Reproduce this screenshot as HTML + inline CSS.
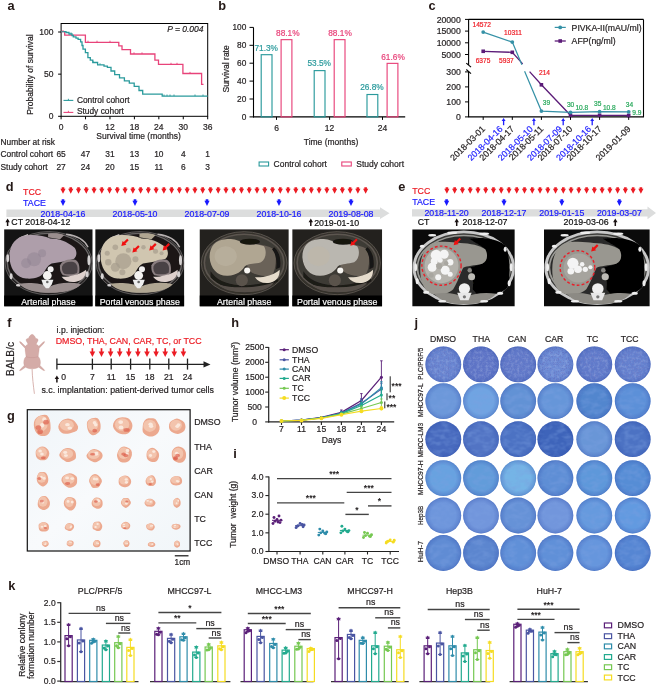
<!DOCTYPE html>
<html><head><meta charset="utf-8"><title>Figure</title>
<style>html,body{margin:0;padding:0;background:#fff;} svg{display:block;} text{font-family:"Liberation Sans", Arial, Helvetica, sans-serif;}</style>
</head><body>
<svg width="657" height="685" viewBox="0 0 657 685">
<defs>
<filter id="soft" x="-5%" y="-5%" width="110%" height="110%"><feGaussianBlur stdDeviation="0.55"/></filter>
<filter id="speck" x="0" y="0" width="1" height="1"><feTurbulence type="fractalNoise" baseFrequency="1.5" numOctaves="1" seed="4"/><feColorMatrix type="matrix" values="0 0 0 0 0.14  0 0 0 0 0.2  0 0 0 0 0.58  8 0 0 0 -4.0"/><feComposite in2="SourceGraphic" operator="in"/></filter>
<filter id="speck3" x="0" y="0" width="1" height="1"><feTurbulence type="fractalNoise" baseFrequency="0.35" numOctaves="2" seed="17"/><feColorMatrix type="matrix" values="0 0 0 0 0.6  0 0 0 0 0.72  0 0 0 0 0.93  3 0 0 0 -1.3"/><feComposite in2="SourceGraphic" operator="in"/></filter>
<filter id="speck2" x="0" y="0" width="1" height="1"><feTurbulence type="fractalNoise" baseFrequency="0.12 0.2" numOctaves="2" seed="9"/><feColorMatrix type="matrix" values="0 0 0 0 0.2  0 0 0 0 0.35  0 0 0 0 0.75  3 0 0 0 -1.2"/><feComposite in2="SourceGraphic" operator="in"/></filter>
<radialGradient id="rim" cx="0.5" cy="0.5" r="0.5"><stop offset="0.7" stop-color="#2a4aa8" stop-opacity="0"/><stop offset="0.93" stop-color="#2a4aa8" stop-opacity="0.22"/><stop offset="1" stop-color="#2a4aa8" stop-opacity="0.4"/></radialGradient>
<filter id="tsoft" x="-20%" y="-20%" width="140%" height="140%"><feGaussianBlur stdDeviation="0.45"/></filter>
</defs>
<text x="7.50" y="9.60" font-size="12.8" font-weight="bold" fill="#231816">a</text>
<rect x="61.10" y="23.50" width="146.60" height="92.80" fill="none" stroke="#000" stroke-width="1"/>
<line x1="58.10" y1="116.30" x2="61.10" y2="116.30" stroke="#000" stroke-width="1"/>
<text x="53.50" y="119.30" font-size="8.5" text-anchor="end" fill="#231f20" stroke="#231f20" stroke-width="0.2">0</text>
<line x1="58.10" y1="74.15" x2="61.10" y2="74.15" stroke="#000" stroke-width="1"/>
<text x="53.50" y="77.15" font-size="8.5" text-anchor="end" fill="#231f20" stroke="#231f20" stroke-width="0.2">50</text>
<line x1="58.10" y1="32.00" x2="61.10" y2="32.00" stroke="#000" stroke-width="1"/>
<text x="53.50" y="35.00" font-size="8.5" text-anchor="end" fill="#231f20" stroke="#231f20" stroke-width="0.2">100</text>
<line x1="61.10" y1="116.30" x2="61.10" y2="119.30" stroke="#000" stroke-width="1"/>
<text x="61.10" y="130.00" font-size="8.5" text-anchor="middle" fill="#231f20" stroke="#231f20" stroke-width="0.2">0</text>
<line x1="85.53" y1="116.30" x2="85.53" y2="119.30" stroke="#000" stroke-width="1"/>
<text x="85.53" y="130.00" font-size="8.5" text-anchor="middle" fill="#231f20" stroke="#231f20" stroke-width="0.2">6</text>
<line x1="109.97" y1="116.30" x2="109.97" y2="119.30" stroke="#000" stroke-width="1"/>
<text x="109.97" y="130.00" font-size="8.5" text-anchor="middle" fill="#231f20" stroke="#231f20" stroke-width="0.2">12</text>
<line x1="134.40" y1="116.30" x2="134.40" y2="119.30" stroke="#000" stroke-width="1"/>
<text x="134.40" y="130.00" font-size="8.5" text-anchor="middle" fill="#231f20" stroke="#231f20" stroke-width="0.2">18</text>
<line x1="158.83" y1="116.30" x2="158.83" y2="119.30" stroke="#000" stroke-width="1"/>
<text x="158.83" y="130.00" font-size="8.5" text-anchor="middle" fill="#231f20" stroke="#231f20" stroke-width="0.2">24</text>
<line x1="183.27" y1="116.30" x2="183.27" y2="119.30" stroke="#000" stroke-width="1"/>
<text x="183.27" y="130.00" font-size="8.5" text-anchor="middle" fill="#231f20" stroke="#231f20" stroke-width="0.2">30</text>
<line x1="207.70" y1="116.30" x2="207.70" y2="119.30" stroke="#000" stroke-width="1"/>
<text x="207.70" y="130.00" font-size="8.5" text-anchor="middle" fill="#231f20" stroke="#231f20" stroke-width="0.2">36</text>
<text x="138.60" y="139.30" font-size="8.5" text-anchor="middle" fill="#231f20" stroke="#231f20" stroke-width="0.2">Survival time (months)</text>
<text x="33.40" y="74.60" font-size="8.5" text-anchor="middle" fill="#231f20" stroke="#231f20" stroke-width="0.2" transform="rotate(-90 33.40 74.60)">Probability of survival</text>
<text x="203.50" y="32.30" font-size="8.5" text-anchor="end" font-style="italic" fill="#231f20" stroke="#231f20" stroke-width="0.2">P = 0.004</text>
<polyline points="61.30,31.60 64.70,31.60 64.70,35.20 85.40,35.20 85.40,42.30 118.80,42.30 118.80,45.90 122.00,45.90 122.00,49.60 130.50,49.60 130.50,54.00 154.90,54.00 154.90,60.10 158.50,60.10 158.50,64.40 182.90,64.40 182.90,73.50 201.60,73.50 201.60,84.40 203.50,84.40" fill="none" stroke="#e8437a" stroke-width="1.3"/>
<polyline points="61.30,31.60 66.00,31.60 66.00,32.50 69.00,32.50 69.00,34.00 72.00,34.00 72.00,35.50 73.30,35.50 73.30,36.90 76.00,36.90 76.00,38.20 78.10,38.20 78.10,39.40 80.60,39.40 80.60,41.80 82.00,41.80 82.00,45.50 83.00,45.50 83.00,49.10 85.40,49.10 85.40,52.70 87.90,52.70 87.90,57.60 90.30,57.60 90.30,60.10 92.80,60.10 92.80,62.50 97.60,62.50 97.60,64.90 104.00,64.90 104.00,66.20 107.40,66.20 107.40,67.40 111.00,67.40 111.00,71.00 114.70,71.00 114.70,74.70 119.50,74.70 119.50,77.80 124.40,77.80 124.40,80.80 129.30,80.80 129.30,83.20 134.20,83.20 134.20,86.40 139.00,86.40 139.00,90.50 142.70,90.50 142.70,94.20 162.20,94.20 162.20,96.10 207.70,96.10" fill="none" stroke="#2a9a9c" stroke-width="1.3"/>
<line x1="88.00" y1="40.70" x2="88.00" y2="42.30" stroke="#e8437a" stroke-width="0.9"/>
<line x1="97.00" y1="40.70" x2="97.00" y2="42.30" stroke="#e8437a" stroke-width="0.9"/>
<line x1="110.00" y1="40.70" x2="110.00" y2="42.30" stroke="#e8437a" stroke-width="0.9"/>
<line x1="134.00" y1="52.40" x2="134.00" y2="54.00" stroke="#e8437a" stroke-width="0.9"/>
<line x1="142.00" y1="52.40" x2="142.00" y2="54.00" stroke="#e8437a" stroke-width="0.9"/>
<line x1="171.00" y1="62.80" x2="171.00" y2="64.40" stroke="#e8437a" stroke-width="0.9"/>
<line x1="177.00" y1="62.80" x2="177.00" y2="64.40" stroke="#e8437a" stroke-width="0.9"/>
<line x1="190.00" y1="71.90" x2="190.00" y2="73.50" stroke="#e8437a" stroke-width="0.9"/>
<line x1="63.00" y1="30.00" x2="63.00" y2="31.60" stroke="#e8437a" stroke-width="0.9"/>
<line x1="93.00" y1="60.90" x2="93.00" y2="62.50" stroke="#2a9a9c" stroke-width="0.9"/>
<line x1="164.00" y1="94.50" x2="164.00" y2="96.10" stroke="#2a9a9c" stroke-width="0.9"/>
<line x1="167.00" y1="94.50" x2="167.00" y2="96.10" stroke="#2a9a9c" stroke-width="0.9"/>
<line x1="170.00" y1="94.50" x2="170.00" y2="96.10" stroke="#2a9a9c" stroke-width="0.9"/>
<line x1="174.00" y1="94.50" x2="174.00" y2="96.10" stroke="#2a9a9c" stroke-width="0.9"/>
<line x1="195.00" y1="94.50" x2="195.00" y2="96.10" stroke="#2a9a9c" stroke-width="0.9"/>
<line x1="203.00" y1="94.50" x2="203.00" y2="96.10" stroke="#2a9a9c" stroke-width="0.9"/>
<line x1="100.00" y1="63.30" x2="100.00" y2="64.90" stroke="#2a9a9c" stroke-width="0.9"/>
<line x1="71.00" y1="32.40" x2="71.00" y2="34.00" stroke="#2a9a9c" stroke-width="0.9"/>
<line x1="63.50" y1="100.40" x2="73.30" y2="100.40" stroke="#2a9a9c" stroke-width="1.1"/>
<line x1="68.40" y1="98.80" x2="68.40" y2="100.40" stroke="#2a9a9c" stroke-width="0.9"/>
<text x="76.90" y="102.90" font-size="8.4" fill="#231f20" stroke="#231f20" stroke-width="0.2">Control cohort</text>
<line x1="63.50" y1="112.40" x2="73.30" y2="112.40" stroke="#e8437a" stroke-width="1.1"/>
<line x1="68.40" y1="110.80" x2="68.40" y2="112.40" stroke="#e8437a" stroke-width="0.9"/>
<text x="76.90" y="114.20" font-size="8.4" fill="#231f20" stroke="#231f20" stroke-width="0.2">Study cohort</text>
<text x="0.50" y="145.20" font-size="8.4" fill="#231f20" stroke="#231f20" stroke-width="0.2">Number at risk</text>
<text x="0.50" y="156.60" font-size="8.4" fill="#231f20" stroke="#231f20" stroke-width="0.2">Control cohort</text>
<text x="0.50" y="169.60" font-size="8.4" fill="#231f20" stroke="#231f20" stroke-width="0.2">Study cohort</text>
<text x="61.10" y="156.60" font-size="8.4" text-anchor="middle" fill="#231f20" stroke="#231f20" stroke-width="0.2">65</text>
<text x="61.10" y="169.60" font-size="8.4" text-anchor="middle" fill="#231f20" stroke="#231f20" stroke-width="0.2">27</text>
<text x="85.53" y="156.60" font-size="8.4" text-anchor="middle" fill="#231f20" stroke="#231f20" stroke-width="0.2">47</text>
<text x="85.53" y="169.60" font-size="8.4" text-anchor="middle" fill="#231f20" stroke="#231f20" stroke-width="0.2">24</text>
<text x="109.97" y="156.60" font-size="8.4" text-anchor="middle" fill="#231f20" stroke="#231f20" stroke-width="0.2">31</text>
<text x="109.97" y="169.60" font-size="8.4" text-anchor="middle" fill="#231f20" stroke="#231f20" stroke-width="0.2">20</text>
<text x="134.40" y="156.60" font-size="8.4" text-anchor="middle" fill="#231f20" stroke="#231f20" stroke-width="0.2">13</text>
<text x="134.40" y="169.60" font-size="8.4" text-anchor="middle" fill="#231f20" stroke="#231f20" stroke-width="0.2">15</text>
<text x="158.83" y="156.60" font-size="8.4" text-anchor="middle" fill="#231f20" stroke="#231f20" stroke-width="0.2">10</text>
<text x="158.83" y="169.60" font-size="8.4" text-anchor="middle" fill="#231f20" stroke="#231f20" stroke-width="0.2">11</text>
<text x="183.27" y="156.60" font-size="8.4" text-anchor="middle" fill="#231f20" stroke="#231f20" stroke-width="0.2">4</text>
<text x="183.27" y="169.60" font-size="8.4" text-anchor="middle" fill="#231f20" stroke="#231f20" stroke-width="0.2">6</text>
<text x="207.70" y="156.60" font-size="8.4" text-anchor="middle" fill="#231f20" stroke="#231f20" stroke-width="0.2">1</text>
<text x="207.70" y="169.60" font-size="8.4" text-anchor="middle" fill="#231f20" stroke="#231f20" stroke-width="0.2">3</text>
<text x="218.20" y="9.60" font-size="12.8" font-weight="bold" fill="#231816">b</text>
<line x1="253.50" y1="27.40" x2="253.50" y2="117.40" stroke="#000" stroke-width="1.1"/>
<line x1="253.00" y1="116.90" x2="405.20" y2="116.90" stroke="#000" stroke-width="1.1"/>
<line x1="249.50" y1="116.90" x2="253.50" y2="116.90" stroke="#000" stroke-width="1"/>
<text x="246.30" y="119.80" font-size="8.3" text-anchor="end" fill="#231f20" stroke="#231f20" stroke-width="0.2">0</text>
<line x1="249.50" y1="99.00" x2="253.50" y2="99.00" stroke="#000" stroke-width="1"/>
<text x="246.30" y="101.90" font-size="8.3" text-anchor="end" fill="#231f20" stroke="#231f20" stroke-width="0.2">20</text>
<line x1="249.50" y1="81.10" x2="253.50" y2="81.10" stroke="#000" stroke-width="1"/>
<text x="246.30" y="84.00" font-size="8.3" text-anchor="end" fill="#231f20" stroke="#231f20" stroke-width="0.2">40</text>
<line x1="249.50" y1="63.20" x2="253.50" y2="63.20" stroke="#000" stroke-width="1"/>
<text x="246.30" y="66.10" font-size="8.3" text-anchor="end" fill="#231f20" stroke="#231f20" stroke-width="0.2">60</text>
<line x1="249.50" y1="45.30" x2="253.50" y2="45.30" stroke="#000" stroke-width="1"/>
<text x="246.30" y="48.20" font-size="8.3" text-anchor="end" fill="#231f20" stroke="#231f20" stroke-width="0.2">80</text>
<line x1="249.50" y1="27.40" x2="253.50" y2="27.40" stroke="#000" stroke-width="1"/>
<text x="246.30" y="30.30" font-size="8.3" text-anchor="end" fill="#231f20" stroke="#231f20" stroke-width="0.2">100</text>
<line x1="276.50" y1="116.90" x2="276.50" y2="119.90" stroke="#000" stroke-width="1"/>
<text x="276.50" y="130.60" font-size="8.5" text-anchor="middle" fill="#231f20" stroke="#231f20" stroke-width="0.2">6</text>
<line x1="329.60" y1="116.90" x2="329.60" y2="119.90" stroke="#000" stroke-width="1"/>
<text x="329.60" y="130.60" font-size="8.5" text-anchor="middle" fill="#231f20" stroke="#231f20" stroke-width="0.2">12</text>
<line x1="382.50" y1="116.90" x2="382.50" y2="119.90" stroke="#000" stroke-width="1"/>
<text x="382.50" y="130.60" font-size="8.5" text-anchor="middle" fill="#231f20" stroke="#231f20" stroke-width="0.2">24</text>
<text x="331.00" y="145.00" font-size="8.5" text-anchor="middle" fill="#231f20" stroke="#231f20" stroke-width="0.2">Time (months)</text>
<text x="228.60" y="68.90" font-size="8.5" text-anchor="middle" fill="#231f20" stroke="#231f20" stroke-width="0.2" transform="rotate(-90 228.60 68.90)">Survival rate</text>
<rect x="261.20" y="54.69" width="10.80" height="62.21" fill="none" stroke="#2a9a9c" stroke-width="1.15"/>
<rect x="281.10" y="39.65" width="10.80" height="77.25" fill="none" stroke="#e8437a" stroke-width="1.15"/>
<rect x="314.20" y="70.62" width="10.80" height="46.28" fill="none" stroke="#2a9a9c" stroke-width="1.15"/>
<rect x="334.20" y="39.65" width="10.80" height="77.25" fill="none" stroke="#e8437a" stroke-width="1.15"/>
<rect x="367.00" y="94.51" width="10.80" height="22.39" fill="none" stroke="#2a9a9c" stroke-width="1.15"/>
<rect x="387.10" y="63.37" width="10.80" height="53.53" fill="none" stroke="#e8437a" stroke-width="1.15"/>
<text x="266.20" y="51.00" font-size="8.3" text-anchor="middle" fill="#2a9a9c" stroke="#2a9a9c" stroke-width="0.2">71.3%</text>
<text x="287.80" y="36.00" font-size="8.3" text-anchor="middle" fill="#e8437a" stroke="#e8437a" stroke-width="0.2">88.1%</text>
<text x="319.20" y="66.30" font-size="8.3" text-anchor="middle" fill="#2a9a9c" stroke="#2a9a9c" stroke-width="0.2">53.5%</text>
<text x="340.00" y="35.80" font-size="8.3" text-anchor="middle" fill="#e8437a" stroke="#e8437a" stroke-width="0.2">88.1%</text>
<text x="371.90" y="89.80" font-size="8.3" text-anchor="middle" fill="#2a9a9c" stroke="#2a9a9c" stroke-width="0.2">26.8%</text>
<text x="393.00" y="60.30" font-size="8.3" text-anchor="middle" fill="#e8437a" stroke="#e8437a" stroke-width="0.2">61.6%</text>
<rect x="259.10" y="162.00" width="9.50" height="4.00" fill="none" stroke="#2a9a9c" stroke-width="1.1"/>
<text x="273.60" y="167.00" font-size="8.5" fill="#231f20" stroke="#231f20" stroke-width="0.2">Control cohort</text>
<rect x="341.80" y="162.00" width="9.50" height="4.00" fill="none" stroke="#e8437a" stroke-width="1.1"/>
<text x="356.30" y="167.00" font-size="8.5" fill="#231f20" stroke="#231f20" stroke-width="0.2">Study cohort</text>
<text x="428.60" y="9.80" font-size="12.8" font-weight="bold" fill="#231816">c</text>
<line x1="468.60" y1="19.40" x2="643.50" y2="19.40" stroke="#000" stroke-width="1.1"/>
<line x1="643.50" y1="19.40" x2="643.50" y2="116.90" stroke="#000" stroke-width="1.1"/>
<line x1="468.10" y1="116.90" x2="644.00" y2="116.90" stroke="#000" stroke-width="1.1"/>
<line x1="468.60" y1="18.90" x2="468.60" y2="65.00" stroke="#000" stroke-width="1.1"/>
<line x1="468.60" y1="71.50" x2="468.60" y2="116.90" stroke="#000" stroke-width="1.1"/>
<line x1="466.30" y1="63.10" x2="471.00" y2="67.20" stroke="#000" stroke-width="1.1"/>
<line x1="466.30" y1="69.50" x2="471.00" y2="73.60" stroke="#000" stroke-width="1.1"/>
<line x1="465.00" y1="19.40" x2="468.60" y2="19.40" stroke="#000" stroke-width="1"/>
<text x="460.80" y="22.50" font-size="8.7" text-anchor="end" fill="#231f20" stroke="#231f20" stroke-width="0.2">20000</text>
<line x1="465.00" y1="31.10" x2="468.60" y2="31.10" stroke="#000" stroke-width="1"/>
<text x="460.80" y="34.20" font-size="8.7" text-anchor="end" fill="#231f20" stroke="#231f20" stroke-width="0.2">15000</text>
<line x1="465.00" y1="42.80" x2="468.60" y2="42.80" stroke="#000" stroke-width="1"/>
<text x="460.80" y="45.90" font-size="8.7" text-anchor="end" fill="#231f20" stroke="#231f20" stroke-width="0.2">10000</text>
<line x1="465.00" y1="54.50" x2="468.60" y2="54.50" stroke="#000" stroke-width="1"/>
<text x="460.80" y="57.60" font-size="8.7" text-anchor="end" fill="#231f20" stroke="#231f20" stroke-width="0.2">5000</text>
<line x1="465.00" y1="71.90" x2="468.60" y2="71.90" stroke="#000" stroke-width="1"/>
<text x="460.80" y="75.00" font-size="8.7" text-anchor="end" fill="#231f20" stroke="#231f20" stroke-width="0.2">300</text>
<line x1="465.00" y1="86.90" x2="468.60" y2="86.90" stroke="#000" stroke-width="1"/>
<text x="460.80" y="90.00" font-size="8.7" text-anchor="end" fill="#231f20" stroke="#231f20" stroke-width="0.2">200</text>
<line x1="465.00" y1="101.90" x2="468.60" y2="101.90" stroke="#000" stroke-width="1"/>
<text x="460.80" y="105.00" font-size="8.7" text-anchor="end" fill="#231f20" stroke="#231f20" stroke-width="0.2">100</text>
<line x1="465.00" y1="116.90" x2="468.60" y2="116.90" stroke="#000" stroke-width="1"/>
<text x="460.80" y="120.00" font-size="8.7" text-anchor="end" fill="#231f20" stroke="#231f20" stroke-width="0.2">0</text>
<line x1="483.20" y1="116.90" x2="483.20" y2="119.90" stroke="#000" stroke-width="1"/>
<line x1="512.30" y1="116.90" x2="512.30" y2="119.90" stroke="#000" stroke-width="1"/>
<line x1="541.40" y1="116.90" x2="541.40" y2="119.90" stroke="#000" stroke-width="1"/>
<line x1="570.50" y1="116.90" x2="570.50" y2="119.90" stroke="#000" stroke-width="1"/>
<line x1="599.60" y1="116.90" x2="599.60" y2="119.90" stroke="#000" stroke-width="1"/>
<line x1="628.70" y1="116.90" x2="628.70" y2="119.90" stroke="#000" stroke-width="1"/>
<polyline points="483.20,51.28 512.30,52.31 522.68,63.90" fill="none" stroke="#5b1b78" stroke-width="1.3"/>
<polyline points="529.58,71.60 541.40,84.80 570.50,115.28 599.60,115.28 628.70,115.42" fill="none" stroke="#5b1b78" stroke-width="1.3"/>
<polyline points="483.20,32.10 512.30,42.07 521.89,64.80" fill="none" stroke="#3591a6" stroke-width="1.2"/>
<polyline points="524.59,71.20 541.40,111.05 570.50,112.40 599.60,111.65 628.70,111.80" fill="none" stroke="#3591a6" stroke-width="1.2"/>
<rect x="481.40" y="49.48" width="3.60" height="3.60" fill="#5b1b78"/>
<rect x="510.50" y="50.51" width="3.60" height="3.60" fill="#5b1b78"/>
<rect x="539.60" y="83.00" width="3.60" height="3.60" fill="#5b1b78"/>
<rect x="568.70" y="113.48" width="3.60" height="3.60" fill="#5b1b78"/>
<rect x="597.80" y="113.48" width="3.60" height="3.60" fill="#5b1b78"/>
<rect x="626.90" y="113.62" width="3.60" height="3.60" fill="#5b1b78"/>
<circle cx="483.20" cy="32.10" r="1.9" fill="#3591a6"/>
<circle cx="512.30" cy="42.07" r="1.9" fill="#3591a6"/>
<circle cx="541.40" cy="111.05" r="1.9" fill="#3591a6"/>
<circle cx="570.50" cy="112.40" r="1.9" fill="#3591a6"/>
<circle cx="599.60" cy="111.65" r="1.9" fill="#3591a6"/>
<circle cx="628.70" cy="111.80" r="1.9" fill="#3591a6"/>
<text x="481.70" y="27.40" font-size="6.6" text-anchor="middle" fill="#ee1c25" stroke="#ee1c25" stroke-width="0.2">14572</text>
<text x="513.00" y="34.70" font-size="6.6" text-anchor="middle" fill="#ee1c25" stroke="#ee1c25" stroke-width="0.2">10311</text>
<text x="483.00" y="62.50" font-size="6.6" text-anchor="middle" fill="#ee1c25" stroke="#ee1c25" stroke-width="0.2">6375</text>
<text x="506.40" y="62.50" font-size="6.6" text-anchor="middle" fill="#ee1c25" stroke="#ee1c25" stroke-width="0.2">5937</text>
<text x="544.50" y="75.40" font-size="6.6" text-anchor="middle" fill="#ee1c25" stroke="#ee1c25" stroke-width="0.2">214</text>
<text x="546.40" y="105.40" font-size="6.6" text-anchor="middle" fill="#27a85a" stroke="#27a85a" stroke-width="0.2">39</text>
<text x="570.60" y="106.90" font-size="6.6" text-anchor="middle" fill="#27a85a" stroke="#27a85a" stroke-width="0.2">30</text>
<text x="581.80" y="110.20" font-size="6.6" text-anchor="middle" fill="#27a85a" stroke="#27a85a" stroke-width="0.2">10.8</text>
<text x="597.70" y="106.00" font-size="6.6" text-anchor="middle" fill="#27a85a" stroke="#27a85a" stroke-width="0.2">35</text>
<text x="609.30" y="110.20" font-size="6.6" text-anchor="middle" fill="#27a85a" stroke="#27a85a" stroke-width="0.2">10.8</text>
<text x="629.50" y="106.70" font-size="6.6" text-anchor="middle" fill="#27a85a" stroke="#27a85a" stroke-width="0.2">34</text>
<text x="636.90" y="115.40" font-size="6.6" text-anchor="middle" fill="#27a85a" stroke="#27a85a" stroke-width="0.2">9.9</text>
<line x1="554.70" y1="27.40" x2="565.80" y2="27.40" stroke="#3591a6" stroke-width="1.2"/>
<circle cx="560.2" cy="27.4" r="1.9" fill="#3591a6"/>
<text x="571.60" y="30.60" font-size="8.7" fill="#231f20" stroke="#231f20" stroke-width="0.2">PIVKA-II(mAU/ml)</text>
<line x1="554.70" y1="41.00" x2="565.80" y2="41.00" stroke="#5b1b78" stroke-width="1.3"/>
<rect x="558.40" y="39.20" width="3.60" height="3.60" fill="#5b1b78"/>
<text x="571.60" y="44.20" font-size="8.7" fill="#231f20" stroke="#231f20" stroke-width="0.2">AFP(ng/ml)</text>
<text x="485.70" y="129.50" font-size="8.8" text-anchor="end" fill="#231f20" stroke="#231f20" stroke-width="0.2" transform="rotate(-45 485.70 129.50)">2018-03-01</text>
<text x="514.80" y="129.50" font-size="8.8" text-anchor="end" fill="#231f20" stroke="#231f20" stroke-width="0.2" transform="rotate(-45 514.80 129.50)">2018-04-17</text>
<text x="543.90" y="129.50" font-size="8.8" text-anchor="end" fill="#231f20" stroke="#231f20" stroke-width="0.2" transform="rotate(-45 543.90 129.50)">2018-05-11</text>
<text x="573.00" y="129.50" font-size="8.8" text-anchor="end" fill="#231f20" stroke="#231f20" stroke-width="0.2" transform="rotate(-45 573.00 129.50)">2018-07-10</text>
<text x="602.10" y="129.50" font-size="8.8" text-anchor="end" fill="#231f20" stroke="#231f20" stroke-width="0.2" transform="rotate(-45 602.10 129.50)">2018-10-17</text>
<text x="631.20" y="129.50" font-size="8.8" text-anchor="end" fill="#231f20" stroke="#231f20" stroke-width="0.2" transform="rotate(-45 631.20 129.50)">2019-01-09</text>
<text x="503.10" y="129.50" font-size="8.8" text-anchor="end" fill="#1f1fff" stroke="#1f1fff" stroke-width="0.2" transform="rotate(-45 503.10 129.50)">2018-04-16</text>
<line x1="503.60" y1="120.08" x2="503.60" y2="125.20" stroke="#1f1fff" stroke-width="1.3"/>
<path d="M501.65,121.12 L503.60,118.00 L505.55,121.12 Z" fill="#1f1fff"/>
<text x="533.40" y="129.50" font-size="8.8" text-anchor="end" fill="#1f1fff" stroke="#1f1fff" stroke-width="0.2" transform="rotate(-45 533.40 129.50)">2018-05-10</text>
<line x1="533.90" y1="120.08" x2="533.90" y2="125.20" stroke="#1f1fff" stroke-width="1.3"/>
<path d="M531.95,121.12 L533.90,118.00 L535.85,121.12 Z" fill="#1f1fff"/>
<text x="562.70" y="129.50" font-size="8.8" text-anchor="end" fill="#1f1fff" stroke="#1f1fff" stroke-width="0.2" transform="rotate(-45 562.70 129.50)">2018-07-09</text>
<line x1="563.20" y1="120.08" x2="563.20" y2="125.20" stroke="#1f1fff" stroke-width="1.3"/>
<path d="M561.25,121.12 L563.20,118.00 L565.15,121.12 Z" fill="#1f1fff"/>
<text x="591.70" y="129.50" font-size="8.8" text-anchor="end" fill="#1f1fff" stroke="#1f1fff" stroke-width="0.2" transform="rotate(-45 591.70 129.50)">2018-10-16</text>
<line x1="592.20" y1="120.08" x2="592.20" y2="125.20" stroke="#1f1fff" stroke-width="1.3"/>
<path d="M590.25,121.12 L592.20,118.00 L594.15,121.12 Z" fill="#1f1fff"/>
<text x="5.80" y="191.00" font-size="12.8" font-weight="bold" fill="#231816">d</text>
<text x="23.10" y="194.90" font-size="8.8" fill="#ec1c24" stroke="#ec1c24" stroke-width="0.2">TCC</text>
<text x="23.10" y="205.60" font-size="8.8" fill="#1a1aff" stroke="#1a1aff" stroke-width="0.2">TACE</text>
<path d="M61.70,187.20 L64.30,187.20 L64.30,188.70 L65.60,188.70 L63.00,193.80 L60.40,188.70 L61.70,188.70 Z" fill="#ec1c24"/>
<path d="M69.46,187.20 L72.06,187.20 L72.06,188.70 L73.36,188.70 L70.76,193.80 L68.16,188.70 L69.46,188.70 Z" fill="#ec1c24"/>
<path d="M77.22,187.20 L79.82,187.20 L79.82,188.70 L81.12,188.70 L78.52,193.80 L75.92,188.70 L77.22,188.70 Z" fill="#ec1c24"/>
<path d="M84.98,187.20 L87.58,187.20 L87.58,188.70 L88.88,188.70 L86.28,193.80 L83.68,188.70 L84.98,188.70 Z" fill="#ec1c24"/>
<path d="M92.74,187.20 L95.34,187.20 L95.34,188.70 L96.64,188.70 L94.04,193.80 L91.44,188.70 L92.74,188.70 Z" fill="#ec1c24"/>
<path d="M100.50,187.20 L103.10,187.20 L103.10,188.70 L104.40,188.70 L101.80,193.80 L99.20,188.70 L100.50,188.70 Z" fill="#ec1c24"/>
<path d="M108.26,187.20 L110.86,187.20 L110.86,188.70 L112.16,188.70 L109.56,193.80 L106.96,188.70 L108.26,188.70 Z" fill="#ec1c24"/>
<path d="M116.02,187.20 L118.62,187.20 L118.62,188.70 L119.92,188.70 L117.32,193.80 L114.72,188.70 L116.02,188.70 Z" fill="#ec1c24"/>
<path d="M123.78,187.20 L126.38,187.20 L126.38,188.70 L127.68,188.70 L125.08,193.80 L122.48,188.70 L123.78,188.70 Z" fill="#ec1c24"/>
<path d="M131.54,187.20 L134.14,187.20 L134.14,188.70 L135.44,188.70 L132.84,193.80 L130.24,188.70 L131.54,188.70 Z" fill="#ec1c24"/>
<path d="M139.30,187.20 L141.90,187.20 L141.90,188.70 L143.20,188.70 L140.60,193.80 L138.00,188.70 L139.30,188.70 Z" fill="#ec1c24"/>
<path d="M147.06,187.20 L149.66,187.20 L149.66,188.70 L150.96,188.70 L148.36,193.80 L145.76,188.70 L147.06,188.70 Z" fill="#ec1c24"/>
<path d="M154.82,187.20 L157.42,187.20 L157.42,188.70 L158.72,188.70 L156.12,193.80 L153.52,188.70 L154.82,188.70 Z" fill="#ec1c24"/>
<path d="M162.58,187.20 L165.18,187.20 L165.18,188.70 L166.48,188.70 L163.88,193.80 L161.28,188.70 L162.58,188.70 Z" fill="#ec1c24"/>
<path d="M170.34,187.20 L172.94,187.20 L172.94,188.70 L174.24,188.70 L171.64,193.80 L169.04,188.70 L170.34,188.70 Z" fill="#ec1c24"/>
<path d="M178.10,187.20 L180.70,187.20 L180.70,188.70 L182.00,188.70 L179.40,193.80 L176.80,188.70 L178.10,188.70 Z" fill="#ec1c24"/>
<path d="M185.86,187.20 L188.46,187.20 L188.46,188.70 L189.76,188.70 L187.16,193.80 L184.56,188.70 L185.86,188.70 Z" fill="#ec1c24"/>
<path d="M193.62,187.20 L196.22,187.20 L196.22,188.70 L197.52,188.70 L194.92,193.80 L192.32,188.70 L193.62,188.70 Z" fill="#ec1c24"/>
<path d="M201.38,187.20 L203.98,187.20 L203.98,188.70 L205.28,188.70 L202.68,193.80 L200.08,188.70 L201.38,188.70 Z" fill="#ec1c24"/>
<path d="M209.14,187.20 L211.74,187.20 L211.74,188.70 L213.04,188.70 L210.44,193.80 L207.84,188.70 L209.14,188.70 Z" fill="#ec1c24"/>
<path d="M216.90,187.20 L219.50,187.20 L219.50,188.70 L220.80,188.70 L218.20,193.80 L215.60,188.70 L216.90,188.70 Z" fill="#ec1c24"/>
<path d="M224.66,187.20 L227.26,187.20 L227.26,188.70 L228.56,188.70 L225.96,193.80 L223.36,188.70 L224.66,188.70 Z" fill="#ec1c24"/>
<path d="M232.42,187.20 L235.02,187.20 L235.02,188.70 L236.32,188.70 L233.72,193.80 L231.12,188.70 L232.42,188.70 Z" fill="#ec1c24"/>
<path d="M240.18,187.20 L242.78,187.20 L242.78,188.70 L244.08,188.70 L241.48,193.80 L238.88,188.70 L240.18,188.70 Z" fill="#ec1c24"/>
<path d="M247.94,187.20 L250.54,187.20 L250.54,188.70 L251.84,188.70 L249.24,193.80 L246.64,188.70 L247.94,188.70 Z" fill="#ec1c24"/>
<path d="M255.70,187.20 L258.30,187.20 L258.30,188.70 L259.60,188.70 L257.00,193.80 L254.40,188.70 L255.70,188.70 Z" fill="#ec1c24"/>
<path d="M263.46,187.20 L266.06,187.20 L266.06,188.70 L267.36,188.70 L264.76,193.80 L262.16,188.70 L263.46,188.70 Z" fill="#ec1c24"/>
<path d="M271.22,187.20 L273.82,187.20 L273.82,188.70 L275.12,188.70 L272.52,193.80 L269.92,188.70 L271.22,188.70 Z" fill="#ec1c24"/>
<path d="M278.98,187.20 L281.58,187.20 L281.58,188.70 L282.88,188.70 L280.28,193.80 L277.68,188.70 L278.98,188.70 Z" fill="#ec1c24"/>
<path d="M286.74,187.20 L289.34,187.20 L289.34,188.70 L290.64,188.70 L288.04,193.80 L285.44,188.70 L286.74,188.70 Z" fill="#ec1c24"/>
<path d="M294.50,187.20 L297.10,187.20 L297.10,188.70 L298.40,188.70 L295.80,193.80 L293.20,188.70 L294.50,188.70 Z" fill="#ec1c24"/>
<path d="M302.26,187.20 L304.86,187.20 L304.86,188.70 L306.16,188.70 L303.56,193.80 L300.96,188.70 L302.26,188.70 Z" fill="#ec1c24"/>
<path d="M310.02,187.20 L312.62,187.20 L312.62,188.70 L313.92,188.70 L311.32,193.80 L308.72,188.70 L310.02,188.70 Z" fill="#ec1c24"/>
<path d="M317.78,187.20 L320.38,187.20 L320.38,188.70 L321.68,188.70 L319.08,193.80 L316.48,188.70 L317.78,188.70 Z" fill="#ec1c24"/>
<path d="M325.54,187.20 L328.14,187.20 L328.14,188.70 L329.44,188.70 L326.84,193.80 L324.24,188.70 L325.54,188.70 Z" fill="#ec1c24"/>
<path d="M333.30,187.20 L335.90,187.20 L335.90,188.70 L337.20,188.70 L334.60,193.80 L332.00,188.70 L333.30,188.70 Z" fill="#ec1c24"/>
<path d="M341.06,187.20 L343.66,187.20 L343.66,188.70 L344.96,188.70 L342.36,193.80 L339.76,188.70 L341.06,188.70 Z" fill="#ec1c24"/>
<path d="M348.82,187.20 L351.42,187.20 L351.42,188.70 L352.72,188.70 L350.12,193.80 L347.52,188.70 L348.82,188.70 Z" fill="#ec1c24"/>
<path d="M356.58,187.20 L359.18,187.20 L359.18,188.70 L360.48,188.70 L357.88,193.80 L355.28,188.70 L356.58,188.70 Z" fill="#ec1c24"/>
<path d="M364.34,187.20 L366.94,187.20 L366.94,188.70 L368.24,188.70 L365.64,193.80 L363.04,188.70 L364.34,188.70 Z" fill="#ec1c24"/>
<path d="M61.70,199.30 L64.30,199.30 L64.30,200.80 L65.60,200.80 L63.00,205.90 L60.40,200.80 L61.70,200.80 Z" fill="#1a1aff"/>
<path d="M133.70,199.30 L136.30,199.30 L136.30,200.80 L137.60,200.80 L135.00,205.90 L132.40,200.80 L133.70,200.80 Z" fill="#1a1aff"/>
<path d="M205.70,199.30 L208.30,199.30 L208.30,200.80 L209.60,200.80 L207.00,205.90 L204.40,200.80 L205.70,200.80 Z" fill="#1a1aff"/>
<path d="M277.70,199.30 L280.30,199.30 L280.30,200.80 L281.60,200.80 L279.00,205.90 L276.40,200.80 L277.70,200.80 Z" fill="#1a1aff"/>
<path d="M349.70,199.30 L352.30,199.30 L352.30,200.80 L353.60,200.80 L351.00,205.90 L348.40,200.80 L349.70,200.80 Z" fill="#1a1aff"/>
<path d="M6.40,209.40 L380.00,209.40 L380.00,207.30 L389.50,213.15 L380.00,219.00 L380.00,216.90 L6.40,216.90 Z" fill="#dcdddd"/>
<text x="63.00" y="216.60" font-size="8.8" text-anchor="middle" fill="#1a1aff" stroke="#1a1aff" stroke-width="0.2">2018-04-16</text>
<text x="135.00" y="216.60" font-size="8.8" text-anchor="middle" fill="#1a1aff" stroke="#1a1aff" stroke-width="0.2">2018-05-10</text>
<text x="207.00" y="216.60" font-size="8.8" text-anchor="middle" fill="#1a1aff" stroke="#1a1aff" stroke-width="0.2">2018-07-09</text>
<text x="279.00" y="216.60" font-size="8.8" text-anchor="middle" fill="#1a1aff" stroke="#1a1aff" stroke-width="0.2">2018-10-16</text>
<text x="351.00" y="216.60" font-size="8.8" text-anchor="middle" fill="#1a1aff" stroke="#1a1aff" stroke-width="0.2">2019-08-08</text>
<line x1="7.60" y1="220.60" x2="7.60" y2="226.00" stroke="#1a1212" stroke-width="1.5"/>
<path d="M5.40,222.20 L7.60,218.60 L9.80,222.20 Z" fill="#1a1212"/>
<text x="11.30" y="225.40" font-size="8.8" fill="#111" stroke="#111" stroke-width="0.2">CT 2018-04-12</text>
<line x1="310.80" y1="220.60" x2="310.80" y2="226.00" stroke="#1a1212" stroke-width="1.5"/>
<path d="M308.60,222.20 L310.80,218.60 L313.00,222.20 Z" fill="#1a1212"/>
<text x="314.20" y="225.60" font-size="8.8" fill="#111" stroke="#111" stroke-width="0.2">2019-01-10</text>
<clipPath id="clip1"><rect x="4.10" y="229.20" width="88.60" height="77.30"/></clipPath>
<g clip-path="url(#clip1)">
<rect x="4.10" y="229.20" width="88.60" height="77.30" fill="#141414"/>
<g transform="translate(4.10,229.20) scale(1.0000,1.0000)" filter="url(#soft)">
<ellipse cx="44.6" cy="34" rx="43.6" ry="31.6" fill="#262424" stroke="#7a7676" stroke-width="0.7"/>
<ellipse cx="44.6" cy="33.6" rx="41.4" ry="29.4" fill="#1a1818" stroke="#6a6666" stroke-width="1.4"/>
<path d="M44,4.5 C50,3.5 56,4 60,6 L56,10 C52,9 47,9 44,8 Z" fill="#9a8e8e"/>
<path d="M7,22 C9,14 15,8 24,5.5" stroke="#c8c2c2" stroke-width="1.6" fill="none"/>
<path d="M62,5 C72,6 80,10 84,18" stroke="#b8b2b2" stroke-width="1.4" fill="none"/>
<ellipse cx="3.6" cy="29" rx="1.4" ry="4" fill="#d6d2d2"/>
<ellipse cx="84.8" cy="31" rx="1.5" ry="5" fill="#d6d2d2"/>
<ellipse cx="83" cy="45" rx="1.6" ry="3" fill="#d6d2d2"/>
<ellipse cx="7" cy="47" rx="1.5" ry="3" fill="#d6d2d2"/>
<ellipse cx="14" cy="56" rx="2" ry="1.2" fill="#d6d2d2"/>
<ellipse cx="70" cy="57" rx="3.5" ry="1.2" fill="#d6d2d2"/>
<path d="M15,54.5 C25,53 38,54 45,57.5 C54,53.5 66,52.5 77,55 C72,61 60,63.5 46,63.5 C32,63.5 21,61 15,54.5 Z" fill="#9a8e8e"/>
<path d="M5.6,26 C5.6,15 12,7.5 22,6.2 C32,5 40,7 46,9.2 C55,9.4 63,12 70.5,18.5 C73,22 73,27 70,29.5 C64,31.5 56,33 47.5,34.2 C43.5,36 41.5,40 40,43 C37,48 30,50 22,49.3 C13,48.3 7,41 5.6,31 Z" fill="#ae9eaa"/>
<circle cx="30" cy="30" r="7" fill="#8f8190" opacity="0.45"/>
<circle cx="22" cy="34" r="5" fill="#8f8190" opacity="0.45"/>
<circle cx="38" cy="24" r="4" fill="#8f8190" opacity="0.45"/>
<path d="M56,36 C58,31 64,29.5 71,30.5 C75,32 76,38 75,44 C72,47 64,47.5 59,46 C56,43.5 55.5,39 56,36 Z" fill="#8a7e80"/>
<path d="M58,37 C60,33 65,32 70,33 C73.5,35 74,39 73,43.5 C70,45.5 64,45.5 60,44.5 C58,42.5 57.5,39.5 58,37 Z" fill="#4a4244"/>
<path d="M57.5,47.5 C64,47.8 75,45.8 82,40.5 C82.3,46.5 79,51 72,52.6 C65.5,53.6 60.5,51.5 57.5,47.5 Z" fill="#ddd0cc"/>
<circle cx="43.2" cy="46.3" r="4.4" fill="#f4f2f0"/>
<path d="M37.3,50.5 L49.3,50.5 L47.5,55.5 L44.6,59 L41.8,59 L39,55.5 Z" fill="#eeeeee"/>
<circle cx="43.2" cy="52.8" r="1.3" fill="#666"/>
<circle cx="46.5" cy="40.1" r="3.0" fill="#f0eeee"/>
</g>
<rect x="4.10" y="295.50" width="88.60" height="11.00" fill="#000"/>
<text x="48.40" y="304.60" font-size="8.8" text-anchor="middle" fill="#fff" stroke="#fff" stroke-width="0.2">Arterial phase</text>
</g>
<clipPath id="clip2"><rect x="95.20" y="229.20" width="89.10" height="77.30"/></clipPath>
<g clip-path="url(#clip2)">
<rect x="95.20" y="229.20" width="89.10" height="77.30" fill="#141414"/>
<g transform="translate(95.20,229.20) scale(1.0056,1.0000)" filter="url(#soft)">
<ellipse cx="44.6" cy="34" rx="43.6" ry="31.6" fill="#262424" stroke="#7a7676" stroke-width="0.7"/>
<ellipse cx="44.6" cy="33.6" rx="41.4" ry="29.4" fill="#1a1818" stroke="#6a6666" stroke-width="1.4"/>
<path d="M44,4.5 C50,3.5 56,4 60,6 L56,10 C52,9 47,9 44,8 Z" fill="#b0a692"/>
<path d="M7,22 C9,14 15,8 24,5.5" stroke="#c8c2c2" stroke-width="1.6" fill="none"/>
<path d="M62,5 C72,6 80,10 84,18" stroke="#b8b2b2" stroke-width="1.4" fill="none"/>
<ellipse cx="3.6" cy="29" rx="1.4" ry="4" fill="#d6d2d2"/>
<ellipse cx="84.8" cy="31" rx="1.5" ry="5" fill="#d6d2d2"/>
<ellipse cx="83" cy="45" rx="1.6" ry="3" fill="#d6d2d2"/>
<ellipse cx="7" cy="47" rx="1.5" ry="3" fill="#d6d2d2"/>
<ellipse cx="14" cy="56" rx="2" ry="1.2" fill="#d6d2d2"/>
<ellipse cx="70" cy="57" rx="3.5" ry="1.2" fill="#d6d2d2"/>
<path d="M15,54.5 C25,53 38,54 45,57.5 C54,53.5 66,52.5 77,55 C72,61 60,63.5 46,63.5 C32,63.5 21,61 15,54.5 Z" fill="#b0a692"/>
<path d="M5.6,26 C5.6,15 12,7.5 22,6.2 C32,5 40,7 46,9.2 C55,9.4 63,12 70.5,18.5 C73,22 73,27 70,29.5 C64,31.5 56,33 47.5,34.2 C43.5,36 41.5,40 40,43 C37,48 30,50 22,49.3 C13,48.3 7,41 5.6,31 Z" fill="#d0c6b0"/>
<circle cx="28" cy="32" r="8" fill="#a39a8a" opacity="0.65"/>
<circle cx="20" cy="38" r="4.5" fill="#a39a8a" opacity="0.65"/>
<circle cx="13" cy="33" r="3.2" fill="#a39a8a" opacity="0.65"/>
<circle cx="20" cy="18" r="2.8" fill="#a39a8a" opacity="0.65"/>
<circle cx="12" cy="24" r="2.5" fill="#a39a8a" opacity="0.65"/>
<circle cx="33" cy="21" r="2.5" fill="#a39a8a" opacity="0.65"/>
<circle cx="40" cy="30" r="3" fill="#a39a8a" opacity="0.65"/>
<circle cx="27" cy="43" r="3" fill="#a39a8a" opacity="0.65"/>
<circle cx="48" cy="18" r="2.2" fill="#a39a8a" opacity="0.65"/>
<circle cx="60" cy="22" r="2.5" fill="#a39a8a" opacity="0.65"/>
<circle cx="66" cy="24" r="2" fill="#a39a8a" opacity="0.65"/>
<path d="M56,36 C58,31 64,29.5 71,30.5 C75,32 76,38 75,44 C72,47 64,47.5 59,46 C56,43.5 55.5,39 56,36 Z" fill="#8a7e80"/>
<path d="M58,37 C60,33 65,32 70,33 C73.5,35 74,39 73,43.5 C70,45.5 64,45.5 60,44.5 C58,42.5 57.5,39.5 58,37 Z" fill="#4a4244"/>
<path d="M57.5,47.5 C64,47.8 75,45.8 82,40.5 C82.3,46.5 79,51 72,52.6 C65.5,53.6 60.5,51.5 57.5,47.5 Z" fill="#ddd0cc"/>
<circle cx="43.2" cy="46.3" r="4.4" fill="#f4f2f0"/>
<path d="M37.3,50.5 L49.3,50.5 L47.5,55.5 L44.6,59 L41.8,59 L39,55.5 Z" fill="#eeeeee"/>
<circle cx="43.2" cy="52.8" r="1.3" fill="#666"/>
<circle cx="46.5" cy="40.1" r="3.0" fill="#f0eeee"/>
</g>
<rect x="95.20" y="295.50" width="89.10" height="11.00" fill="#000"/>
<text x="139.75" y="304.60" font-size="8.8" text-anchor="middle" fill="#fff" stroke="#fff" stroke-width="0.2">Portal venous phase</text>
</g>
<clipPath id="clip3"><rect x="199.50" y="229.20" width="89.30" height="77.30"/></clipPath>
<g clip-path="url(#clip3)">
<rect x="199.50" y="229.20" width="89.30" height="77.30" fill="#23211e"/>
<g transform="translate(199.50,229.20) scale(1.0079,1.0000)" filter="url(#soft)">
<ellipse cx="44.3" cy="34" rx="42.5" ry="31.5" fill="#34302c" stroke="#625c55" stroke-width="0.8"/>
<ellipse cx="44.3" cy="33.6" rx="39.5" ry="28.5" fill="#3e3a35" stroke="#5c5650" stroke-width="1.6"/>
<path d="M44,16 C54,14 66,15 74,20 C77,28 76,40 72,46 C64,48 56,46 50,42 C46,36 44,26 44,16 Z" fill="#6a6259"/>
<path d="M10,28 C10,17 16,10.5 26,10 C34,9.5 38,11 42,13.5 C50,15 59,14.5 64,17 C67,22 66,30 61,33 C55,35 49,34 45,37 C42,42 37,46 28,46.5 C18,47 11,40 10,28 Z" fill="#b0a692"/>
<ellipse cx="26" cy="27" rx="11" ry="10" fill="#c2b8a6" opacity="0.45"/>
<ellipse cx="50" cy="12.5" rx="10" ry="3" fill="#141210"/>
<path d="M74,18 C79,22 81,30 80,38 L76,40 C77,32 76,25 72,20 Z" fill="#161412"/>
<path d="M11,42 C16,50 26,55 40,56 C54,56.5 66,54 77,48 L78,52 C68,58 56,60.5 44,60.5 C30,60.5 18,56 11,48 Z" fill="#1c1a17"/>
<path d="M18,55 C28,58 38,58.5 46,58 C56,58 66,56 74,53 C70,60 58,63 45,63 C32,63 23,60 18,55 Z" fill="#57504a"/>
<ellipse cx="42" cy="51" rx="6" ry="6" fill="#5a534c"/>
<path d="M55,48 C63,48.5 73,46.5 79.5,40.5 C80,47 76.5,52 70,53.5 C63,54.5 58,52.5 55,48 Z" fill="#e6dccc"/>
<circle cx="47.3" cy="41.4" r="3" fill="#f8f6f2"/>
</g>
<rect x="199.50" y="295.50" width="89.30" height="11.00" fill="#000"/>
<text x="244.15" y="304.60" font-size="8.8" text-anchor="middle" fill="#fff" stroke="#fff" stroke-width="0.2">Arterial phase</text>
</g>
<clipPath id="clip4"><rect x="292.20" y="229.20" width="90.00" height="77.30"/></clipPath>
<g clip-path="url(#clip4)">
<rect x="292.20" y="229.20" width="90.00" height="77.30" fill="#23211e"/>
<g transform="translate(292.20,229.20) scale(1.0158,1.0000)" filter="url(#soft)">
<ellipse cx="44.3" cy="34" rx="42.5" ry="31.5" fill="#34302c" stroke="#625c55" stroke-width="0.8"/>
<ellipse cx="44.3" cy="33.6" rx="39.5" ry="28.5" fill="#3e3a35" stroke="#5c5650" stroke-width="1.6"/>
<path d="M44,16 C54,14 66,15 74,20 C77,28 76,40 72,46 C64,48 56,46 50,42 C46,36 44,26 44,16 Z" fill="#6a6259"/>
<path d="M10,28 C10,17 16,10.5 26,10 C34,9.5 38,11 42,13.5 C50,15 59,14.5 64,17 C67,22 66,30 61,33 C55,35 49,34 45,37 C42,42 37,46 28,46.5 C18,47 11,40 10,28 Z" fill="#bab7b0"/>
<ellipse cx="26" cy="27" rx="11" ry="10" fill="#c2b8a6" opacity="0.45"/>
<ellipse cx="50" cy="12.5" rx="10" ry="3" fill="#141210"/>
<path d="M74,18 C79,22 81,30 80,38 L76,40 C77,32 76,25 72,20 Z" fill="#161412"/>
<path d="M11,42 C16,50 26,55 40,56 C54,56.5 66,54 77,48 L78,52 C68,58 56,60.5 44,60.5 C30,60.5 18,56 11,48 Z" fill="#1c1a17"/>
<path d="M18,55 C28,58 38,58.5 46,58 C56,58 66,56 74,53 C70,60 58,63 45,63 C32,63 23,60 18,55 Z" fill="#57504a"/>
<ellipse cx="42" cy="51" rx="6" ry="6" fill="#5a534c"/>
<path d="M55,48 C63,48.5 73,46.5 79.5,40.5 C80,47 76.5,52 70,53.5 C63,54.5 58,52.5 55,48 Z" fill="#e6dccc"/>
<circle cx="47.3" cy="41.4" r="3" fill="#f8f6f2"/>
</g>
<rect x="292.20" y="295.50" width="90.00" height="11.00" fill="#000"/>
<text x="337.20" y="304.60" font-size="8.8" text-anchor="middle" fill="#fff" stroke="#fff" stroke-width="0.2">Portal venous phase</text>
</g>
<g transform="translate(121.70,245.70) rotate(135)"><path d="M0.5,0 L-4,-2.7 L-4,-1.1 L-8.8,-1.1 L-8.8,1.1 L-4,1.1 L-4,2.7 Z" fill="#f01010"/></g>
<g transform="translate(132.70,252.20) rotate(135)"><path d="M0.5,0 L-4,-2.7 L-4,-1.1 L-8.8,-1.1 L-8.8,1.1 L-4,1.1 L-4,2.7 Z" fill="#f01010"/></g>
<g transform="translate(149.60,250.10) rotate(135)"><path d="M0.5,0 L-4,-2.7 L-4,-1.1 L-8.8,-1.1 L-8.8,1.1 L-4,1.1 L-4,2.7 Z" fill="#f01010"/></g>
<g transform="translate(163.00,250.10) rotate(135)"><path d="M0.5,0 L-4,-2.7 L-4,-1.1 L-8.8,-1.1 L-8.8,1.1 L-4,1.1 L-4,2.7 Z" fill="#f01010"/></g>
<g transform="translate(350.70,245.50) rotate(135)"><path d="M0.5,0 L-4,-2.7 L-4,-1.1 L-8.8,-1.1 L-8.8,1.1 L-4,1.1 L-4,2.7 Z" fill="#f01010"/></g>
<text x="398.30" y="190.90" font-size="12.8" font-weight="bold" fill="#231816">e</text>
<text x="412.20" y="194.20" font-size="8.8" fill="#ec1c24" stroke="#ec1c24" stroke-width="0.2">TCC</text>
<text x="412.20" y="204.80" font-size="8.8" fill="#1a1aff" stroke="#1a1aff" stroke-width="0.2">TACE</text>
<path d="M445.60,187.20 L448.20,187.20 L448.20,188.70 L449.50,188.70 L446.90,193.80 L444.30,188.70 L445.60,188.70 Z" fill="#ec1c24"/>
<path d="M453.36,187.20 L455.96,187.20 L455.96,188.70 L457.26,188.70 L454.66,193.80 L452.06,188.70 L453.36,188.70 Z" fill="#ec1c24"/>
<path d="M461.12,187.20 L463.72,187.20 L463.72,188.70 L465.02,188.70 L462.42,193.80 L459.82,188.70 L461.12,188.70 Z" fill="#ec1c24"/>
<path d="M468.88,187.20 L471.48,187.20 L471.48,188.70 L472.78,188.70 L470.18,193.80 L467.58,188.70 L468.88,188.70 Z" fill="#ec1c24"/>
<path d="M476.64,187.20 L479.24,187.20 L479.24,188.70 L480.54,188.70 L477.94,193.80 L475.34,188.70 L476.64,188.70 Z" fill="#ec1c24"/>
<path d="M484.40,187.20 L487.00,187.20 L487.00,188.70 L488.30,188.70 L485.70,193.80 L483.10,188.70 L484.40,188.70 Z" fill="#ec1c24"/>
<path d="M492.16,187.20 L494.76,187.20 L494.76,188.70 L496.06,188.70 L493.46,193.80 L490.86,188.70 L492.16,188.70 Z" fill="#ec1c24"/>
<path d="M499.92,187.20 L502.52,187.20 L502.52,188.70 L503.82,188.70 L501.22,193.80 L498.62,188.70 L499.92,188.70 Z" fill="#ec1c24"/>
<path d="M507.68,187.20 L510.28,187.20 L510.28,188.70 L511.58,188.70 L508.98,193.80 L506.38,188.70 L507.68,188.70 Z" fill="#ec1c24"/>
<path d="M515.44,187.20 L518.04,187.20 L518.04,188.70 L519.34,188.70 L516.74,193.80 L514.14,188.70 L515.44,188.70 Z" fill="#ec1c24"/>
<path d="M523.20,187.20 L525.80,187.20 L525.80,188.70 L527.10,188.70 L524.50,193.80 L521.90,188.70 L523.20,188.70 Z" fill="#ec1c24"/>
<path d="M530.96,187.20 L533.56,187.20 L533.56,188.70 L534.86,188.70 L532.26,193.80 L529.66,188.70 L530.96,188.70 Z" fill="#ec1c24"/>
<path d="M538.72,187.20 L541.32,187.20 L541.32,188.70 L542.62,188.70 L540.02,193.80 L537.42,188.70 L538.72,188.70 Z" fill="#ec1c24"/>
<path d="M546.48,187.20 L549.08,187.20 L549.08,188.70 L550.38,188.70 L547.78,193.80 L545.18,188.70 L546.48,188.70 Z" fill="#ec1c24"/>
<path d="M554.24,187.20 L556.84,187.20 L556.84,188.70 L558.14,188.70 L555.54,193.80 L552.94,188.70 L554.24,188.70 Z" fill="#ec1c24"/>
<path d="M562.00,187.20 L564.60,187.20 L564.60,188.70 L565.90,188.70 L563.30,193.80 L560.70,188.70 L562.00,188.70 Z" fill="#ec1c24"/>
<path d="M569.76,187.20 L572.36,187.20 L572.36,188.70 L573.66,188.70 L571.06,193.80 L568.46,188.70 L569.76,188.70 Z" fill="#ec1c24"/>
<path d="M577.52,187.20 L580.12,187.20 L580.12,188.70 L581.42,188.70 L578.82,193.80 L576.22,188.70 L577.52,188.70 Z" fill="#ec1c24"/>
<path d="M585.28,187.20 L587.88,187.20 L587.88,188.70 L589.18,188.70 L586.58,193.80 L583.98,188.70 L585.28,188.70 Z" fill="#ec1c24"/>
<path d="M593.04,187.20 L595.64,187.20 L595.64,188.70 L596.94,188.70 L594.34,193.80 L591.74,188.70 L593.04,188.70 Z" fill="#ec1c24"/>
<path d="M600.80,187.20 L603.40,187.20 L603.40,188.70 L604.70,188.70 L602.10,193.80 L599.50,188.70 L600.80,188.70 Z" fill="#ec1c24"/>
<path d="M608.56,187.20 L611.16,187.20 L611.16,188.70 L612.46,188.70 L609.86,193.80 L607.26,188.70 L608.56,188.70 Z" fill="#ec1c24"/>
<path d="M616.32,187.20 L618.92,187.20 L618.92,188.70 L620.22,188.70 L617.62,193.80 L615.02,188.70 L616.32,188.70 Z" fill="#ec1c24"/>
<path d="M624.08,187.20 L626.68,187.20 L626.68,188.70 L627.98,188.70 L625.38,193.80 L622.78,188.70 L624.08,188.70 Z" fill="#ec1c24"/>
<path d="M631.84,187.20 L634.44,187.20 L634.44,188.70 L635.74,188.70 L633.14,193.80 L630.54,188.70 L631.84,188.70 Z" fill="#ec1c24"/>
<path d="M639.60,187.20 L642.20,187.20 L642.20,188.70 L643.50,188.70 L640.90,193.80 L638.30,188.70 L639.60,188.70 Z" fill="#ec1c24"/>
<path d="M445.30,199.30 L447.90,199.30 L447.90,200.80 L449.20,200.80 L446.60,205.90 L444.00,200.80 L445.30,200.80 Z" fill="#1a1aff"/>
<path d="M502.70,199.30 L505.30,199.30 L505.30,200.80 L506.60,200.80 L504.00,205.90 L501.40,200.80 L502.70,200.80 Z" fill="#1a1aff"/>
<path d="M560.50,199.30 L563.10,199.30 L563.10,200.80 L564.40,200.80 L561.80,205.90 L559.20,200.80 L560.50,200.80 Z" fill="#1a1aff"/>
<path d="M618.10,199.30 L620.70,199.30 L620.70,200.80 L622.00,200.80 L619.40,205.90 L616.80,200.80 L618.10,200.80 Z" fill="#1a1aff"/>
<path d="M412.00,209.20 L647.50,209.20 L647.50,206.60 L656.00,212.90 L647.50,219.20 L647.50,216.60 L412.00,216.60 Z" fill="#dcdddd"/>
<text x="446.60" y="216.40" font-size="8.8" text-anchor="middle" fill="#1a1aff" stroke="#1a1aff" stroke-width="0.2">2018-11-20</text>
<text x="504.00" y="216.40" font-size="8.8" text-anchor="middle" fill="#1a1aff" stroke="#1a1aff" stroke-width="0.2">2018-12-17</text>
<text x="561.80" y="216.40" font-size="8.8" text-anchor="middle" fill="#1a1aff" stroke="#1a1aff" stroke-width="0.2">2019-01-15</text>
<text x="619.40" y="216.40" font-size="8.8" text-anchor="middle" fill="#1a1aff" stroke="#1a1aff" stroke-width="0.2">2019-03-07</text>
<text x="417.70" y="224.90" font-size="8.8" fill="#111" stroke="#111" stroke-width="0.2">CT</text>
<line x1="456.70" y1="220.60" x2="456.70" y2="226.00" stroke="#1a1212" stroke-width="1.5"/>
<path d="M454.50,222.20 L456.70,218.60 L458.90,222.20 Z" fill="#1a1212"/>
<text x="462.50" y="225.40" font-size="8.8" fill="#111" stroke="#111" stroke-width="0.2">2018-12-07</text>
<text x="608.60" y="225.40" font-size="8.8" text-anchor="end" fill="#111" stroke="#111" stroke-width="0.2">2019-03-06</text>
<line x1="615.30" y1="220.60" x2="615.30" y2="226.00" stroke="#1a1212" stroke-width="1.5"/>
<path d="M613.10,222.20 L615.30,218.60 L617.50,222.20 Z" fill="#1a1212"/>
<clipPath id="clip5"><rect x="412.20" y="229.30" width="102.60" height="77.20"/></clipPath>
<g clip-path="url(#clip5)">
<rect x="412.20" y="229.30" width="102.60" height="77.20" fill="#0b0b0b"/>
<g transform="translate(412.20,229.30) scale(1.0000,1.0000)" filter="url(#soft)">
<ellipse cx="51.6" cy="38.4" rx="49.8" ry="35.8" fill="#3a3a38" stroke="#c8c8c8" stroke-width="2.8"/>
<ellipse cx="51.6" cy="38.4" rx="46.4" ry="32.2" fill="#2c2c2a" stroke="#9a9a96" stroke-width="1.6"/>
<path d="M57,9.5 C70,7.5 85,9.5 93,16 C98,25 98.5,45 95.5,58 C90,64 80,67 66,66.5 L60.5,60 C61.5,52 60.5,44 58.5,38 L70,34.5 C75.5,32 76,25 73,20 C68,15.5 62,13 57,9.5 Z" fill="#050505"/>
<path d="M8,40 C8,25 14,14 26,12.8 C36,11.8 42,13.2 48,13.6 C58,14 68,16 73,20 C76,25 75.5,32 70,34.5 C62,36.5 55,36.5 51,38.5 C48,44 46,52 41,60 C35,66 23,67.5 15.5,62.5 C10.5,57.5 8,50 8,40 Z" fill="#999790"/>
<path d="M22,64.5 C35,62.5 45,64.5 52,68 C60,64.5 72,62.5 84,64.5 C78,72 66,75 52,75 C38,75 28,72 22,64.5 Z" fill="#8c8a84"/>
<circle cx="52.2" cy="59.5" r="5.6" fill="#f0f0f0"/>
<path d="M45,63.5 L59.4,63.5 L56.4,71 L48,71 Z" fill="#e8e8e8"/>
<circle cx="52.2" cy="67.5" r="1.6" fill="#777"/>
<circle cx="59.4" cy="47.5" r="3.5" fill="#bdbbb5"/>
<circle cx="57.5" cy="41" r="2.2" fill="#8a8884"/>
<ellipse cx="10" cy="17" rx="2.5" ry="1.5" fill="#eeeeee"/>
<ellipse cx="93" cy="20" rx="1.5" ry="2.5" fill="#eeeeee"/>
<ellipse cx="99" cy="38" rx="1.4" ry="4" fill="#eeeeee"/>
<ellipse cx="3.5" cy="38" rx="1.4" ry="4" fill="#eeeeee"/>
<ellipse cx="20" cy="6" rx="4" ry="1.3" fill="#eeeeee"/>
<ellipse cx="40" cy="3.5" rx="5" ry="1.2" fill="#eeeeee"/>
<ellipse cx="72" cy="4.5" rx="5" ry="1.2" fill="#eeeeee"/>
<ellipse cx="5" cy="52" rx="1.5" ry="3" fill="#eeeeee"/>
<ellipse cx="97" cy="54" rx="1.5" ry="3" fill="#eeeeee"/>
<ellipse cx="14" cy="63" rx="3" ry="1.5" fill="#eeeeee"/>
<ellipse cx="88" cy="64" rx="3" ry="1.5" fill="#eeeeee"/>
<ellipse cx="30" cy="72" rx="4" ry="1.2" fill="#eeeeee"/>
<ellipse cx="72" cy="72" rx="4" ry="1.2" fill="#eeeeee"/>
<ellipse cx="29.3" cy="36.4" rx="17" ry="17.5" fill="#b4b2ac"/>
<circle cx="24" cy="26" r="5.5" fill="#f4f4f4"/>
<circle cx="32" cy="25" r="4.5" fill="#f4f4f4"/>
<circle cx="20" cy="38" r="4.5" fill="#f4f4f4"/>
<circle cx="33" cy="41" r="4.5" fill="#f4f4f4"/>
<circle cx="38" cy="33" r="3.2" fill="#f4f4f4"/>
<circle cx="26" cy="48" r="3" fill="#f4f4f4"/>
<circle cx="22" cy="32" r="3.5" fill="#f4f4f4"/>
<circle cx="38" cy="45" r="2.5" fill="#f4f4f4"/>
<circle cx="28" cy="31" r="2.5" fill="#f4f4f4"/>
<circle cx="27" cy="37" r="3" fill="#a8a6a0"/>
<circle cx="34" cy="34" r="2.2" fill="#a8a6a0"/>
<circle cx="19" cy="46" r="2.5" fill="#a8a6a0"/>
</g>
<circle cx="441.50" cy="265.70" r="19.6" fill="none" stroke="#e8202a" stroke-width="1.4" stroke-dasharray="2.8,2.2"/>
</g>
<clipPath id="clip6"><rect x="544.00" y="229.30" width="105.80" height="77.20"/></clipPath>
<g clip-path="url(#clip6)">
<rect x="544.00" y="229.30" width="105.80" height="77.20" fill="#0b0b0b"/>
<g transform="translate(544.00,229.30) scale(1.0312,1.0000)" filter="url(#soft)">
<ellipse cx="51.6" cy="38.4" rx="49.8" ry="35.8" fill="#3a3a38" stroke="#c8c8c8" stroke-width="2.8"/>
<ellipse cx="51.6" cy="38.4" rx="46.4" ry="32.2" fill="#2c2c2a" stroke="#9a9a96" stroke-width="1.6"/>
<path d="M57,9.5 C70,7.5 85,9.5 93,16 C98,25 98.5,45 95.5,58 C90,64 80,67 66,66.5 L60.5,60 C61.5,52 60.5,44 58.5,38 L70,34.5 C75.5,32 76,25 73,20 C68,15.5 62,13 57,9.5 Z" fill="#050505"/>
<path d="M8,40 C8,25 14,14 26,12.8 C36,11.8 42,13.2 48,13.6 C58,14 68,16 73,20 C76,25 75.5,32 70,34.5 C62,36.5 55,36.5 51,38.5 C48,44 46,52 41,60 C35,66 23,67.5 15.5,62.5 C10.5,57.5 8,50 8,40 Z" fill="#999790"/>
<path d="M22,64.5 C35,62.5 45,64.5 52,68 C60,64.5 72,62.5 84,64.5 C78,72 66,75 52,75 C38,75 28,72 22,64.5 Z" fill="#8c8a84"/>
<circle cx="52.2" cy="59.5" r="5.6" fill="#f0f0f0"/>
<path d="M45,63.5 L59.4,63.5 L56.4,71 L48,71 Z" fill="#e8e8e8"/>
<circle cx="52.2" cy="67.5" r="1.6" fill="#777"/>
<circle cx="59.4" cy="47.5" r="3.5" fill="#bdbbb5"/>
<circle cx="57.5" cy="41" r="2.2" fill="#8a8884"/>
<ellipse cx="10" cy="17" rx="2.5" ry="1.5" fill="#eeeeee"/>
<ellipse cx="93" cy="20" rx="1.5" ry="2.5" fill="#eeeeee"/>
<ellipse cx="99" cy="38" rx="1.4" ry="4" fill="#eeeeee"/>
<ellipse cx="3.5" cy="38" rx="1.4" ry="4" fill="#eeeeee"/>
<ellipse cx="20" cy="6" rx="4" ry="1.3" fill="#eeeeee"/>
<ellipse cx="40" cy="3.5" rx="5" ry="1.2" fill="#eeeeee"/>
<ellipse cx="72" cy="4.5" rx="5" ry="1.2" fill="#eeeeee"/>
<ellipse cx="5" cy="52" rx="1.5" ry="3" fill="#eeeeee"/>
<ellipse cx="97" cy="54" rx="1.5" ry="3" fill="#eeeeee"/>
<ellipse cx="14" cy="63" rx="3" ry="1.5" fill="#eeeeee"/>
<ellipse cx="88" cy="64" rx="3" ry="1.5" fill="#eeeeee"/>
<ellipse cx="30" cy="72" rx="4" ry="1.2" fill="#eeeeee"/>
<ellipse cx="72" cy="72" rx="4" ry="1.2" fill="#eeeeee"/>
<ellipse cx="33.5" cy="38.6" rx="14.5" ry="14.5" fill="#a6a49e"/>
<circle cx="28" cy="34" r="5.5" fill="#f4f4f4"/>
<circle cx="33" cy="40" r="3.8" fill="#f4f4f4"/>
<circle cx="26" cy="42" r="3.2" fill="#f4f4f4"/>
<circle cx="40" cy="40" r="2.6" fill="#f4f4f4"/>
<circle cx="37" cy="35" r="2.2" fill="#f4f4f4"/>
<circle cx="45" cy="38" r="2" fill="#f4f4f4"/>
</g>
<circle cx="577.50" cy="267.90" r="17.3" fill="none" stroke="#e8202a" stroke-width="1.4" stroke-dasharray="2.8,2.2"/>
</g>
<g transform="translate(454.00,244.80) rotate(135)"><path d="M0.5,0 L-4,-2.7 L-4,-1.1 L-8.8,-1.1 L-8.8,1.1 L-4,1.1 L-4,2.7 Z" fill="#f01010"/></g>
<g transform="translate(591.50,251.20) rotate(135)"><path d="M0.5,0 L-4,-2.7 L-4,-1.1 L-8.8,-1.1 L-8.8,1.1 L-4,1.1 L-4,2.7 Z" fill="#f01010"/></g>
<text x="7.30" y="326.80" font-size="12.8" font-weight="bold" fill="#231816">f</text>
<g fill="#d4aba7" stroke="#c49590" stroke-width="0.3">
<path d="M32.1,334.3 C33.5,334.5 35.2,336.5 35.8,338.6 C37.5,338.2 38.6,339.6 37.9,341.0 C37.4,342.0 36.6,343.0 36.2,344.2 C37.6,345.0 38.4,345.6 38.8,346.3 L43.2,342.0 L44.6,341.4 L44.2,342.9 L39.2,348.2 C39.2,351 38.4,354 38.2,356.5 C40.4,358.5 41.0,362.5 40.0,365.5 L43.8,369.2 L44.8,370.6 L43.4,370.5 L38.6,367.2 C36.8,368.4 34.4,368.8 32.1,368.8 C29.8,368.8 27.4,368.4 25.6,367.2 L20.8,370.5 L19.4,370.6 L20.4,369.2 L24.2,365.5 C23.2,362.5 23.8,358.5 26.0,356.5 C25.8,354 25.0,351 25.0,348.2 L20.0,342.9 L19.6,341.4 L21.0,342.0 L25.4,346.3 C25.8,345.6 26.6,345.0 28.0,344.2 C27.6,343.0 26.8,342.0 26.3,341.0 C25.6,339.6 26.7,338.2 28.4,338.6 C29.0,336.5 30.7,334.5 32.1,334.3 Z"/>
<path d="M26,356.5 C28,358 36,358 38.2,356.5" fill="none" stroke="#c08e8a" stroke-width="0.4"/>
</g>
<path d="M32.1,369 C32.3,377 33.4,386 34.4,393.8" stroke="#d4aba7" stroke-width="0.9" fill="none"/>
<text x="14.20" y="358.90" font-size="10.2" text-anchor="middle" fill="#231f20" stroke="#231f20" stroke-width="0.2" transform="rotate(-90 14.20 358.90)">BALB/c</text>
<text x="56.60" y="333.20" font-size="8.6" fill="#231f20" stroke="#231f20" stroke-width="0.2">i.p. injection:</text>
<text x="55.70" y="344.30" font-size="8.85" fill="#ec1c24" stroke="#ec1c24" stroke-width="0.2">DMSO, THA, CAN, CAR, TC, or TCC</text>
<line x1="56.90" y1="364.40" x2="205.00" y2="364.40" stroke="#222" stroke-width="1.4"/>
<path d="M203.5,361.2 L210.5,364.4 L203.5,367.6 Z" fill="#222"/>
<line x1="56.90" y1="358.60" x2="56.90" y2="369.60" stroke="#222" stroke-width="1.3"/>
<line x1="92.40" y1="358.60" x2="92.40" y2="369.60" stroke="#222" stroke-width="1.3"/>
<text x="92.40" y="379.60" font-size="8.6" text-anchor="middle" fill="#231f20" stroke="#231f20" stroke-width="0.2">7</text>
<line x1="111.20" y1="358.60" x2="111.20" y2="369.60" stroke="#222" stroke-width="1.3"/>
<text x="111.20" y="379.60" font-size="8.6" text-anchor="middle" fill="#231f20" stroke="#231f20" stroke-width="0.2">11</text>
<line x1="130.60" y1="358.60" x2="130.60" y2="369.60" stroke="#222" stroke-width="1.3"/>
<text x="130.60" y="379.60" font-size="8.6" text-anchor="middle" fill="#231f20" stroke="#231f20" stroke-width="0.2">15</text>
<line x1="149.80" y1="358.60" x2="149.80" y2="369.60" stroke="#222" stroke-width="1.3"/>
<text x="149.80" y="379.60" font-size="8.6" text-anchor="middle" fill="#231f20" stroke="#231f20" stroke-width="0.2">18</text>
<line x1="168.80" y1="358.60" x2="168.80" y2="369.60" stroke="#222" stroke-width="1.3"/>
<text x="168.80" y="379.60" font-size="8.6" text-anchor="middle" fill="#231f20" stroke="#231f20" stroke-width="0.2">21</text>
<line x1="187.50" y1="358.60" x2="187.50" y2="369.60" stroke="#222" stroke-width="1.3"/>
<text x="187.50" y="379.60" font-size="8.6" text-anchor="middle" fill="#231f20" stroke="#231f20" stroke-width="0.2">24</text>
<text x="63.60" y="379.60" font-size="8.6" text-anchor="middle" fill="#231f20" stroke="#231f20" stroke-width="0.2">0</text>
<line x1="56.90" y1="377.40" x2="56.90" y2="382.60" stroke="#1a1212" stroke-width="1.5"/>
<path d="M54.70,379.00 L56.90,375.40 L59.10,379.00 Z" fill="#1a1212"/>
<line x1="92.40" y1="348.20" x2="92.40" y2="352.50" stroke="#ec1c24" stroke-width="1.7"/>
<path d="M89.60,351.6 L95.20,351.6 L92.40,356.9 Z" fill="#ec1c24"/>
<line x1="101.50" y1="348.20" x2="101.50" y2="352.50" stroke="#ec1c24" stroke-width="1.7"/>
<path d="M98.70,351.6 L104.30,351.6 L101.50,356.9 Z" fill="#ec1c24"/>
<line x1="110.60" y1="348.20" x2="110.60" y2="352.50" stroke="#ec1c24" stroke-width="1.7"/>
<path d="M107.80,351.6 L113.40,351.6 L110.60,356.9 Z" fill="#ec1c24"/>
<line x1="119.70" y1="348.20" x2="119.70" y2="352.50" stroke="#ec1c24" stroke-width="1.7"/>
<path d="M116.90,351.6 L122.50,351.6 L119.70,356.9 Z" fill="#ec1c24"/>
<line x1="128.80" y1="348.20" x2="128.80" y2="352.50" stroke="#ec1c24" stroke-width="1.7"/>
<path d="M126.00,351.6 L131.60,351.6 L128.80,356.9 Z" fill="#ec1c24"/>
<line x1="137.90" y1="348.20" x2="137.90" y2="352.50" stroke="#ec1c24" stroke-width="1.7"/>
<path d="M135.10,351.6 L140.70,351.6 L137.90,356.9 Z" fill="#ec1c24"/>
<line x1="147.00" y1="348.20" x2="147.00" y2="352.50" stroke="#ec1c24" stroke-width="1.7"/>
<path d="M144.20,351.6 L149.80,351.6 L147.00,356.9 Z" fill="#ec1c24"/>
<line x1="156.10" y1="348.20" x2="156.10" y2="352.50" stroke="#ec1c24" stroke-width="1.7"/>
<path d="M153.30,351.6 L158.90,351.6 L156.10,356.9 Z" fill="#ec1c24"/>
<line x1="165.20" y1="348.20" x2="165.20" y2="352.50" stroke="#ec1c24" stroke-width="1.7"/>
<path d="M162.40,351.6 L168.00,351.6 L165.20,356.9 Z" fill="#ec1c24"/>
<line x1="174.30" y1="348.20" x2="174.30" y2="352.50" stroke="#ec1c24" stroke-width="1.7"/>
<path d="M171.50,351.6 L177.10,351.6 L174.30,356.9 Z" fill="#ec1c24"/>
<line x1="183.40" y1="348.20" x2="183.40" y2="352.50" stroke="#ec1c24" stroke-width="1.7"/>
<path d="M180.60,351.6 L186.20,351.6 L183.40,356.9 Z" fill="#ec1c24"/>
<text x="41.40" y="393.20" font-size="8.85" fill="#231f20" stroke="#231f20" stroke-width="0.2">s.c. implantation: patient-derived tumor cells</text>
<text x="7.00" y="419.50" font-size="12.8" font-weight="bold" fill="#231816">g</text>
<defs><linearGradient id="gbg" x1="0" y1="0" x2="1" y2="1"><stop offset="0" stop-color="#f0f5f9"/><stop offset="0.5" stop-color="#f8fafc"/><stop offset="1" stop-color="#f1f6f9"/></linearGradient></defs>
<rect x="27.30" y="409.70" width="162.80" height="141.30" fill="url(#gbg)" stroke="#111" stroke-width="1.2"/>
<g filter="url(#tsoft)">
<path d="M50.29,422.46 Q50.61,425.30 50.61,428.37 Q50.60,431.45 48.86,433.62 Q47.11,435.78 44.80,436.01 Q42.50,436.24 40.31,435.74 Q38.13,435.25 36.56,433.12 Q35.00,430.99 34.24,428.15 Q33.48,425.30 33.98,422.26 Q34.48,419.22 36.48,417.68 Q38.48,416.15 40.49,415.52 Q42.50,414.88 44.83,414.78 Q47.17,414.67 48.57,417.15 Q49.98,419.63 50.29,422.46Z" fill="#eca98f"/>
<ellipse cx="41.45" cy="423.46" rx="6.30" ry="7.82" fill="#f3c4ad"/>
<ellipse cx="44.34" cy="419.57" rx="2.10" ry="2.30" fill="#fbe8dc"/>
<ellipse cx="42.12" cy="425.36" rx="2.10" ry="2.30" fill="#fbe8dc"/>
<ellipse cx="40.13" cy="431.63" rx="2.80" ry="2.30" fill="#dc5a48" opacity="0.65"/>
<ellipse cx="46.01" cy="422.17" rx="2.80" ry="2.30" fill="#dc5a48" opacity="0.65"/>
<ellipse cx="38.35" cy="427.45" rx="2.80" ry="2.30" fill="#dc5a48" opacity="0.65"/>
</g>
<g filter="url(#tsoft)">
<path d="M77.25,424.64 Q78.64,426.50 77.92,428.68 Q77.20,430.86 74.82,431.84 Q72.44,432.81 70.22,433.32 Q68.00,433.84 65.40,433.86 Q62.80,433.89 60.98,432.29 Q59.16,430.69 58.54,428.59 Q57.92,426.50 58.90,424.58 Q59.88,422.65 61.45,421.04 Q63.02,419.42 65.51,418.88 Q68.00,418.33 70.48,418.89 Q72.95,419.46 74.41,421.12 Q75.87,422.77 77.25,424.64Z" fill="#eca98f"/>
<ellipse cx="66.83" cy="425.22" rx="7.02" ry="5.44" fill="#f3c4ad"/>
<ellipse cx="67.46" cy="424.70" rx="2.34" ry="1.60" fill="#fbe8dc"/>
<ellipse cx="69.74" cy="428.07" rx="2.34" ry="1.60" fill="#fbe8dc"/>
</g>
<g filter="url(#tsoft)">
<path d="M100.48,424.06 Q100.81,426.30 100.53,428.57 Q100.25,430.84 98.80,432.37 Q97.35,433.89 95.53,434.69 Q93.70,435.49 91.78,434.89 Q89.86,434.29 88.81,432.35 Q87.77,430.41 87.35,428.35 Q86.93,426.30 86.85,423.90 Q86.77,421.50 88.45,420.19 Q90.13,418.88 91.92,418.33 Q93.70,417.78 95.76,417.76 Q97.82,417.73 98.99,419.78 Q100.16,421.83 100.48,424.06Z" fill="#eca98f"/>
<ellipse cx="92.80" cy="424.86" rx="5.40" ry="6.12" fill="#f3c4ad"/>
<ellipse cx="95.72" cy="424.80" rx="1.80" ry="1.80" fill="#fbe8dc"/>
<ellipse cx="94.53" cy="422.75" rx="1.80" ry="1.80" fill="#fbe8dc"/>
<ellipse cx="94.71" cy="430.63" rx="2.40" ry="1.80" fill="#dc5a48" opacity="0.65"/>
</g>
<g filter="url(#tsoft)">
<path d="M132.17,423.79 Q132.77,426.00 132.02,428.13 Q131.27,430.26 129.73,432.05 Q128.20,433.84 125.75,434.23 Q123.30,434.61 121.02,433.96 Q118.73,433.32 116.77,431.93 Q114.81,430.53 113.64,428.27 Q112.46,426.00 113.29,423.55 Q114.12,421.10 116.08,419.33 Q118.03,417.56 120.67,417.41 Q123.30,417.26 125.82,417.60 Q128.34,417.93 129.96,419.76 Q131.57,421.58 132.17,423.79Z" fill="#eca98f"/>
<ellipse cx="122.10" cy="424.52" rx="7.20" ry="6.29" fill="#f3c4ad"/>
<ellipse cx="120.68" cy="422.06" rx="2.40" ry="1.85" fill="#fbe8dc"/>
<ellipse cx="121.02" cy="427.38" rx="2.40" ry="1.85" fill="#fbe8dc"/>
<ellipse cx="126.59" cy="429.94" rx="3.20" ry="1.85" fill="#dc5a48" opacity="0.65"/>
</g>
<g filter="url(#tsoft)">
<path d="M159.01,425.12 Q160.02,427.20 159.50,429.56 Q158.97,431.92 157.27,433.69 Q155.57,435.45 153.18,436.23 Q150.80,437.00 148.44,436.18 Q146.08,435.37 144.22,433.72 Q142.35,432.08 142.50,429.64 Q142.65,427.20 142.85,424.97 Q143.06,422.73 144.48,420.72 Q145.90,418.71 148.35,418.32 Q150.80,417.93 153.23,418.36 Q155.66,418.78 156.83,420.91 Q157.99,423.05 159.01,425.12Z" fill="#eca98f"/>
<ellipse cx="149.72" cy="425.76" rx="6.48" ry="6.12" fill="#f3c4ad"/>
<ellipse cx="150.58" cy="424.25" rx="2.16" ry="1.80" fill="#fbe8dc"/>
<ellipse cx="151.12" cy="426.32" rx="2.16" ry="1.80" fill="#fbe8dc"/>
</g>
<g filter="url(#tsoft)">
<path d="M185.16,424.38 Q185.73,426.50 185.17,428.63 Q184.60,430.76 182.86,432.08 Q181.11,433.41 179.06,433.76 Q177.00,434.12 175.14,433.43 Q173.29,432.74 171.45,431.68 Q169.62,430.63 169.21,428.57 Q168.80,426.50 169.14,424.40 Q169.48,422.29 171.23,421.02 Q172.98,419.75 174.99,418.91 Q177.00,418.07 178.97,418.98 Q180.94,419.89 182.76,421.07 Q184.58,422.26 185.16,424.38Z" fill="#eca98f"/>
<ellipse cx="176.01" cy="425.22" rx="5.94" ry="5.44" fill="#f3c4ad"/>
<ellipse cx="178.52" cy="424.82" rx="1.98" ry="1.60" fill="#fbe8dc"/>
<ellipse cx="177.25" cy="426.32" rx="1.98" ry="1.60" fill="#fbe8dc"/>
</g>
<g filter="url(#tsoft)">
<path d="M49.00,451.78 Q49.64,453.50 49.04,455.24 Q48.44,456.99 47.35,458.59 Q46.26,460.19 44.33,460.27 Q42.40,460.36 40.51,460.20 Q38.62,460.04 37.35,458.60 Q36.08,457.15 35.82,455.32 Q35.56,453.50 35.73,451.62 Q35.90,449.74 37.45,448.68 Q39.00,447.61 40.70,446.85 Q42.40,446.10 44.11,446.83 Q45.83,447.56 47.10,448.81 Q48.36,450.06 49.00,451.78Z" fill="#eca98f"/>
<ellipse cx="41.50" cy="452.30" rx="5.40" ry="5.10" fill="#f3c4ad"/>
<ellipse cx="41.95" cy="454.09" rx="1.80" ry="1.50" fill="#fbe8dc"/>
<ellipse cx="40.14" cy="450.92" rx="1.80" ry="1.50" fill="#fbe8dc"/>
<ellipse cx="43.36" cy="457.65" rx="2.40" ry="1.50" fill="#dc5a48" opacity="0.65"/>
</g>
<g filter="url(#tsoft)">
<path d="M75.69,453.19 Q76.04,455.00 76.04,456.98 Q76.04,458.96 73.99,459.88 Q71.93,460.81 69.97,461.68 Q68.00,462.55 66.05,461.65 Q64.10,460.76 62.56,459.60 Q61.01,458.44 59.83,456.72 Q58.65,455.00 59.86,453.29 Q61.07,451.59 62.35,450.06 Q63.63,448.54 65.81,448.18 Q68.00,447.81 70.11,448.29 Q72.21,448.78 73.78,450.08 Q75.35,451.38 75.69,453.19Z" fill="#eca98f"/>
<ellipse cx="66.98" cy="453.84" rx="6.12" ry="4.93" fill="#f3c4ad"/>
<ellipse cx="65.91" cy="455.59" rx="2.04" ry="1.45" fill="#fbe8dc"/>
<ellipse cx="65.21" cy="452.56" rx="2.04" ry="1.45" fill="#fbe8dc"/>
</g>
<g filter="url(#tsoft)">
<path d="M102.33,453.97 Q102.94,455.60 102.33,457.23 Q101.72,458.87 100.16,459.92 Q98.60,460.98 96.70,461.89 Q94.80,462.79 92.95,461.81 Q91.10,460.83 89.40,459.89 Q87.69,458.95 86.82,457.28 Q85.95,455.60 87.12,454.07 Q88.29,452.53 89.47,451.13 Q90.66,449.73 92.73,449.24 Q94.80,448.74 96.66,449.54 Q98.52,450.33 100.13,451.33 Q101.73,452.33 102.33,453.97Z" fill="#eca98f"/>
<ellipse cx="93.82" cy="454.53" rx="5.90" ry="4.56" fill="#f3c4ad"/>
<ellipse cx="96.13" cy="454.37" rx="1.97" ry="1.34" fill="#fbe8dc"/>
<ellipse cx="96.28" cy="452.99" rx="1.97" ry="1.34" fill="#fbe8dc"/>
<ellipse cx="92.65" cy="454.26" rx="2.62" ry="1.34" fill="#dc5a48" opacity="0.65"/>
</g>
<g filter="url(#tsoft)">
<path d="M131.85,452.18 Q132.11,454.50 131.50,456.59 Q130.90,458.69 129.61,460.33 Q128.31,461.98 126.40,462.24 Q124.50,462.50 122.51,462.41 Q120.52,462.32 119.05,460.67 Q117.58,459.03 117.18,456.76 Q116.77,454.50 117.61,452.52 Q118.45,450.54 119.59,448.82 Q120.73,447.11 122.62,446.70 Q124.50,446.29 126.28,446.90 Q128.06,447.51 129.82,448.69 Q131.58,449.87 131.85,452.18Z" fill="#eca98f"/>
<ellipse cx="123.60" cy="453.14" rx="5.40" ry="5.78" fill="#f3c4ad"/>
<ellipse cx="127.48" cy="450.52" rx="1.80" ry="1.70" fill="#fbe8dc"/>
<ellipse cx="126.66" cy="453.84" rx="1.80" ry="1.70" fill="#fbe8dc"/>
<ellipse cx="123.61" cy="454.12" rx="2.40" ry="1.70" fill="#dc5a48" opacity="0.65"/>
<ellipse cx="125.81" cy="455.44" rx="2.40" ry="1.70" fill="#dc5a48" opacity="0.65"/>
</g>
<g filter="url(#tsoft)">
<path d="M158.81,453.27 Q159.34,455.00 158.95,456.82 Q158.57,458.64 157.45,460.20 Q156.33,461.76 154.52,461.96 Q152.70,462.15 151.02,461.70 Q149.34,461.25 148.07,459.95 Q146.80,458.66 146.61,456.83 Q146.42,455.00 146.65,453.20 Q146.88,451.39 148.07,450.00 Q149.26,448.60 150.98,447.99 Q152.70,447.38 154.24,448.32 Q155.78,449.27 157.03,450.41 Q158.27,451.54 158.81,453.27Z" fill="#eca98f"/>
<ellipse cx="151.90" cy="453.85" rx="4.82" ry="4.90" fill="#f3c4ad"/>
<ellipse cx="150.51" cy="455.48" rx="1.61" ry="1.44" fill="#fbe8dc"/>
<ellipse cx="153.74" cy="451.61" rx="1.61" ry="1.44" fill="#fbe8dc"/>
</g>
<g filter="url(#tsoft)">
<path d="M185.88,452.81 Q186.26,455.00 185.88,457.19 Q185.50,459.38 184.09,461.00 Q182.67,462.61 180.74,462.75 Q178.80,462.89 177.11,462.27 Q175.42,461.64 173.94,460.39 Q172.47,459.14 172.05,457.07 Q171.64,455.00 171.77,452.74 Q171.90,450.49 173.40,448.92 Q174.91,447.36 176.85,446.84 Q178.80,446.33 180.70,446.94 Q182.59,447.55 184.05,449.08 Q185.50,450.61 185.88,452.81Z" fill="#eca98f"/>
<ellipse cx="177.90" cy="453.64" rx="5.40" ry="5.78" fill="#f3c4ad"/>
<ellipse cx="176.67" cy="453.37" rx="1.80" ry="1.70" fill="#fbe8dc"/>
<ellipse cx="176.77" cy="456.14" rx="1.80" ry="1.70" fill="#fbe8dc"/>
<ellipse cx="175.49" cy="458.71" rx="2.40" ry="1.70" fill="#dc5a48" opacity="0.65"/>
<ellipse cx="175.61" cy="457.71" rx="2.40" ry="1.70" fill="#dc5a48" opacity="0.65"/>
<ellipse cx="177.58" cy="455.55" rx="2.40" ry="1.70" fill="#dc5a48" opacity="0.65"/>
</g>
<g filter="url(#tsoft)">
<path d="M47.97,477.03 Q48.40,478.80 48.23,480.74 Q48.06,482.69 46.86,484.11 Q45.67,485.53 44.03,486.18 Q42.40,486.82 40.92,485.86 Q39.45,484.89 38.34,483.62 Q37.24,482.35 36.89,480.57 Q36.54,478.80 36.89,477.03 Q37.24,475.26 38.17,473.63 Q39.10,472.00 40.75,471.93 Q42.40,471.85 43.98,472.06 Q45.57,472.26 46.56,473.76 Q47.54,475.26 47.97,477.03Z" fill="#eca98f"/>
<ellipse cx="41.64" cy="477.60" rx="4.54" ry="5.10" fill="#f3c4ad"/>
<ellipse cx="41.37" cy="477.32" rx="1.51" ry="1.50" fill="#fbe8dc"/>
<ellipse cx="44.10" cy="478.24" rx="1.51" ry="1.50" fill="#fbe8dc"/>
<ellipse cx="39.34" cy="478.41" rx="2.02" ry="1.50" fill="#dc5a48" opacity="0.65"/>
</g>
<g filter="url(#tsoft)">
<path d="M77.13,478.50 Q77.16,480.40 77.07,482.27 Q76.99,484.15 75.41,485.49 Q73.82,486.82 71.71,487.53 Q69.60,488.23 67.64,487.29 Q65.69,486.35 64.27,485.09 Q62.85,483.82 61.93,482.11 Q61.02,480.40 61.64,478.54 Q62.27,476.69 63.97,475.55 Q65.66,474.41 67.63,473.67 Q69.60,472.93 71.61,473.61 Q73.62,474.29 75.36,475.45 Q77.10,476.60 77.13,478.50Z" fill="#eca98f"/>
<ellipse cx="68.62" cy="479.25" rx="5.90" ry="4.90" fill="#f3c4ad"/>
<ellipse cx="67.10" cy="477.93" rx="1.97" ry="1.44" fill="#fbe8dc"/>
<ellipse cx="72.23" cy="478.60" rx="1.97" ry="1.44" fill="#fbe8dc"/>
<ellipse cx="67.64" cy="483.45" rx="2.62" ry="1.44" fill="#dc5a48" opacity="0.65"/>
</g>
<g filter="url(#tsoft)">
<path d="M101.58,479.61 Q102.39,481.30 101.40,482.88 Q100.42,484.46 99.61,486.05 Q98.80,487.65 97.15,487.73 Q95.50,487.82 93.77,487.89 Q92.04,487.95 91.31,486.21 Q90.57,484.46 89.65,482.88 Q88.72,481.30 89.28,479.49 Q89.85,477.67 90.99,476.24 Q92.12,474.80 93.81,474.20 Q95.50,473.60 96.99,474.58 Q98.49,475.55 99.63,476.73 Q100.78,477.91 101.58,479.61Z" fill="#eca98f"/>
<ellipse cx="94.74" cy="480.18" rx="4.54" ry="4.76" fill="#f3c4ad"/>
<ellipse cx="96.55" cy="479.17" rx="1.51" ry="1.40" fill="#fbe8dc"/>
<ellipse cx="94.31" cy="478.92" rx="1.51" ry="1.40" fill="#fbe8dc"/>
<ellipse cx="97.75" cy="484.71" rx="2.02" ry="1.40" fill="#dc5a48" opacity="0.65"/>
</g>
<g filter="url(#tsoft)">
<path d="M130.85,479.84 Q131.41,481.30 131.05,482.87 Q130.68,484.44 129.44,485.55 Q128.19,486.67 126.55,487.10 Q124.90,487.53 123.26,487.10 Q121.61,486.66 120.26,485.60 Q118.91,484.55 118.72,482.92 Q118.52,481.30 118.73,479.68 Q118.94,478.06 120.41,477.22 Q121.88,476.38 123.39,475.81 Q124.90,475.25 126.52,475.64 Q128.14,476.02 129.21,477.20 Q130.29,478.38 130.85,479.84Z" fill="#eca98f"/>
<ellipse cx="124.10" cy="480.29" rx="4.82" ry="4.28" fill="#f3c4ad"/>
<ellipse cx="126.20" cy="479.52" rx="1.61" ry="1.26" fill="#fbe8dc"/>
<ellipse cx="126.45" cy="482.37" rx="1.61" ry="1.26" fill="#fbe8dc"/>
</g>
<g filter="url(#tsoft)">
<path d="M155.64,479.36 Q156.12,480.70 155.90,482.20 Q155.67,483.70 154.68,484.87 Q153.69,486.04 152.25,486.08 Q150.80,486.11 149.40,485.98 Q148.01,485.85 147.02,484.75 Q146.02,483.64 145.68,482.17 Q145.33,480.70 145.95,479.40 Q146.57,478.10 147.48,477.18 Q148.40,476.27 149.60,475.73 Q150.80,475.18 152.19,475.37 Q153.58,475.57 154.37,476.79 Q155.16,478.01 155.64,479.36Z" fill="#eca98f"/>
<ellipse cx="150.16" cy="479.80" rx="3.82" ry="3.84" fill="#f3c4ad"/>
<ellipse cx="150.81" cy="479.13" rx="1.27" ry="1.13" fill="#fbe8dc"/>
<ellipse cx="152.27" cy="481.61" rx="1.27" ry="1.13" fill="#fbe8dc"/>
<ellipse cx="150.28" cy="484.08" rx="1.70" ry="1.13" fill="#dc5a48" opacity="0.65"/>
</g>
<g filter="url(#tsoft)">
<path d="M181.88,479.59 Q182.20,480.80 182.07,482.09 Q181.93,483.38 180.64,484.18 Q179.35,484.99 177.82,485.24 Q176.30,485.50 174.73,485.31 Q173.16,485.12 172.00,484.21 Q170.85,483.30 170.44,482.05 Q170.03,480.80 170.46,479.56 Q170.89,478.32 172.09,477.50 Q173.30,476.67 174.80,476.36 Q176.30,476.05 177.94,476.17 Q179.57,476.30 180.57,477.35 Q181.56,478.39 181.88,479.59Z" fill="#eca98f"/>
<ellipse cx="175.54" cy="480.00" rx="4.54" ry="3.40" fill="#f3c4ad"/>
<ellipse cx="177.18" cy="481.06" rx="1.51" ry="1.00" fill="#fbe8dc"/>
<ellipse cx="178.14" cy="481.60" rx="1.51" ry="1.00" fill="#fbe8dc"/>
</g>
<g filter="url(#tsoft)">
<path d="M49.56,501.01 Q50.22,502.80 49.85,504.78 Q49.47,506.76 48.16,508.04 Q46.86,509.32 45.28,509.82 Q43.70,510.32 42.16,509.74 Q40.62,509.16 39.16,508.04 Q37.70,506.92 37.68,504.86 Q37.67,502.80 38.15,501.06 Q38.63,499.31 39.66,497.96 Q40.70,496.62 42.20,496.14 Q43.70,495.66 45.22,496.09 Q46.74,496.53 47.82,497.88 Q48.90,499.22 49.56,501.01Z" fill="#eca98f"/>
<ellipse cx="42.94" cy="501.60" rx="4.54" ry="5.10" fill="#f3c4ad"/>
<ellipse cx="41.72" cy="500.76" rx="1.51" ry="1.50" fill="#fbe8dc"/>
<ellipse cx="42.75" cy="502.04" rx="1.51" ry="1.50" fill="#fbe8dc"/>
<ellipse cx="41.82" cy="501.03" rx="2.02" ry="1.50" fill="#dc5a48" opacity="0.65"/>
</g>
<g filter="url(#tsoft)">
<path d="M76.10,501.48 Q76.49,503.40 75.94,505.22 Q75.39,507.03 74.27,508.41 Q73.16,509.79 71.58,510.38 Q70.00,510.97 68.57,510.07 Q67.14,509.17 65.90,508.08 Q64.66,507.00 64.09,505.20 Q63.51,503.40 63.97,501.52 Q64.42,499.64 65.69,498.44 Q66.96,497.25 68.48,497.06 Q70.00,496.86 71.47,497.15 Q72.95,497.45 74.33,498.50 Q75.71,499.55 76.10,501.48Z" fill="#eca98f"/>
<ellipse cx="69.28" cy="502.28" rx="4.32" ry="4.76" fill="#f3c4ad"/>
<ellipse cx="68.10" cy="501.46" rx="1.44" ry="1.40" fill="#fbe8dc"/>
<ellipse cx="72.16" cy="502.10" rx="1.44" ry="1.40" fill="#fbe8dc"/>
</g>
<g filter="url(#tsoft)">
<path d="M102.46,501.54 Q102.72,503.00 102.62,504.56 Q102.52,506.11 101.43,507.23 Q100.33,508.34 98.86,508.66 Q97.40,508.97 96.06,508.44 Q94.71,507.90 93.44,507.04 Q92.17,506.18 91.76,504.59 Q91.35,503.00 91.90,501.50 Q92.45,499.99 93.50,498.90 Q94.55,497.80 95.97,497.56 Q97.40,497.32 98.68,497.82 Q99.97,498.32 101.09,499.20 Q102.21,500.08 102.46,501.54Z" fill="#eca98f"/>
<ellipse cx="96.72" cy="502.04" rx="4.10" ry="4.08" fill="#f3c4ad"/>
<ellipse cx="97.79" cy="500.29" rx="1.37" ry="1.20" fill="#fbe8dc"/>
<ellipse cx="98.74" cy="500.98" rx="1.37" ry="1.20" fill="#fbe8dc"/>
<ellipse cx="95.88" cy="501.43" rx="1.82" ry="1.20" fill="#dc5a48" opacity="0.65"/>
</g>
<g filter="url(#tsoft)">
<path d="M130.62,501.60 Q131.26,502.80 130.54,503.96 Q129.82,505.12 128.94,505.92 Q128.06,506.72 126.93,507.51 Q125.80,508.30 124.63,507.58 Q123.46,506.86 122.63,505.98 Q121.80,505.11 121.22,503.96 Q120.65,502.80 121.13,501.59 Q121.60,500.38 122.35,499.25 Q123.11,498.13 124.45,498.10 Q125.80,498.07 127.16,498.07 Q128.53,498.07 129.25,499.23 Q129.97,500.39 130.62,501.60Z" fill="#eca98f"/>
<ellipse cx="125.20" cy="502.00" rx="3.60" ry="3.40" fill="#f3c4ad"/>
<ellipse cx="126.20" cy="503.56" rx="1.20" ry="1.00" fill="#fbe8dc"/>
<ellipse cx="126.54" cy="503.53" rx="1.20" ry="1.00" fill="#fbe8dc"/>
<ellipse cx="126.84" cy="501.52" rx="1.60" ry="1.00" fill="#dc5a48" opacity="0.65"/>
</g>
<g filter="url(#tsoft)">
<path d="M155.14,501.63 Q155.77,502.70 155.38,503.87 Q154.99,505.04 153.88,505.88 Q152.77,506.72 151.28,506.68 Q149.80,506.64 148.40,506.57 Q147.00,506.49 146.05,505.65 Q145.11,504.82 144.69,503.76 Q144.27,502.70 144.83,501.70 Q145.39,500.71 146.30,499.96 Q147.22,499.21 148.51,498.83 Q149.80,498.45 151.10,498.82 Q152.40,499.18 153.46,499.88 Q154.52,500.57 155.14,501.63Z" fill="#eca98f"/>
<ellipse cx="149.14" cy="502.01" rx="3.96" ry="2.92" fill="#f3c4ad"/>
<ellipse cx="147.71" cy="500.81" rx="1.32" ry="0.86" fill="#fbe8dc"/>
<ellipse cx="150.72" cy="501.82" rx="1.32" ry="0.86" fill="#fbe8dc"/>
</g>
<g filter="url(#tsoft)">
<path d="M180.51,501.48 Q180.76,502.80 180.54,504.13 Q180.31,505.47 179.45,506.16 Q178.58,506.86 177.69,507.58 Q176.80,508.30 175.91,507.58 Q175.02,506.87 174.21,506.13 Q173.40,505.39 173.35,504.09 Q173.31,502.80 173.32,501.49 Q173.34,500.17 174.19,499.47 Q175.03,498.77 175.92,498.18 Q176.80,497.59 177.79,497.93 Q178.79,498.28 179.53,499.22 Q180.27,500.17 180.51,501.48Z" fill="#eca98f"/>
<ellipse cx="176.34" cy="502.00" rx="2.74" ry="3.40" fill="#f3c4ad"/>
<ellipse cx="176.62" cy="503.33" rx="0.91" ry="1.00" fill="#fbe8dc"/>
<ellipse cx="178.28" cy="500.70" rx="0.91" ry="1.00" fill="#fbe8dc"/>
</g>
<g filter="url(#tsoft)">
<path d="M48.81,525.53 Q49.06,526.80 48.97,528.16 Q48.87,529.51 47.75,530.47 Q46.64,531.43 45.17,531.47 Q43.70,531.51 42.22,531.48 Q40.75,531.45 39.78,530.41 Q38.81,529.37 38.76,528.08 Q38.70,526.80 38.60,525.44 Q38.51,524.07 39.79,523.38 Q41.08,522.68 42.39,522.34 Q43.70,521.99 45.05,522.26 Q46.41,522.54 47.48,523.40 Q48.55,524.26 48.81,525.53Z" fill="#eca98f"/>
<ellipse cx="43.04" cy="526.00" rx="3.96" ry="3.40" fill="#f3c4ad"/>
<ellipse cx="42.05" cy="526.70" rx="1.32" ry="1.00" fill="#fbe8dc"/>
<ellipse cx="45.16" cy="526.09" rx="1.32" ry="1.00" fill="#fbe8dc"/>
<ellipse cx="45.32" cy="528.11" rx="1.76" ry="1.00" fill="#dc5a48" opacity="0.65"/>
</g>
<g filter="url(#tsoft)">
<path d="M74.04,525.97 Q74.28,527.10 73.73,528.08 Q73.19,529.05 72.39,529.77 Q71.59,530.48 70.49,530.91 Q69.40,531.33 68.34,530.85 Q67.28,530.38 66.22,529.83 Q65.15,529.29 64.83,528.19 Q64.50,527.10 65.12,526.16 Q65.74,525.22 66.37,524.29 Q66.99,523.37 68.19,523.16 Q69.40,522.95 70.59,523.18 Q71.79,523.41 72.79,524.12 Q73.79,524.84 74.04,525.97Z" fill="#eca98f"/>
<ellipse cx="68.84" cy="526.44" rx="3.35" ry="2.82" fill="#f3c4ad"/>
<ellipse cx="71.21" cy="526.21" rx="1.12" ry="0.83" fill="#fbe8dc"/>
<ellipse cx="70.68" cy="527.31" rx="1.12" ry="0.83" fill="#fbe8dc"/>
</g>
<g filter="url(#tsoft)">
<path d="M102.04,525.05 Q102.45,526.30 102.13,527.60 Q101.80,528.90 100.92,529.96 Q100.03,531.03 98.66,531.01 Q97.30,531.00 96.16,530.63 Q95.02,530.25 93.85,529.61 Q92.69,528.96 92.58,527.63 Q92.47,526.30 92.77,525.08 Q93.08,523.86 93.86,522.78 Q94.64,521.70 95.97,521.66 Q97.30,521.62 98.65,521.62 Q100.00,521.62 100.81,522.71 Q101.62,523.80 102.04,525.05Z" fill="#eca98f"/>
<ellipse cx="96.70" cy="525.50" rx="3.60" ry="3.40" fill="#f3c4ad"/>
<ellipse cx="95.59" cy="527.01" rx="1.20" ry="1.00" fill="#fbe8dc"/>
<ellipse cx="97.59" cy="524.08" rx="1.20" ry="1.00" fill="#fbe8dc"/>
</g>
<g filter="url(#tsoft)">
<path d="M130.14,524.86 Q130.41,525.80 130.11,526.73 Q129.81,527.65 129.08,528.49 Q128.35,529.33 127.07,529.44 Q125.80,529.54 124.64,529.28 Q123.48,529.01 122.49,528.40 Q121.50,527.79 121.19,526.79 Q120.88,525.80 121.30,524.86 Q121.72,523.91 122.54,523.16 Q123.35,522.41 124.58,521.97 Q125.80,521.53 126.96,522.06 Q128.12,522.59 128.99,523.26 Q129.86,523.92 130.14,524.86Z" fill="#eca98f"/>
<ellipse cx="125.20" cy="525.16" rx="3.60" ry="2.72" fill="#f3c4ad"/>
<ellipse cx="123.91" cy="524.47" rx="1.20" ry="0.80" fill="#fbe8dc"/>
<ellipse cx="124.18" cy="526.56" rx="1.20" ry="0.80" fill="#fbe8dc"/>
<ellipse cx="124.87" cy="528.16" rx="1.60" ry="0.80" fill="#dc5a48" opacity="0.65"/>
</g>
<g filter="url(#tsoft)">
<path d="M154.62,525.88 Q154.99,526.80 154.61,527.72 Q154.23,528.64 153.56,529.48 Q152.88,530.32 151.69,530.38 Q150.50,530.44 149.39,530.27 Q148.27,530.10 147.52,529.37 Q146.77,528.64 146.45,527.72 Q146.13,526.80 146.20,525.76 Q146.28,524.72 147.37,524.24 Q148.45,523.77 149.48,523.41 Q150.50,523.04 151.55,523.37 Q152.60,523.69 153.42,524.32 Q154.24,524.96 154.62,525.88Z" fill="#eca98f"/>
<ellipse cx="149.97" cy="526.19" rx="3.20" ry="2.58" fill="#f3c4ad"/>
<ellipse cx="152.28" cy="525.78" rx="1.07" ry="0.76" fill="#fbe8dc"/>
<ellipse cx="150.88" cy="526.02" rx="1.07" ry="0.76" fill="#fbe8dc"/>
</g>
<g filter="url(#tsoft)">
<path d="M180.56,525.98 Q180.69,526.80 180.27,527.52 Q179.86,528.24 178.98,528.70 Q178.11,529.15 177.05,529.52 Q176.00,529.89 174.90,529.57 Q173.81,529.25 172.99,528.74 Q172.17,528.23 171.81,527.51 Q171.45,526.80 171.65,526.03 Q171.86,525.26 172.65,524.60 Q173.45,523.95 174.72,523.89 Q176.00,523.82 177.28,523.88 Q178.55,523.95 179.49,524.55 Q180.42,525.15 180.56,525.98Z" fill="#eca98f"/>
<ellipse cx="175.44" cy="526.32" rx="3.35" ry="2.04" fill="#f3c4ad"/>
<ellipse cx="175.04" cy="525.45" rx="1.12" ry="0.60" fill="#fbe8dc"/>
<ellipse cx="174.73" cy="527.07" rx="1.12" ry="0.60" fill="#fbe8dc"/>
</g>
<g filter="url(#tsoft)">
<path d="M48.64,543.07 Q48.83,543.80 48.63,544.53 Q48.44,545.25 47.85,545.86 Q47.26,546.47 46.33,546.77 Q45.40,547.07 44.52,546.70 Q43.64,546.33 43.00,545.79 Q42.36,545.25 42.08,544.53 Q41.80,543.80 41.87,542.97 Q41.94,542.14 42.79,541.70 Q43.63,541.26 44.52,540.88 Q45.40,540.50 46.38,540.74 Q47.36,540.98 47.91,541.66 Q48.45,542.34 48.64,543.07Z" fill="#eca98f"/>
<ellipse cx="44.94" cy="543.30" rx="2.74" ry="2.14" fill="#f3c4ad"/>
<ellipse cx="45.51" cy="543.21" rx="0.91" ry="0.63" fill="#fbe8dc"/>
<ellipse cx="45.13" cy="544.42" rx="0.91" ry="0.63" fill="#fbe8dc"/>
</g>
<g filter="url(#tsoft)">
<path d="M73.71,542.69 Q73.68,543.50 73.49,544.21 Q73.30,544.91 72.66,545.45 Q72.03,546.00 71.11,546.37 Q70.20,546.74 69.25,546.42 Q68.30,546.10 67.53,545.58 Q66.76,545.07 66.73,544.28 Q66.70,543.50 66.80,542.75 Q66.90,542.00 67.54,541.36 Q68.17,540.72 69.18,540.60 Q70.20,540.49 71.23,540.58 Q72.27,540.67 73.01,541.28 Q73.74,541.89 73.71,542.69Z" fill="#eca98f"/>
<ellipse cx="69.74" cy="543.02" rx="2.74" ry="2.04" fill="#f3c4ad"/>
<ellipse cx="69.81" cy="542.00" rx="0.91" ry="0.60" fill="#fbe8dc"/>
<ellipse cx="70.98" cy="542.27" rx="0.91" ry="0.60" fill="#fbe8dc"/>
</g>
<g filter="url(#tsoft)">
<path d="M100.48,542.66 Q100.60,543.70 100.37,544.68 Q100.13,545.65 99.46,546.42 Q98.79,547.20 97.80,547.27 Q96.80,547.33 95.83,547.21 Q94.87,547.09 94.08,546.42 Q93.30,545.75 93.02,544.72 Q92.74,543.70 93.25,542.81 Q93.76,541.92 94.31,541.11 Q94.87,540.31 95.83,540.06 Q96.80,539.81 97.74,540.11 Q98.68,540.41 99.51,541.01 Q100.35,541.62 100.48,542.66Z" fill="#eca98f"/>
<ellipse cx="96.35" cy="543.09" rx="2.70" ry="2.58" fill="#f3c4ad"/>
<ellipse cx="96.88" cy="542.98" rx="0.90" ry="0.76" fill="#fbe8dc"/>
<ellipse cx="98.13" cy="543.49" rx="0.90" ry="0.76" fill="#fbe8dc"/>
</g>
<g filter="url(#tsoft)">
<path d="M129.35,542.59 Q129.67,543.40 129.47,544.29 Q129.27,545.18 128.73,545.91 Q128.18,546.64 127.34,546.91 Q126.50,547.18 125.65,546.92 Q124.80,546.66 124.33,545.88 Q123.85,545.10 123.46,544.25 Q123.07,543.40 123.44,542.54 Q123.81,541.68 124.40,541.08 Q124.99,540.49 125.74,540.34 Q126.50,540.18 127.29,540.27 Q128.08,540.36 128.56,541.07 Q129.04,541.77 129.35,542.59Z" fill="#eca98f"/>
<ellipse cx="126.12" cy="542.84" rx="2.27" ry="2.38" fill="#f3c4ad"/>
<ellipse cx="125.93" cy="543.15" rx="0.76" ry="0.70" fill="#fbe8dc"/>
<ellipse cx="127.20" cy="543.49" rx="0.76" ry="0.70" fill="#fbe8dc"/>
</g>
<g filter="url(#tsoft)">
<path d="M155.12,543.89 Q155.44,544.50 155.25,545.16 Q155.06,545.81 154.32,546.29 Q153.59,546.77 152.60,546.98 Q151.60,547.18 150.69,546.88 Q149.78,546.57 148.89,546.22 Q148.00,545.87 147.88,545.18 Q147.75,544.50 147.95,543.84 Q148.15,543.19 148.87,542.71 Q149.60,542.22 150.60,542.00 Q151.60,541.79 152.51,542.11 Q153.41,542.43 154.11,542.86 Q154.80,543.28 155.12,543.89Z" fill="#eca98f"/>
<ellipse cx="151.14" cy="544.10" rx="2.74" ry="1.70" fill="#f3c4ad"/>
<ellipse cx="152.26" cy="544.27" rx="0.91" ry="0.50" fill="#fbe8dc"/>
<ellipse cx="152.36" cy="543.89" rx="0.91" ry="0.50" fill="#fbe8dc"/>
</g>
<g filter="url(#tsoft)">
<path d="M179.90,543.11 Q180.04,544.00 180.02,544.96 Q179.99,545.92 179.36,546.61 Q178.72,547.31 177.86,547.55 Q177.00,547.79 176.17,547.50 Q175.33,547.21 174.70,546.54 Q174.07,545.88 174.12,544.94 Q174.16,544.00 174.18,543.10 Q174.20,542.21 174.85,541.66 Q175.50,541.12 176.25,540.73 Q177.00,540.34 177.78,540.67 Q178.55,541.01 179.16,541.62 Q179.76,542.23 179.90,543.11Z" fill="#eca98f"/>
<ellipse cx="176.62" cy="543.44" rx="2.27" ry="2.38" fill="#f3c4ad"/>
<ellipse cx="177.11" cy="543.66" rx="0.76" ry="0.70" fill="#fbe8dc"/>
<ellipse cx="177.82" cy="544.65" rx="0.76" ry="0.70" fill="#fbe8dc"/>
</g>
<text x="194.20" y="425.40" font-size="8.8" fill="#231f20" stroke="#231f20" stroke-width="0.2">DMSO</text>
<text x="194.20" y="449.90" font-size="8.8" fill="#231f20" stroke="#231f20" stroke-width="0.2">THA</text>
<text x="194.20" y="474.00" font-size="8.8" fill="#231f20" stroke="#231f20" stroke-width="0.2">CAR</text>
<text x="194.20" y="497.80" font-size="8.8" fill="#231f20" stroke="#231f20" stroke-width="0.2">CAN</text>
<text x="194.20" y="521.90" font-size="8.8" fill="#231f20" stroke="#231f20" stroke-width="0.2">TC</text>
<text x="194.20" y="546.30" font-size="8.8" fill="#231f20" stroke="#231f20" stroke-width="0.2">TCC</text>
<line x1="174.80" y1="555.80" x2="188.50" y2="555.80" stroke="#111" stroke-width="1.2"/>
<text x="174.60" y="565.20" font-size="8.3" fill="#231f20" stroke="#231f20" stroke-width="0.2">1cm</text>
<text x="231.30" y="327.00" font-size="12.8" font-weight="bold" fill="#231816">h</text>
<line x1="268.70" y1="346.90" x2="268.70" y2="422.50" stroke="#222" stroke-width="1.2"/>
<line x1="268.10" y1="421.90" x2="394.20" y2="421.90" stroke="#222" stroke-width="1.2"/>
<line x1="265.20" y1="421.90" x2="268.70" y2="421.90" stroke="#222" stroke-width="1.1"/>
<text x="254.70" y="424.80" font-size="8.6" text-anchor="middle" fill="#231f20" stroke="#231f20" stroke-width="0.2">0</text>
<line x1="265.20" y1="407.00" x2="268.70" y2="407.00" stroke="#222" stroke-width="1.1"/>
<text x="254.70" y="409.90" font-size="8.6" text-anchor="middle" fill="#231f20" stroke="#231f20" stroke-width="0.2">500</text>
<line x1="265.20" y1="392.10" x2="268.70" y2="392.10" stroke="#222" stroke-width="1.1"/>
<text x="254.70" y="395.00" font-size="8.6" text-anchor="middle" fill="#231f20" stroke="#231f20" stroke-width="0.2">1000</text>
<line x1="265.20" y1="377.20" x2="268.70" y2="377.20" stroke="#222" stroke-width="1.1"/>
<text x="254.70" y="380.10" font-size="8.6" text-anchor="middle" fill="#231f20" stroke="#231f20" stroke-width="0.2">1500</text>
<line x1="265.20" y1="362.30" x2="268.70" y2="362.30" stroke="#222" stroke-width="1.1"/>
<text x="254.70" y="365.20" font-size="8.6" text-anchor="middle" fill="#231f20" stroke="#231f20" stroke-width="0.2">2000</text>
<line x1="265.20" y1="347.40" x2="268.70" y2="347.40" stroke="#222" stroke-width="1.1"/>
<text x="254.70" y="350.30" font-size="8.6" text-anchor="middle" fill="#231f20" stroke="#231f20" stroke-width="0.2">2500</text>
<line x1="281.50" y1="421.90" x2="281.50" y2="424.90" stroke="#222" stroke-width="1.1"/>
<text x="281.50" y="432.30" font-size="8.6" text-anchor="middle" fill="#231f20" stroke="#231f20" stroke-width="0.2">7</text>
<line x1="301.50" y1="421.90" x2="301.50" y2="424.90" stroke="#222" stroke-width="1.1"/>
<text x="301.50" y="432.30" font-size="8.6" text-anchor="middle" fill="#231f20" stroke="#231f20" stroke-width="0.2">11</text>
<line x1="321.40" y1="421.90" x2="321.40" y2="424.90" stroke="#222" stroke-width="1.1"/>
<text x="321.40" y="432.30" font-size="8.6" text-anchor="middle" fill="#231f20" stroke="#231f20" stroke-width="0.2">15</text>
<line x1="341.40" y1="421.90" x2="341.40" y2="424.90" stroke="#222" stroke-width="1.1"/>
<text x="341.40" y="432.30" font-size="8.6" text-anchor="middle" fill="#231f20" stroke="#231f20" stroke-width="0.2">18</text>
<line x1="361.40" y1="421.90" x2="361.40" y2="424.90" stroke="#222" stroke-width="1.1"/>
<text x="361.40" y="432.30" font-size="8.6" text-anchor="middle" fill="#231f20" stroke="#231f20" stroke-width="0.2">21</text>
<line x1="381.40" y1="421.90" x2="381.40" y2="424.90" stroke="#222" stroke-width="1.1"/>
<text x="381.40" y="432.30" font-size="8.6" text-anchor="middle" fill="#231f20" stroke="#231f20" stroke-width="0.2">24</text>
<text x="331.60" y="443.00" font-size="8.6" text-anchor="middle" fill="#231f20" stroke="#231f20" stroke-width="0.2">Days</text>
<text x="238.20" y="382.00" font-size="8.6" text-anchor="middle" fill="#231f20" stroke="#231f20" stroke-width="0.2" transform="rotate(-90 238.20 382.00)">Tumor volume (mm<tspan font-size="5.5" dy="-3">3</tspan><tspan dy="3">)</tspan></text>
<polyline points="281.50,421.01 301.50,420.11 321.40,417.43 341.40,412.36 361.40,400.44 381.40,377.20" fill="none" stroke="#5a1f78" stroke-width="1.2"/>
<line x1="281.50" y1="420.71" x2="281.50" y2="421.30" stroke="#5a1f78" stroke-width="0.9"/>
<line x1="280.30" y1="420.71" x2="282.70" y2="420.71" stroke="#5a1f78" stroke-width="0.9"/>
<circle cx="281.50" cy="421.01" r="1.5" fill="#5a1f78"/>
<line x1="301.50" y1="419.81" x2="301.50" y2="420.41" stroke="#5a1f78" stroke-width="0.9"/>
<line x1="300.30" y1="419.81" x2="302.70" y2="419.81" stroke="#5a1f78" stroke-width="0.9"/>
<circle cx="301.50" cy="420.11" r="1.5" fill="#5a1f78"/>
<line x1="321.40" y1="416.83" x2="321.40" y2="418.03" stroke="#5a1f78" stroke-width="0.9"/>
<line x1="320.20" y1="416.83" x2="322.60" y2="416.83" stroke="#5a1f78" stroke-width="0.9"/>
<circle cx="321.40" cy="417.43" r="1.5" fill="#5a1f78"/>
<line x1="341.40" y1="409.98" x2="341.40" y2="414.75" stroke="#5a1f78" stroke-width="0.9"/>
<line x1="340.20" y1="409.98" x2="342.60" y2="409.98" stroke="#5a1f78" stroke-width="0.9"/>
<circle cx="341.40" cy="412.36" r="1.5" fill="#5a1f78"/>
<line x1="361.40" y1="393.59" x2="361.40" y2="407.30" stroke="#5a1f78" stroke-width="0.9"/>
<line x1="360.20" y1="393.59" x2="362.60" y2="393.59" stroke="#5a1f78" stroke-width="0.9"/>
<circle cx="361.40" cy="400.44" r="1.5" fill="#5a1f78"/>
<line x1="381.40" y1="360.81" x2="381.40" y2="393.59" stroke="#5a1f78" stroke-width="0.9"/>
<line x1="380.20" y1="360.81" x2="382.60" y2="360.81" stroke="#5a1f78" stroke-width="0.9"/>
<circle cx="381.40" cy="377.20" r="1.5" fill="#5a1f78"/>
<polyline points="281.50,421.01 301.50,420.11 321.40,417.73 341.40,412.96 361.40,403.13 381.40,389.12" fill="none" stroke="#4a55a2" stroke-width="1.2"/>
<line x1="281.50" y1="420.71" x2="281.50" y2="421.30" stroke="#4a55a2" stroke-width="0.9"/>
<line x1="280.30" y1="420.71" x2="282.70" y2="420.71" stroke="#4a55a2" stroke-width="0.9"/>
<circle cx="281.50" cy="421.01" r="1.5" fill="#4a55a2"/>
<line x1="301.50" y1="419.81" x2="301.50" y2="420.41" stroke="#4a55a2" stroke-width="0.9"/>
<line x1="300.30" y1="419.81" x2="302.70" y2="419.81" stroke="#4a55a2" stroke-width="0.9"/>
<circle cx="301.50" cy="420.11" r="1.5" fill="#4a55a2"/>
<line x1="321.40" y1="417.13" x2="321.40" y2="418.32" stroke="#4a55a2" stroke-width="0.9"/>
<line x1="320.20" y1="417.13" x2="322.60" y2="417.13" stroke="#4a55a2" stroke-width="0.9"/>
<circle cx="321.40" cy="417.73" r="1.5" fill="#4a55a2"/>
<line x1="341.40" y1="411.17" x2="341.40" y2="414.75" stroke="#4a55a2" stroke-width="0.9"/>
<line x1="340.20" y1="411.17" x2="342.60" y2="411.17" stroke="#4a55a2" stroke-width="0.9"/>
<circle cx="341.40" cy="412.96" r="1.5" fill="#4a55a2"/>
<line x1="361.40" y1="398.66" x2="361.40" y2="407.60" stroke="#4a55a2" stroke-width="0.9"/>
<line x1="360.20" y1="398.66" x2="362.60" y2="398.66" stroke="#4a55a2" stroke-width="0.9"/>
<circle cx="361.40" cy="403.13" r="1.5" fill="#4a55a2"/>
<line x1="381.40" y1="383.16" x2="381.40" y2="395.08" stroke="#4a55a2" stroke-width="0.9"/>
<line x1="380.20" y1="383.16" x2="382.60" y2="383.16" stroke="#4a55a2" stroke-width="0.9"/>
<circle cx="381.40" cy="389.12" r="1.5" fill="#4a55a2"/>
<polyline points="281.50,421.01 301.50,420.11 321.40,417.73 341.40,413.26 361.40,404.02 381.40,387.63" fill="none" stroke="#2e8caa" stroke-width="1.2"/>
<line x1="281.50" y1="420.71" x2="281.50" y2="421.30" stroke="#2e8caa" stroke-width="0.9"/>
<line x1="280.30" y1="420.71" x2="282.70" y2="420.71" stroke="#2e8caa" stroke-width="0.9"/>
<circle cx="281.50" cy="421.01" r="1.5" fill="#2e8caa"/>
<line x1="301.50" y1="419.81" x2="301.50" y2="420.41" stroke="#2e8caa" stroke-width="0.9"/>
<line x1="300.30" y1="419.81" x2="302.70" y2="419.81" stroke="#2e8caa" stroke-width="0.9"/>
<circle cx="301.50" cy="420.11" r="1.5" fill="#2e8caa"/>
<line x1="321.40" y1="417.13" x2="321.40" y2="418.32" stroke="#2e8caa" stroke-width="0.9"/>
<line x1="320.20" y1="417.13" x2="322.60" y2="417.13" stroke="#2e8caa" stroke-width="0.9"/>
<circle cx="321.40" cy="417.73" r="1.5" fill="#2e8caa"/>
<line x1="341.40" y1="411.77" x2="341.40" y2="414.75" stroke="#2e8caa" stroke-width="0.9"/>
<line x1="340.20" y1="411.77" x2="342.60" y2="411.77" stroke="#2e8caa" stroke-width="0.9"/>
<circle cx="341.40" cy="413.26" r="1.5" fill="#2e8caa"/>
<line x1="361.40" y1="400.44" x2="361.40" y2="407.60" stroke="#2e8caa" stroke-width="0.9"/>
<line x1="360.20" y1="400.44" x2="362.60" y2="400.44" stroke="#2e8caa" stroke-width="0.9"/>
<circle cx="361.40" cy="404.02" r="1.5" fill="#2e8caa"/>
<line x1="381.40" y1="381.67" x2="381.40" y2="393.59" stroke="#2e8caa" stroke-width="0.9"/>
<line x1="380.20" y1="381.67" x2="382.60" y2="381.67" stroke="#2e8caa" stroke-width="0.9"/>
<circle cx="381.40" cy="387.63" r="1.5" fill="#2e8caa"/>
<polyline points="281.50,421.01 301.50,420.26 321.40,418.03 341.40,413.56 361.40,405.51 381.40,395.08" fill="none" stroke="#22aa8e" stroke-width="1.2"/>
<line x1="281.50" y1="420.71" x2="281.50" y2="421.30" stroke="#22aa8e" stroke-width="0.9"/>
<line x1="280.30" y1="420.71" x2="282.70" y2="420.71" stroke="#22aa8e" stroke-width="0.9"/>
<circle cx="281.50" cy="421.01" r="1.5" fill="#22aa8e"/>
<line x1="301.50" y1="419.96" x2="301.50" y2="420.56" stroke="#22aa8e" stroke-width="0.9"/>
<line x1="300.30" y1="419.96" x2="302.70" y2="419.96" stroke="#22aa8e" stroke-width="0.9"/>
<circle cx="301.50" cy="420.26" r="1.5" fill="#22aa8e"/>
<line x1="321.40" y1="417.43" x2="321.40" y2="418.62" stroke="#22aa8e" stroke-width="0.9"/>
<line x1="320.20" y1="417.43" x2="322.60" y2="417.43" stroke="#22aa8e" stroke-width="0.9"/>
<circle cx="321.40" cy="418.03" r="1.5" fill="#22aa8e"/>
<line x1="341.40" y1="412.07" x2="341.40" y2="415.05" stroke="#22aa8e" stroke-width="0.9"/>
<line x1="340.20" y1="412.07" x2="342.60" y2="412.07" stroke="#22aa8e" stroke-width="0.9"/>
<circle cx="341.40" cy="413.56" r="1.5" fill="#22aa8e"/>
<line x1="361.40" y1="402.53" x2="361.40" y2="408.49" stroke="#22aa8e" stroke-width="0.9"/>
<line x1="360.20" y1="402.53" x2="362.60" y2="402.53" stroke="#22aa8e" stroke-width="0.9"/>
<circle cx="361.40" cy="405.51" r="1.5" fill="#22aa8e"/>
<line x1="381.40" y1="389.72" x2="381.40" y2="400.44" stroke="#22aa8e" stroke-width="0.9"/>
<line x1="380.20" y1="389.72" x2="382.60" y2="389.72" stroke="#22aa8e" stroke-width="0.9"/>
<circle cx="381.40" cy="395.08" r="1.5" fill="#22aa8e"/>
<polyline points="281.50,421.01 301.50,420.26 321.40,418.03 341.40,414.15 361.40,408.49 381.40,402.53" fill="none" stroke="#76c852" stroke-width="1.2"/>
<line x1="281.50" y1="420.71" x2="281.50" y2="421.30" stroke="#76c852" stroke-width="0.9"/>
<line x1="280.30" y1="420.71" x2="282.70" y2="420.71" stroke="#76c852" stroke-width="0.9"/>
<circle cx="281.50" cy="421.01" r="1.5" fill="#76c852"/>
<line x1="301.50" y1="419.96" x2="301.50" y2="420.56" stroke="#76c852" stroke-width="0.9"/>
<line x1="300.30" y1="419.96" x2="302.70" y2="419.96" stroke="#76c852" stroke-width="0.9"/>
<circle cx="301.50" cy="420.26" r="1.5" fill="#76c852"/>
<line x1="321.40" y1="417.43" x2="321.40" y2="418.62" stroke="#76c852" stroke-width="0.9"/>
<line x1="320.20" y1="417.43" x2="322.60" y2="417.43" stroke="#76c852" stroke-width="0.9"/>
<circle cx="321.40" cy="418.03" r="1.5" fill="#76c852"/>
<line x1="341.40" y1="412.96" x2="341.40" y2="415.34" stroke="#76c852" stroke-width="0.9"/>
<line x1="340.20" y1="412.96" x2="342.60" y2="412.96" stroke="#76c852" stroke-width="0.9"/>
<circle cx="341.40" cy="414.15" r="1.5" fill="#76c852"/>
<line x1="361.40" y1="406.11" x2="361.40" y2="410.87" stroke="#76c852" stroke-width="0.9"/>
<line x1="360.20" y1="406.11" x2="362.60" y2="406.11" stroke="#76c852" stroke-width="0.9"/>
<circle cx="361.40" cy="408.49" r="1.5" fill="#76c852"/>
<line x1="381.40" y1="398.95" x2="381.40" y2="406.11" stroke="#76c852" stroke-width="0.9"/>
<line x1="380.20" y1="398.95" x2="382.60" y2="398.95" stroke="#76c852" stroke-width="0.9"/>
<circle cx="381.40" cy="402.53" r="1.5" fill="#76c852"/>
<polyline points="281.50,421.01 301.50,420.41 321.40,418.32 341.40,414.75 361.40,411.17 381.40,408.49" fill="none" stroke="#f5dc22" stroke-width="1.2"/>
<line x1="281.50" y1="420.71" x2="281.50" y2="421.30" stroke="#f5dc22" stroke-width="0.9"/>
<line x1="280.30" y1="420.71" x2="282.70" y2="420.71" stroke="#f5dc22" stroke-width="0.9"/>
<circle cx="281.50" cy="421.01" r="2.0" fill="#f5dc22"/>
<line x1="301.50" y1="420.11" x2="301.50" y2="420.71" stroke="#f5dc22" stroke-width="0.9"/>
<line x1="300.30" y1="420.11" x2="302.70" y2="420.11" stroke="#f5dc22" stroke-width="0.9"/>
<circle cx="301.50" cy="420.41" r="2.0" fill="#f5dc22"/>
<line x1="321.40" y1="417.73" x2="321.40" y2="418.92" stroke="#f5dc22" stroke-width="0.9"/>
<line x1="320.20" y1="417.73" x2="322.60" y2="417.73" stroke="#f5dc22" stroke-width="0.9"/>
<circle cx="321.40" cy="418.32" r="2.0" fill="#f5dc22"/>
<line x1="341.40" y1="413.85" x2="341.40" y2="415.64" stroke="#f5dc22" stroke-width="0.9"/>
<line x1="340.20" y1="413.85" x2="342.60" y2="413.85" stroke="#f5dc22" stroke-width="0.9"/>
<circle cx="341.40" cy="414.75" r="2.0" fill="#f5dc22"/>
<line x1="361.40" y1="409.68" x2="361.40" y2="412.66" stroke="#f5dc22" stroke-width="0.9"/>
<line x1="360.20" y1="409.68" x2="362.60" y2="409.68" stroke="#f5dc22" stroke-width="0.9"/>
<circle cx="361.40" cy="411.17" r="2.0" fill="#f5dc22"/>
<line x1="381.40" y1="406.70" x2="381.40" y2="410.28" stroke="#f5dc22" stroke-width="0.9"/>
<line x1="380.20" y1="406.70" x2="382.60" y2="406.70" stroke="#f5dc22" stroke-width="0.9"/>
<circle cx="381.40" cy="408.49" r="2.0" fill="#f5dc22"/>
<line x1="279.60" y1="349.70" x2="288.90" y2="349.70" stroke="#5a1f78" stroke-width="1.2"/>
<circle cx="284.2" cy="349.7" r="1.5" fill="#5a1f78"/>
<text x="292.10" y="352.70" font-size="8.7" fill="#231f20" stroke="#231f20" stroke-width="0.2">DMSO</text>
<line x1="279.60" y1="359.80" x2="288.90" y2="359.80" stroke="#4a55a2" stroke-width="1.2"/>
<circle cx="284.2" cy="359.8" r="1.5" fill="#4a55a2"/>
<text x="292.10" y="362.80" font-size="8.7" fill="#231f20" stroke="#231f20" stroke-width="0.2">THA</text>
<line x1="279.60" y1="369.10" x2="288.90" y2="369.10" stroke="#2e8caa" stroke-width="1.2"/>
<circle cx="284.2" cy="369.1" r="1.5" fill="#2e8caa"/>
<text x="292.10" y="372.10" font-size="8.7" fill="#231f20" stroke="#231f20" stroke-width="0.2">CAN</text>
<line x1="279.60" y1="378.40" x2="288.90" y2="378.40" stroke="#22aa8e" stroke-width="1.2"/>
<circle cx="284.2" cy="378.4" r="1.5" fill="#22aa8e"/>
<text x="292.10" y="381.40" font-size="8.7" fill="#231f20" stroke="#231f20" stroke-width="0.2">CAR</text>
<line x1="279.60" y1="388.30" x2="288.90" y2="388.30" stroke="#76c852" stroke-width="1.2"/>
<circle cx="284.2" cy="388.3" r="1.5" fill="#76c852"/>
<text x="292.10" y="391.30" font-size="8.7" fill="#231f20" stroke="#231f20" stroke-width="0.2">TC</text>
<line x1="279.60" y1="398.10" x2="288.90" y2="398.10" stroke="#f5dc22" stroke-width="1.2"/>
<circle cx="284.2" cy="398.1" r="2.0" fill="#f5dc22"/>
<text x="292.10" y="401.10" font-size="8.7" fill="#231f20" stroke="#231f20" stroke-width="0.2">TCC</text>
<line x1="390.20" y1="376.30" x2="390.20" y2="392.30" stroke="#222" stroke-width="1"/>
<line x1="387.00" y1="393.30" x2="387.00" y2="400.30" stroke="#222" stroke-width="1"/>
<line x1="384.80" y1="401.50" x2="384.80" y2="408.30" stroke="#222" stroke-width="1"/>
<text x="391.60" y="388.60" font-size="8.5" font-weight="bold" fill="#231f20">***</text>
<text x="388.60" y="400.60" font-size="8.5" font-weight="bold" fill="#231f20">**</text>
<text x="386.40" y="409.60" font-size="8.5" font-weight="bold" fill="#231f20">***</text>
<text x="233.30" y="457.50" font-size="12.8" font-weight="bold" fill="#231816">i</text>
<line x1="268.90" y1="476.40" x2="268.90" y2="552.10" stroke="#222" stroke-width="1.2"/>
<line x1="268.30" y1="551.50" x2="399.00" y2="551.50" stroke="#222" stroke-width="1.2"/>
<line x1="265.40" y1="551.50" x2="268.90" y2="551.50" stroke="#222" stroke-width="1.1"/>
<text x="263.50" y="554.40" font-size="8.6" text-anchor="end" fill="#231f20" stroke="#231f20" stroke-width="0.2">0.0</text>
<line x1="265.40" y1="532.85" x2="268.90" y2="532.85" stroke="#222" stroke-width="1.1"/>
<text x="263.50" y="535.75" font-size="8.6" text-anchor="end" fill="#231f20" stroke="#231f20" stroke-width="0.2">1.0</text>
<line x1="265.40" y1="514.20" x2="268.90" y2="514.20" stroke="#222" stroke-width="1.1"/>
<text x="263.50" y="517.10" font-size="8.6" text-anchor="end" fill="#231f20" stroke="#231f20" stroke-width="0.2">2.0</text>
<line x1="265.40" y1="495.55" x2="268.90" y2="495.55" stroke="#222" stroke-width="1.1"/>
<text x="263.50" y="498.45" font-size="8.6" text-anchor="end" fill="#231f20" stroke="#231f20" stroke-width="0.2">3.0</text>
<line x1="265.40" y1="476.90" x2="268.90" y2="476.90" stroke="#222" stroke-width="1.1"/>
<text x="263.50" y="479.80" font-size="8.6" text-anchor="end" fill="#231f20" stroke="#231f20" stroke-width="0.2">4.0</text>
<line x1="277.00" y1="551.50" x2="277.00" y2="554.50" stroke="#222" stroke-width="1.1"/>
<line x1="300.10" y1="551.50" x2="300.10" y2="554.50" stroke="#222" stroke-width="1.1"/>
<line x1="322.80" y1="551.50" x2="322.80" y2="554.50" stroke="#222" stroke-width="1.1"/>
<line x1="344.90" y1="551.50" x2="344.90" y2="554.50" stroke="#222" stroke-width="1.1"/>
<line x1="367.50" y1="551.50" x2="367.50" y2="554.50" stroke="#222" stroke-width="1.1"/>
<line x1="390.20" y1="551.50" x2="390.20" y2="554.50" stroke="#222" stroke-width="1.1"/>
<text x="276.20" y="564.20" font-size="8.6" text-anchor="middle" fill="#231f20" stroke="#231f20" stroke-width="0.2">DMSO</text>
<text x="299.80" y="564.20" font-size="8.6" text-anchor="middle" fill="#231f20" stroke="#231f20" stroke-width="0.2">THA</text>
<text x="322.50" y="564.20" font-size="8.6" text-anchor="middle" fill="#231f20" stroke="#231f20" stroke-width="0.2">CAN</text>
<text x="344.60" y="564.20" font-size="8.6" text-anchor="middle" fill="#231f20" stroke="#231f20" stroke-width="0.2">CAR</text>
<text x="367.60" y="564.20" font-size="8.6" text-anchor="middle" fill="#231f20" stroke="#231f20" stroke-width="0.2">TC</text>
<text x="390.20" y="564.20" font-size="8.6" text-anchor="middle" fill="#231f20" stroke="#231f20" stroke-width="0.2">TCC</text>
<text x="236.40" y="514.30" font-size="8.6" text-anchor="middle" fill="#231f20" stroke="#231f20" stroke-width="0.2" transform="rotate(-90 236.40 514.30)">Tumor&#160; weight (g)</text>
<line x1="272.00" y1="520.33" x2="282.00" y2="520.33" stroke="#5a1f78" stroke-width="1"/>
<circle cx="273.00" cy="523.52" r="1.45" fill="#5a1f78"/>
<circle cx="280.00" cy="522.59" r="1.45" fill="#5a1f78"/>
<circle cx="275.00" cy="521.29" r="1.45" fill="#5a1f78"/>
<circle cx="281.00" cy="520.17" r="1.45" fill="#5a1f78"/>
<circle cx="277.00" cy="519.42" r="1.45" fill="#5a1f78"/>
<circle cx="274.00" cy="517.56" r="1.45" fill="#5a1f78"/>
<circle cx="279.00" cy="516.07" r="1.45" fill="#5a1f78"/>
<circle cx="278.00" cy="522.03" r="1.45" fill="#5a1f78"/>
<line x1="295.10" y1="525.63" x2="305.10" y2="525.63" stroke="#4a55a2" stroke-width="1"/>
<circle cx="296.10" cy="527.63" r="1.45" fill="#4a55a2"/>
<circle cx="303.10" cy="526.70" r="1.45" fill="#4a55a2"/>
<circle cx="298.10" cy="525.76" r="1.45" fill="#4a55a2"/>
<circle cx="304.10" cy="525.02" r="1.45" fill="#4a55a2"/>
<circle cx="300.10" cy="523.52" r="1.45" fill="#4a55a2"/>
<circle cx="297.10" cy="526.32" r="1.45" fill="#4a55a2"/>
<circle cx="302.10" cy="524.46" r="1.45" fill="#4a55a2"/>
<line x1="317.80" y1="532.42" x2="327.80" y2="532.42" stroke="#2e8caa" stroke-width="1"/>
<circle cx="318.80" cy="535.09" r="1.45" fill="#2e8caa"/>
<circle cx="325.80" cy="533.78" r="1.45" fill="#2e8caa"/>
<circle cx="320.80" cy="532.85" r="1.45" fill="#2e8caa"/>
<circle cx="326.80" cy="531.92" r="1.45" fill="#2e8caa"/>
<circle cx="322.80" cy="530.99" r="1.45" fill="#2e8caa"/>
<circle cx="319.80" cy="529.12" r="1.45" fill="#2e8caa"/>
<circle cx="324.80" cy="533.22" r="1.45" fill="#2e8caa"/>
<line x1="339.90" y1="530.45" x2="349.90" y2="530.45" stroke="#22aa8e" stroke-width="1"/>
<circle cx="340.90" cy="532.85" r="1.45" fill="#22aa8e"/>
<circle cx="347.90" cy="531.92" r="1.45" fill="#22aa8e"/>
<circle cx="342.90" cy="530.99" r="1.45" fill="#22aa8e"/>
<circle cx="348.90" cy="530.61" r="1.45" fill="#22aa8e"/>
<circle cx="344.90" cy="529.12" r="1.45" fill="#22aa8e"/>
<circle cx="341.90" cy="526.32" r="1.45" fill="#22aa8e"/>
<circle cx="346.90" cy="531.36" r="1.45" fill="#22aa8e"/>
<line x1="362.50" y1="535.19" x2="372.50" y2="535.19" stroke="#76c852" stroke-width="1"/>
<circle cx="363.50" cy="537.51" r="1.45" fill="#76c852"/>
<circle cx="370.50" cy="536.58" r="1.45" fill="#76c852"/>
<circle cx="365.50" cy="535.65" r="1.45" fill="#76c852"/>
<circle cx="371.50" cy="534.72" r="1.45" fill="#76c852"/>
<circle cx="367.50" cy="533.22" r="1.45" fill="#76c852"/>
<circle cx="364.50" cy="532.48" r="1.45" fill="#76c852"/>
<circle cx="369.50" cy="536.21" r="1.45" fill="#76c852"/>
<line x1="385.20" y1="541.43" x2="395.20" y2="541.43" stroke="#f5dc22" stroke-width="1"/>
<circle cx="386.20" cy="543.11" r="1.45" fill="#f5dc22"/>
<circle cx="393.20" cy="542.17" r="1.45" fill="#f5dc22"/>
<circle cx="388.20" cy="541.24" r="1.45" fill="#f5dc22"/>
<circle cx="394.20" cy="540.31" r="1.45" fill="#f5dc22"/>
<circle cx="390.20" cy="539.94" r="1.45" fill="#f5dc22"/>
<circle cx="387.20" cy="541.80" r="1.45" fill="#f5dc22"/>
<line x1="277.00" y1="478.60" x2="391.50" y2="478.60" stroke="#444" stroke-width="1.4"/>
<text x="334.20" y="477.00" font-size="8.5" text-anchor="middle" font-weight="bold" fill="#231f20">***</text>
<line x1="346.70" y1="492.40" x2="391.50" y2="492.40" stroke="#444" stroke-width="1.4"/>
<text x="368.80" y="490.80" font-size="8.5" text-anchor="middle" font-weight="bold" fill="#231f20">***</text>
<line x1="277.00" y1="502.90" x2="344.30" y2="502.90" stroke="#444" stroke-width="1.4"/>
<text x="310.80" y="501.20" font-size="8.5" text-anchor="middle" font-weight="bold" fill="#231f20">***</text>
<line x1="368.00" y1="505.90" x2="391.50" y2="505.90" stroke="#444" stroke-width="1.4"/>
<text x="379.50" y="504.20" font-size="8.5" text-anchor="middle" font-weight="bold" fill="#231f20">*</text>
<line x1="345.40" y1="514.40" x2="368.80" y2="514.40" stroke="#444" stroke-width="1.4"/>
<text x="356.90" y="512.80" font-size="8.5" text-anchor="middle" font-weight="bold" fill="#231f20">*</text>
<text x="414.50" y="327.00" font-size="12.8" font-weight="bold" fill="#231816">j</text>
<text x="443.10" y="341.80" font-size="8.7" text-anchor="middle" fill="#231f20" stroke="#231f20" stroke-width="0.2">DMSO</text>
<text x="481.30" y="341.80" font-size="8.7" text-anchor="middle" fill="#231f20" stroke="#231f20" stroke-width="0.2">THA</text>
<text x="517.00" y="341.80" font-size="8.7" text-anchor="middle" fill="#231f20" stroke="#231f20" stroke-width="0.2">CAN</text>
<text x="554.20" y="341.80" font-size="8.7" text-anchor="middle" fill="#231f20" stroke="#231f20" stroke-width="0.2">CAR</text>
<text x="592.60" y="341.80" font-size="8.7" text-anchor="middle" fill="#231f20" stroke="#231f20" stroke-width="0.2">TC</text>
<text x="629.70" y="341.80" font-size="8.7" text-anchor="middle" fill="#231f20" stroke="#231f20" stroke-width="0.2">TCC</text>
<text x="422.60" y="363.70" font-size="7.5" text-anchor="middle" fill="#231f20" stroke="#231f20" stroke-width="0.2" transform="rotate(-90 422.60 363.70)" textLength="32.2" lengthAdjust="spacingAndGlyphs">PLC/PRF/5</text>
<text x="422.60" y="400.10" font-size="7.5" text-anchor="middle" fill="#231f20" stroke="#231f20" stroke-width="0.2" transform="rotate(-90 422.60 400.10)" textLength="33.6" lengthAdjust="spacingAndGlyphs">MHCC97-L</text>
<text x="422.60" y="440.20" font-size="7.5" text-anchor="middle" fill="#231f20" stroke="#231f20" stroke-width="0.2" transform="rotate(-90 422.60 440.20)" textLength="34.6" lengthAdjust="spacingAndGlyphs">MHCC-LM3</text>
<text x="422.60" y="477.80" font-size="7.5" text-anchor="middle" fill="#231f20" stroke="#231f20" stroke-width="0.2" transform="rotate(-90 422.60 477.80)" textLength="34.6" lengthAdjust="spacingAndGlyphs">MHCC97-H</text>
<text x="422.60" y="515.50" font-size="7.5" text-anchor="middle" fill="#231f20" stroke="#231f20" stroke-width="0.2" transform="rotate(-90 422.60 515.50)" textLength="19.1" lengthAdjust="spacingAndGlyphs">Hep3B</text>
<text x="422.60" y="551.60" font-size="7.5" text-anchor="middle" fill="#231f20" stroke="#231f20" stroke-width="0.2" transform="rotate(-90 422.60 551.60)" textLength="21.3" lengthAdjust="spacingAndGlyphs">HuH-7</text>
<circle cx="443.30" cy="364.40" r="17.9" fill="rgb(104,132,208)"/>
<circle cx="443.30" cy="364.40" r="17.6" fill="#2a44a8" filter="url(#speck)" opacity="0.9"/>
<circle cx="443.30" cy="364.40" r="17.6" fill="#a8c0ec" filter="url(#speck3)" opacity="0.2"/>
<circle cx="443.30" cy="364.40" r="17.9" fill="url(#rim)"/>
<circle cx="481.00" cy="364.40" r="17.9" fill="rgb(94,116,198)"/>
<circle cx="481.00" cy="364.40" r="17.6" fill="#2a44a8" filter="url(#speck)" opacity="0.9"/>
<circle cx="481.00" cy="364.40" r="17.6" fill="#a8c0ec" filter="url(#speck3)" opacity="0.2"/>
<circle cx="481.00" cy="364.40" r="17.9" fill="url(#rim)"/>
<circle cx="518.20" cy="364.40" r="17.9" fill="rgb(96,120,200)"/>
<circle cx="518.20" cy="364.40" r="17.6" fill="#2a44a8" filter="url(#speck)" opacity="0.9"/>
<circle cx="518.20" cy="364.40" r="17.6" fill="#a8c0ec" filter="url(#speck3)" opacity="0.2"/>
<circle cx="518.20" cy="364.40" r="17.9" fill="url(#rim)"/>
<circle cx="555.40" cy="364.40" r="17.9" fill="rgb(108,138,212)"/>
<circle cx="555.40" cy="364.40" r="17.6" fill="#2a44a8" filter="url(#speck)" opacity="0.9"/>
<circle cx="555.40" cy="364.40" r="17.6" fill="#a8c0ec" filter="url(#speck3)" opacity="0.2"/>
<circle cx="555.40" cy="364.40" r="17.9" fill="url(#rim)"/>
<circle cx="594.30" cy="364.40" r="17.9" fill="rgb(96,122,202)"/>
<circle cx="594.30" cy="364.40" r="17.6" fill="#2a44a8" filter="url(#speck)" opacity="0.9"/>
<circle cx="594.30" cy="364.40" r="17.6" fill="#a8c0ec" filter="url(#speck3)" opacity="0.2"/>
<circle cx="594.30" cy="364.40" r="17.9" fill="url(#rim)"/>
<circle cx="632.70" cy="364.40" r="17.9" fill="rgb(100,128,206)"/>
<circle cx="632.70" cy="364.40" r="17.6" fill="#2a44a8" filter="url(#speck)" opacity="0.9"/>
<circle cx="632.70" cy="364.40" r="17.6" fill="#a8c0ec" filter="url(#speck3)" opacity="0.2"/>
<circle cx="632.70" cy="364.40" r="17.9" fill="url(#rim)"/>
<circle cx="443.30" cy="401.10" r="17.9" fill="rgb(108,152,218)"/>
<circle cx="443.30" cy="401.10" r="17.6" fill="rgb(73,112,193)" filter="url(#speck2)" opacity="0.35"/>
<circle cx="443.30" cy="401.10" r="17.9" fill="url(#rim)"/>
<circle cx="481.00" cy="401.10" r="17.9" fill="rgb(112,164,226)"/>
<circle cx="481.00" cy="401.10" r="17.6" fill="rgb(77,124,201)" filter="url(#speck2)" opacity="0.35"/>
<circle cx="481.00" cy="401.10" r="17.9" fill="url(#rim)"/>
<circle cx="518.20" cy="401.10" r="17.9" fill="rgb(98,146,213)"/>
<circle cx="518.20" cy="401.10" r="17.6" fill="rgb(63,106,188)" filter="url(#speck2)" opacity="0.35"/>
<circle cx="518.20" cy="401.10" r="17.9" fill="url(#rim)"/>
<circle cx="555.40" cy="401.10" r="17.9" fill="rgb(102,150,217)"/>
<circle cx="555.40" cy="401.10" r="17.6" fill="rgb(67,110,192)" filter="url(#speck2)" opacity="0.35"/>
<circle cx="555.40" cy="401.10" r="17.9" fill="url(#rim)"/>
<circle cx="594.30" cy="401.10" r="17.9" fill="rgb(82,134,206)"/>
<circle cx="594.30" cy="401.10" r="17.6" fill="rgb(47,94,181)" filter="url(#speck2)" opacity="0.35"/>
<circle cx="594.30" cy="401.10" r="17.9" fill="url(#rim)"/>
<circle cx="632.70" cy="401.10" r="17.9" fill="rgb(92,144,216)"/>
<circle cx="632.70" cy="401.10" r="17.6" fill="rgb(57,104,191)" filter="url(#speck2)" opacity="0.35"/>
<circle cx="632.70" cy="401.10" r="17.9" fill="url(#rim)"/>
<circle cx="443.30" cy="439.20" r="17.9" fill="rgb(72,106,190)"/>
<circle cx="443.30" cy="439.20" r="17.6" fill="rgb(37,66,165)" filter="url(#speck2)" opacity="0.35"/>
<circle cx="443.30" cy="439.20" r="17.9" fill="url(#rim)"/>
<circle cx="481.00" cy="439.20" r="17.9" fill="rgb(82,116,196)"/>
<circle cx="481.00" cy="439.20" r="17.6" fill="rgb(47,76,171)" filter="url(#speck2)" opacity="0.35"/>
<circle cx="481.00" cy="439.20" r="17.9" fill="url(#rim)"/>
<circle cx="518.20" cy="439.20" r="17.9" fill="rgb(76,114,195)"/>
<circle cx="518.20" cy="439.20" r="17.6" fill="rgb(41,74,170)" filter="url(#speck2)" opacity="0.35"/>
<circle cx="518.20" cy="439.20" r="17.9" fill="url(#rim)"/>
<circle cx="555.40" cy="439.20" r="17.9" fill="rgb(62,100,186)"/>
<circle cx="555.40" cy="439.20" r="17.6" fill="rgb(27,60,161)" filter="url(#speck2)" opacity="0.35"/>
<circle cx="555.40" cy="439.20" r="17.9" fill="url(#rim)"/>
<circle cx="594.30" cy="439.20" r="17.9" fill="rgb(105,150,215)"/>
<circle cx="594.30" cy="439.20" r="17.6" fill="rgb(70,110,190)" filter="url(#speck2)" opacity="0.35"/>
<circle cx="594.30" cy="439.20" r="17.9" fill="url(#rim)"/>
<circle cx="632.70" cy="439.20" r="17.9" fill="rgb(76,114,195)"/>
<circle cx="632.70" cy="439.20" r="17.6" fill="rgb(41,74,170)" filter="url(#speck2)" opacity="0.35"/>
<circle cx="632.70" cy="439.20" r="17.9" fill="url(#rim)"/>
<circle cx="443.30" cy="478.10" r="17.9" fill="rgb(104,162,224)"/>
<circle cx="443.30" cy="478.10" r="17.6" fill="rgb(69,122,199)" filter="url(#speck2)" opacity="0.35"/>
<circle cx="443.30" cy="478.10" r="17.9" fill="url(#rim)"/>
<circle cx="481.00" cy="478.10" r="17.9" fill="rgb(98,156,218)"/>
<circle cx="481.00" cy="478.10" r="17.6" fill="rgb(63,116,193)" filter="url(#speck2)" opacity="0.35"/>
<circle cx="481.00" cy="478.10" r="17.9" fill="url(#rim)"/>
<circle cx="518.20" cy="478.10" r="17.9" fill="rgb(117,180,230)"/>
<circle cx="518.20" cy="478.10" r="17.6" fill="rgb(82,140,205)" filter="url(#speck2)" opacity="0.35"/>
<circle cx="518.20" cy="478.10" r="17.9" fill="url(#rim)"/>
<circle cx="555.40" cy="478.10" r="17.9" fill="rgb(94,142,213)"/>
<circle cx="555.40" cy="478.10" r="17.6" fill="rgb(59,102,188)" filter="url(#speck2)" opacity="0.35"/>
<circle cx="555.40" cy="478.10" r="17.9" fill="url(#rim)"/>
<circle cx="594.30" cy="478.10" r="17.9" fill="rgb(94,152,218)"/>
<circle cx="594.30" cy="478.10" r="17.6" fill="rgb(59,112,193)" filter="url(#speck2)" opacity="0.35"/>
<circle cx="594.30" cy="478.10" r="17.9" fill="url(#rim)"/>
<circle cx="632.70" cy="478.10" r="17.9" fill="rgb(86,141,213)"/>
<circle cx="632.70" cy="478.10" r="17.6" fill="rgb(51,101,188)" filter="url(#speck2)" opacity="0.35"/>
<circle cx="632.70" cy="478.10" r="17.9" fill="url(#rim)"/>
<circle cx="443.30" cy="515.50" r="17.9" fill="rgb(110,150,220)"/>
<circle cx="443.30" cy="515.50" r="17.6" fill="rgb(75,110,195)" filter="url(#speck2)" opacity="0.35"/>
<circle cx="443.30" cy="515.50" r="17.9" fill="url(#rim)"/>
<circle cx="481.00" cy="515.50" r="17.9" fill="rgb(114,150,220)"/>
<circle cx="481.00" cy="515.50" r="17.6" fill="rgb(79,110,195)" filter="url(#speck2)" opacity="0.35"/>
<circle cx="481.00" cy="515.50" r="17.9" fill="url(#rim)"/>
<circle cx="518.20" cy="515.50" r="17.9" fill="rgb(102,146,215)"/>
<circle cx="518.20" cy="515.50" r="17.6" fill="rgb(67,106,190)" filter="url(#speck2)" opacity="0.35"/>
<circle cx="518.20" cy="515.50" r="17.9" fill="url(#rim)"/>
<circle cx="555.40" cy="515.50" r="17.9" fill="rgb(114,150,220)"/>
<circle cx="555.40" cy="515.50" r="17.6" fill="rgb(79,110,195)" filter="url(#speck2)" opacity="0.35"/>
<circle cx="555.40" cy="515.50" r="17.9" fill="url(#rim)"/>
<circle cx="594.30" cy="515.50" r="17.9" fill="rgb(102,154,222)"/>
<circle cx="594.30" cy="515.50" r="17.6" fill="rgb(67,114,197)" filter="url(#speck2)" opacity="0.35"/>
<circle cx="594.30" cy="515.50" r="17.9" fill="url(#rim)"/>
<circle cx="632.70" cy="515.50" r="17.9" fill="rgb(98,154,224)"/>
<circle cx="632.70" cy="515.50" r="17.6" fill="rgb(63,114,199)" filter="url(#speck2)" opacity="0.35"/>
<circle cx="632.70" cy="515.50" r="17.9" fill="url(#rim)"/>
<circle cx="443.30" cy="553.00" r="17.9" fill="rgb(96,140,212)"/>
<circle cx="443.30" cy="553.00" r="17.6" fill="rgb(61,100,187)" filter="url(#speck2)" opacity="0.35"/>
<circle cx="443.30" cy="553.00" r="17.9" fill="url(#rim)"/>
<circle cx="481.00" cy="553.00" r="17.9" fill="rgb(92,134,207)"/>
<circle cx="481.00" cy="553.00" r="17.6" fill="rgb(57,94,182)" filter="url(#speck2)" opacity="0.35"/>
<circle cx="481.00" cy="553.00" r="17.9" fill="url(#rim)"/>
<circle cx="518.20" cy="553.00" r="17.9" fill="rgb(96,144,216)"/>
<circle cx="518.20" cy="553.00" r="17.6" fill="rgb(61,104,191)" filter="url(#speck2)" opacity="0.35"/>
<circle cx="518.20" cy="553.00" r="17.9" fill="url(#rim)"/>
<circle cx="555.40" cy="553.00" r="17.9" fill="rgb(96,144,216)"/>
<circle cx="555.40" cy="553.00" r="17.6" fill="rgb(61,104,191)" filter="url(#speck2)" opacity="0.35"/>
<circle cx="555.40" cy="553.00" r="17.9" fill="url(#rim)"/>
<circle cx="594.30" cy="553.00" r="17.9" fill="rgb(102,150,221)"/>
<circle cx="594.30" cy="553.00" r="17.6" fill="rgb(67,110,196)" filter="url(#speck2)" opacity="0.35"/>
<circle cx="594.30" cy="553.00" r="17.9" fill="url(#rim)"/>
<circle cx="632.70" cy="553.00" r="17.9" fill="rgb(86,134,211)"/>
<circle cx="632.70" cy="553.00" r="17.6" fill="rgb(51,94,186)" filter="url(#speck2)" opacity="0.35"/>
<circle cx="632.70" cy="553.00" r="17.9" fill="url(#rim)"/>
<text x="8.30" y="590.40" font-size="12.8" font-weight="bold" fill="#231816">k</text>
<line x1="60.70" y1="602.20" x2="60.70" y2="681.70" stroke="#333" stroke-width="1.3"/>
<line x1="57.20" y1="681.10" x2="60.70" y2="681.10" stroke="#333" stroke-width="1.2"/>
<text x="55.70" y="684.00" font-size="8.5" text-anchor="end" fill="#231f20" stroke="#231f20" stroke-width="0.2">0.0</text>
<line x1="57.20" y1="661.50" x2="60.70" y2="661.50" stroke="#333" stroke-width="1.2"/>
<text x="55.70" y="664.40" font-size="8.5" text-anchor="end" fill="#231f20" stroke="#231f20" stroke-width="0.2">0.5</text>
<line x1="57.20" y1="641.90" x2="60.70" y2="641.90" stroke="#333" stroke-width="1.2"/>
<text x="55.70" y="644.80" font-size="8.5" text-anchor="end" fill="#231f20" stroke="#231f20" stroke-width="0.2">1.0</text>
<line x1="57.20" y1="622.30" x2="60.70" y2="622.30" stroke="#333" stroke-width="1.2"/>
<text x="55.70" y="625.20" font-size="8.5" text-anchor="end" fill="#231f20" stroke="#231f20" stroke-width="0.2">1.5</text>
<line x1="57.20" y1="602.70" x2="60.70" y2="602.70" stroke="#333" stroke-width="1.2"/>
<text x="55.70" y="605.60" font-size="8.5" text-anchor="end" fill="#231f20" stroke="#231f20" stroke-width="0.2">2.0</text>
<text x="24.90" y="645.20" font-size="8.6" text-anchor="middle" fill="#231f20" stroke="#231f20" stroke-width="0.2" transform="rotate(-90 24.90 645.20)">Relative conlony</text>
<text x="34.10" y="645.20" font-size="8.6" text-anchor="middle" fill="#231f20" stroke="#231f20" stroke-width="0.2" transform="rotate(-90 34.10 645.20)">formation number</text>
<text x="100.10" y="593.80" font-size="8.8" text-anchor="middle" fill="#231f20" stroke="#231f20" stroke-width="0.2">PLC/PRF/5</text>
<line x1="60.10" y1="681.60" x2="138.50" y2="681.60" stroke="#333" stroke-width="1.4"/>
<rect x="65.00" y="635.63" width="7.20" height="45.87" fill="#fff" stroke="#5a1f78" stroke-width="1.2"/>
<line x1="68.60" y1="624.26" x2="68.60" y2="645.82" stroke="#5a1f78" stroke-width="1.0"/>
<line x1="66.60" y1="624.26" x2="70.60" y2="624.26" stroke="#5a1f78" stroke-width="1.0"/>
<line x1="66.60" y1="645.82" x2="70.60" y2="645.82" stroke="#5a1f78" stroke-width="1.0"/>
<path d="M66.50,626.06 L70.70,626.06 L68.60,622.66 Z" fill="#5a1f78"/>
<circle cx="66.80" cy="638.63" r="1.5" fill="#5a1f78"/>
<circle cx="70.40" cy="636.63" r="1.5" fill="#5a1f78"/>
<circle cx="68.60" cy="645.82" r="1.5" fill="#5a1f78"/>
<rect x="77.40" y="639.94" width="7.20" height="41.56" fill="#fff" stroke="#4a55a2" stroke-width="1.2"/>
<line x1="81.00" y1="628.18" x2="81.00" y2="651.70" stroke="#4a55a2" stroke-width="1.0"/>
<line x1="79.00" y1="628.18" x2="83.00" y2="628.18" stroke="#4a55a2" stroke-width="1.0"/>
<line x1="79.00" y1="651.70" x2="83.00" y2="651.70" stroke="#4a55a2" stroke-width="1.0"/>
<path d="M78.90,629.98 L83.10,629.98 L81.00,626.58 Z" fill="#4a55a2"/>
<circle cx="79.20" cy="642.94" r="1.5" fill="#4a55a2"/>
<circle cx="82.80" cy="640.94" r="1.5" fill="#4a55a2"/>
<circle cx="81.00" cy="651.70" r="1.5" fill="#4a55a2"/>
<rect x="89.70" y="640.33" width="7.20" height="41.17" fill="#fff" stroke="#2e8caa" stroke-width="1.2"/>
<line x1="93.30" y1="638.76" x2="93.30" y2="641.90" stroke="#2e8caa" stroke-width="1.0"/>
<line x1="91.30" y1="638.76" x2="95.30" y2="638.76" stroke="#2e8caa" stroke-width="1.0"/>
<line x1="91.30" y1="641.90" x2="95.30" y2="641.90" stroke="#2e8caa" stroke-width="1.0"/>
<path d="M91.20,640.56 L95.40,640.56 L93.30,637.16 Z" fill="#2e8caa"/>
<circle cx="91.50" cy="643.33" r="1.5" fill="#2e8caa"/>
<circle cx="95.10" cy="641.33" r="1.5" fill="#2e8caa"/>
<circle cx="93.30" cy="641.90" r="1.5" fill="#2e8caa"/>
<rect x="102.30" y="645.04" width="7.20" height="36.46" fill="#fff" stroke="#22aa8e" stroke-width="1.2"/>
<line x1="105.90" y1="640.72" x2="105.90" y2="649.74" stroke="#22aa8e" stroke-width="1.0"/>
<line x1="103.90" y1="640.72" x2="107.90" y2="640.72" stroke="#22aa8e" stroke-width="1.0"/>
<line x1="103.90" y1="649.74" x2="107.90" y2="649.74" stroke="#22aa8e" stroke-width="1.0"/>
<path d="M103.80,642.52 L108.00,642.52 L105.90,639.12 Z" fill="#22aa8e"/>
<circle cx="104.10" cy="648.04" r="1.5" fill="#22aa8e"/>
<circle cx="107.70" cy="646.04" r="1.5" fill="#22aa8e"/>
<circle cx="105.90" cy="649.74" r="1.5" fill="#22aa8e"/>
<rect x="114.70" y="642.68" width="7.20" height="38.82" fill="#fff" stroke="#76c852" stroke-width="1.2"/>
<line x1="118.30" y1="636.02" x2="118.30" y2="647.78" stroke="#76c852" stroke-width="1.0"/>
<line x1="116.30" y1="636.02" x2="120.30" y2="636.02" stroke="#76c852" stroke-width="1.0"/>
<line x1="116.30" y1="647.78" x2="120.30" y2="647.78" stroke="#76c852" stroke-width="1.0"/>
<path d="M116.20,637.82 L120.40,637.82 L118.30,634.42 Z" fill="#76c852"/>
<circle cx="116.50" cy="645.68" r="1.5" fill="#76c852"/>
<circle cx="120.10" cy="643.68" r="1.5" fill="#76c852"/>
<circle cx="118.30" cy="647.78" r="1.5" fill="#76c852"/>
<rect x="126.80" y="647.39" width="7.20" height="34.11" fill="#fff" stroke="#f5dc22" stroke-width="1.2"/>
<line x1="130.40" y1="639.16" x2="130.40" y2="655.62" stroke="#f5dc22" stroke-width="1.0"/>
<line x1="128.40" y1="639.16" x2="132.40" y2="639.16" stroke="#f5dc22" stroke-width="1.0"/>
<line x1="128.40" y1="655.62" x2="132.40" y2="655.62" stroke="#f5dc22" stroke-width="1.0"/>
<path d="M128.30,640.96 L132.50,640.96 L130.40,637.56 Z" fill="#f5dc22"/>
<circle cx="128.60" cy="650.39" r="1.5" fill="#f5dc22"/>
<circle cx="132.20" cy="648.39" r="1.5" fill="#f5dc22"/>
<circle cx="130.40" cy="655.62" r="1.5" fill="#f5dc22"/>
<line x1="68.60" y1="613.40" x2="130.40" y2="613.40" stroke="#444" stroke-width="1.4"/>
<text x="100.70" y="610.90" font-size="8.8" text-anchor="middle" fill="#231f20" stroke="#231f20" stroke-width="0.2">ns</text>
<line x1="105.90" y1="623.40" x2="130.40" y2="623.40" stroke="#444" stroke-width="1.4"/>
<text x="119.35" y="620.90" font-size="8.8" text-anchor="middle" fill="#231f20" stroke="#231f20" stroke-width="0.2">ns</text>
<line x1="118.30" y1="633.00" x2="130.40" y2="633.00" stroke="#444" stroke-width="1.4"/>
<text x="125.55" y="630.50" font-size="8.8" text-anchor="middle" fill="#231f20" stroke="#231f20" stroke-width="0.2">ns</text>
<text x="189.50" y="593.80" font-size="8.8" text-anchor="middle" fill="#231f20" stroke="#231f20" stroke-width="0.2">MHCC97-L</text>
<line x1="150.00" y1="681.60" x2="230.40" y2="681.60" stroke="#333" stroke-width="1.4"/>
<rect x="154.80" y="631.32" width="7.20" height="50.18" fill="#fff" stroke="#5a1f78" stroke-width="1.2"/>
<line x1="158.40" y1="627.79" x2="158.40" y2="634.84" stroke="#5a1f78" stroke-width="1.0"/>
<line x1="156.40" y1="627.79" x2="160.40" y2="627.79" stroke="#5a1f78" stroke-width="1.0"/>
<line x1="156.40" y1="634.84" x2="160.40" y2="634.84" stroke="#5a1f78" stroke-width="1.0"/>
<path d="M156.30,629.59 L160.50,629.59 L158.40,626.19 Z" fill="#5a1f78"/>
<circle cx="156.60" cy="634.32" r="1.5" fill="#5a1f78"/>
<circle cx="160.20" cy="632.32" r="1.5" fill="#5a1f78"/>
<circle cx="158.40" cy="634.84" r="1.5" fill="#5a1f78"/>
<rect x="167.50" y="638.37" width="7.20" height="43.13" fill="#fff" stroke="#4a55a2" stroke-width="1.2"/>
<line x1="171.10" y1="634.06" x2="171.10" y2="642.68" stroke="#4a55a2" stroke-width="1.0"/>
<line x1="169.10" y1="634.06" x2="173.10" y2="634.06" stroke="#4a55a2" stroke-width="1.0"/>
<line x1="169.10" y1="642.68" x2="173.10" y2="642.68" stroke="#4a55a2" stroke-width="1.0"/>
<path d="M169.00,635.86 L173.20,635.86 L171.10,632.46 Z" fill="#4a55a2"/>
<circle cx="169.30" cy="641.37" r="1.5" fill="#4a55a2"/>
<circle cx="172.90" cy="639.37" r="1.5" fill="#4a55a2"/>
<circle cx="171.10" cy="642.68" r="1.5" fill="#4a55a2"/>
<rect x="179.90" y="636.80" width="7.20" height="44.70" fill="#fff" stroke="#2e8caa" stroke-width="1.2"/>
<line x1="183.50" y1="633.28" x2="183.50" y2="640.33" stroke="#2e8caa" stroke-width="1.0"/>
<line x1="181.50" y1="633.28" x2="185.50" y2="633.28" stroke="#2e8caa" stroke-width="1.0"/>
<line x1="181.50" y1="640.33" x2="185.50" y2="640.33" stroke="#2e8caa" stroke-width="1.0"/>
<path d="M181.40,635.08 L185.60,635.08 L183.50,631.68 Z" fill="#2e8caa"/>
<circle cx="181.70" cy="639.80" r="1.5" fill="#2e8caa"/>
<circle cx="185.30" cy="637.80" r="1.5" fill="#2e8caa"/>
<circle cx="183.50" cy="640.33" r="1.5" fill="#2e8caa"/>
<rect x="192.70" y="652.09" width="7.20" height="29.41" fill="#fff" stroke="#22aa8e" stroke-width="1.2"/>
<line x1="196.30" y1="646.60" x2="196.30" y2="657.58" stroke="#22aa8e" stroke-width="1.0"/>
<line x1="194.30" y1="646.60" x2="198.30" y2="646.60" stroke="#22aa8e" stroke-width="1.0"/>
<line x1="194.30" y1="657.58" x2="198.30" y2="657.58" stroke="#22aa8e" stroke-width="1.0"/>
<path d="M194.20,648.40 L198.40,648.40 L196.30,645.00 Z" fill="#22aa8e"/>
<circle cx="194.50" cy="655.09" r="1.5" fill="#22aa8e"/>
<circle cx="198.10" cy="653.09" r="1.5" fill="#22aa8e"/>
<circle cx="196.30" cy="657.58" r="1.5" fill="#22aa8e"/>
<rect x="205.10" y="647.00" width="7.20" height="34.50" fill="#fff" stroke="#76c852" stroke-width="1.2"/>
<line x1="208.70" y1="643.86" x2="208.70" y2="649.74" stroke="#76c852" stroke-width="1.0"/>
<line x1="206.70" y1="643.86" x2="210.70" y2="643.86" stroke="#76c852" stroke-width="1.0"/>
<line x1="206.70" y1="649.74" x2="210.70" y2="649.74" stroke="#76c852" stroke-width="1.0"/>
<path d="M206.60,645.66 L210.80,645.66 L208.70,642.26 Z" fill="#76c852"/>
<circle cx="206.90" cy="650.00" r="1.5" fill="#76c852"/>
<circle cx="210.50" cy="648.00" r="1.5" fill="#76c852"/>
<circle cx="208.70" cy="649.74" r="1.5" fill="#76c852"/>
<rect x="217.80" y="645.82" width="7.20" height="35.68" fill="#fff" stroke="#f5dc22" stroke-width="1.2"/>
<line x1="221.40" y1="641.90" x2="221.40" y2="649.74" stroke="#f5dc22" stroke-width="1.0"/>
<line x1="219.40" y1="641.90" x2="223.40" y2="641.90" stroke="#f5dc22" stroke-width="1.0"/>
<line x1="219.40" y1="649.74" x2="223.40" y2="649.74" stroke="#f5dc22" stroke-width="1.0"/>
<path d="M219.30,643.70 L223.50,643.70 L221.40,640.30 Z" fill="#f5dc22"/>
<circle cx="219.60" cy="648.82" r="1.5" fill="#f5dc22"/>
<circle cx="223.20" cy="646.82" r="1.5" fill="#f5dc22"/>
<circle cx="221.40" cy="649.74" r="1.5" fill="#f5dc22"/>
<line x1="158.40" y1="612.50" x2="221.40" y2="612.50" stroke="#444" stroke-width="1.4"/>
<text x="189.90" y="610.90" font-size="8.5" text-anchor="middle" font-weight="bold" fill="#231f20">*</text>
<line x1="158.40" y1="622.90" x2="196.30" y2="622.90" stroke="#444" stroke-width="1.4"/>
<text x="177.35" y="621.30" font-size="8.5" text-anchor="middle" font-weight="bold" fill="#231f20">**</text>
<line x1="196.30" y1="628.60" x2="221.40" y2="628.60" stroke="#444" stroke-width="1.4"/>
<text x="210.05" y="626.10" font-size="8.8" text-anchor="middle" fill="#231f20" stroke="#231f20" stroke-width="0.2">ns</text>
<line x1="208.70" y1="638.00" x2="221.40" y2="638.00" stroke="#444" stroke-width="1.4"/>
<text x="216.25" y="635.50" font-size="8.8" text-anchor="middle" fill="#231f20" stroke="#231f20" stroke-width="0.2">ns</text>
<text x="279.00" y="593.80" font-size="8.8" text-anchor="middle" fill="#231f20" stroke="#231f20" stroke-width="0.2">MHCC-LM3</text>
<line x1="240.50" y1="681.60" x2="313.50" y2="681.60" stroke="#333" stroke-width="1.4"/>
<rect x="244.20" y="629.75" width="7.20" height="51.75" fill="#fff" stroke="#5a1f78" stroke-width="1.2"/>
<line x1="247.80" y1="627.79" x2="247.80" y2="631.32" stroke="#5a1f78" stroke-width="1.0"/>
<line x1="245.80" y1="627.79" x2="249.80" y2="627.79" stroke="#5a1f78" stroke-width="1.0"/>
<line x1="245.80" y1="631.32" x2="249.80" y2="631.32" stroke="#5a1f78" stroke-width="1.0"/>
<path d="M245.70,629.59 L249.90,629.59 L247.80,626.19 Z" fill="#5a1f78"/>
<circle cx="246.00" cy="632.75" r="1.5" fill="#5a1f78"/>
<circle cx="249.60" cy="630.75" r="1.5" fill="#5a1f78"/>
<circle cx="247.80" cy="631.32" r="1.5" fill="#5a1f78"/>
<rect x="257.00" y="636.41" width="7.20" height="45.09" fill="#fff" stroke="#4a55a2" stroke-width="1.2"/>
<line x1="260.60" y1="630.14" x2="260.60" y2="642.68" stroke="#4a55a2" stroke-width="1.0"/>
<line x1="258.60" y1="630.14" x2="262.60" y2="630.14" stroke="#4a55a2" stroke-width="1.0"/>
<line x1="258.60" y1="642.68" x2="262.60" y2="642.68" stroke="#4a55a2" stroke-width="1.0"/>
<path d="M258.50,631.94 L262.70,631.94 L260.60,628.54 Z" fill="#4a55a2"/>
<circle cx="258.80" cy="639.41" r="1.5" fill="#4a55a2"/>
<circle cx="262.40" cy="637.41" r="1.5" fill="#4a55a2"/>
<circle cx="260.60" cy="642.68" r="1.5" fill="#4a55a2"/>
<rect x="269.70" y="643.47" width="7.20" height="38.03" fill="#fff" stroke="#2e8caa" stroke-width="1.2"/>
<line x1="273.30" y1="638.76" x2="273.30" y2="647.78" stroke="#2e8caa" stroke-width="1.0"/>
<line x1="271.30" y1="638.76" x2="275.30" y2="638.76" stroke="#2e8caa" stroke-width="1.0"/>
<line x1="271.30" y1="647.78" x2="275.30" y2="647.78" stroke="#2e8caa" stroke-width="1.0"/>
<path d="M271.20,640.56 L275.40,640.56 L273.30,637.16 Z" fill="#2e8caa"/>
<circle cx="271.50" cy="646.47" r="1.5" fill="#2e8caa"/>
<circle cx="275.10" cy="644.47" r="1.5" fill="#2e8caa"/>
<circle cx="273.30" cy="647.78" r="1.5" fill="#2e8caa"/>
<rect x="282.10" y="650.13" width="7.20" height="31.37" fill="#fff" stroke="#22aa8e" stroke-width="1.2"/>
<line x1="285.70" y1="647.39" x2="285.70" y2="652.88" stroke="#22aa8e" stroke-width="1.0"/>
<line x1="283.70" y1="647.39" x2="287.70" y2="647.39" stroke="#22aa8e" stroke-width="1.0"/>
<line x1="283.70" y1="652.88" x2="287.70" y2="652.88" stroke="#22aa8e" stroke-width="1.0"/>
<path d="M283.60,649.19 L287.80,649.19 L285.70,645.79 Z" fill="#22aa8e"/>
<circle cx="283.90" cy="653.13" r="1.5" fill="#22aa8e"/>
<circle cx="287.50" cy="651.13" r="1.5" fill="#22aa8e"/>
<circle cx="285.70" cy="652.88" r="1.5" fill="#22aa8e"/>
<rect x="294.80" y="646.21" width="7.20" height="35.29" fill="#fff" stroke="#76c852" stroke-width="1.2"/>
<line x1="298.40" y1="642.68" x2="298.40" y2="648.96" stroke="#76c852" stroke-width="1.0"/>
<line x1="296.40" y1="642.68" x2="300.40" y2="642.68" stroke="#76c852" stroke-width="1.0"/>
<line x1="296.40" y1="648.96" x2="300.40" y2="648.96" stroke="#76c852" stroke-width="1.0"/>
<path d="M296.30,644.48 L300.50,644.48 L298.40,641.08 Z" fill="#76c852"/>
<circle cx="296.60" cy="649.21" r="1.5" fill="#76c852"/>
<circle cx="300.20" cy="647.21" r="1.5" fill="#76c852"/>
<circle cx="298.40" cy="648.96" r="1.5" fill="#76c852"/>
<rect x="307.20" y="648.56" width="7.20" height="32.94" fill="#fff" stroke="#f5dc22" stroke-width="1.2"/>
<line x1="310.80" y1="647.78" x2="310.80" y2="649.74" stroke="#f5dc22" stroke-width="1.0"/>
<line x1="308.80" y1="647.78" x2="312.80" y2="647.78" stroke="#f5dc22" stroke-width="1.0"/>
<line x1="308.80" y1="649.74" x2="312.80" y2="649.74" stroke="#f5dc22" stroke-width="1.0"/>
<path d="M308.70,649.58 L312.90,649.58 L310.80,646.18 Z" fill="#f5dc22"/>
<circle cx="309.00" cy="651.56" r="1.5" fill="#f5dc22"/>
<circle cx="312.60" cy="649.56" r="1.5" fill="#f5dc22"/>
<circle cx="310.80" cy="649.74" r="1.5" fill="#f5dc22"/>
<line x1="247.80" y1="613.50" x2="310.80" y2="613.50" stroke="#444" stroke-width="1.4"/>
<text x="279.30" y="611.90" font-size="8.5" text-anchor="middle" font-weight="bold" fill="#231f20">***</text>
<line x1="247.80" y1="623.50" x2="285.70" y2="623.50" stroke="#444" stroke-width="1.4"/>
<text x="266.75" y="621.90" font-size="8.5" text-anchor="middle" font-weight="bold" fill="#231f20">***</text>
<line x1="285.70" y1="629.60" x2="310.80" y2="629.60" stroke="#444" stroke-width="1.4"/>
<text x="299.45" y="627.10" font-size="8.8" text-anchor="middle" fill="#231f20" stroke="#231f20" stroke-width="0.2">ns</text>
<line x1="298.40" y1="639.60" x2="310.80" y2="639.60" stroke="#444" stroke-width="1.4"/>
<text x="305.80" y="637.10" font-size="8.8" text-anchor="middle" fill="#231f20" stroke="#231f20" stroke-width="0.2">ns</text>
<text x="370.10" y="593.80" font-size="8.8" text-anchor="middle" fill="#231f20" stroke="#231f20" stroke-width="0.2">MHCC97-H</text>
<line x1="331.00" y1="681.60" x2="408.70" y2="681.60" stroke="#333" stroke-width="1.4"/>
<rect x="335.00" y="637.59" width="7.20" height="43.91" fill="#fff" stroke="#5a1f78" stroke-width="1.2"/>
<line x1="338.60" y1="618.38" x2="338.60" y2="658.76" stroke="#5a1f78" stroke-width="1.0"/>
<line x1="336.60" y1="618.38" x2="340.60" y2="618.38" stroke="#5a1f78" stroke-width="1.0"/>
<line x1="336.60" y1="658.76" x2="340.60" y2="658.76" stroke="#5a1f78" stroke-width="1.0"/>
<path d="M336.50,620.18 L340.70,620.18 L338.60,616.78 Z" fill="#5a1f78"/>
<circle cx="336.80" cy="640.59" r="1.5" fill="#5a1f78"/>
<circle cx="340.40" cy="638.59" r="1.5" fill="#5a1f78"/>
<circle cx="338.60" cy="658.76" r="1.5" fill="#5a1f78"/>
<rect x="347.40" y="634.45" width="7.20" height="47.05" fill="#fff" stroke="#4a55a2" stroke-width="1.2"/>
<line x1="351.00" y1="630.14" x2="351.00" y2="638.76" stroke="#4a55a2" stroke-width="1.0"/>
<line x1="349.00" y1="630.14" x2="353.00" y2="630.14" stroke="#4a55a2" stroke-width="1.0"/>
<line x1="349.00" y1="638.76" x2="353.00" y2="638.76" stroke="#4a55a2" stroke-width="1.0"/>
<path d="M348.90,631.94 L353.10,631.94 L351.00,628.54 Z" fill="#4a55a2"/>
<circle cx="349.20" cy="637.45" r="1.5" fill="#4a55a2"/>
<circle cx="352.80" cy="635.45" r="1.5" fill="#4a55a2"/>
<circle cx="351.00" cy="638.76" r="1.5" fill="#4a55a2"/>
<rect x="359.20" y="640.33" width="7.20" height="41.17" fill="#fff" stroke="#2e8caa" stroke-width="1.2"/>
<line x1="362.80" y1="637.20" x2="362.80" y2="643.47" stroke="#2e8caa" stroke-width="1.0"/>
<line x1="360.80" y1="637.20" x2="364.80" y2="637.20" stroke="#2e8caa" stroke-width="1.0"/>
<line x1="360.80" y1="643.47" x2="364.80" y2="643.47" stroke="#2e8caa" stroke-width="1.0"/>
<path d="M360.70,639.00 L364.90,639.00 L362.80,635.60 Z" fill="#2e8caa"/>
<circle cx="361.00" cy="643.33" r="1.5" fill="#2e8caa"/>
<circle cx="364.60" cy="641.33" r="1.5" fill="#2e8caa"/>
<circle cx="362.80" cy="643.47" r="1.5" fill="#2e8caa"/>
<rect x="371.60" y="645.82" width="7.20" height="35.68" fill="#fff" stroke="#22aa8e" stroke-width="1.2"/>
<line x1="375.20" y1="632.10" x2="375.20" y2="653.66" stroke="#22aa8e" stroke-width="1.0"/>
<line x1="373.20" y1="632.10" x2="377.20" y2="632.10" stroke="#22aa8e" stroke-width="1.0"/>
<line x1="373.20" y1="653.66" x2="377.20" y2="653.66" stroke="#22aa8e" stroke-width="1.0"/>
<path d="M373.10,633.90 L377.30,633.90 L375.20,630.50 Z" fill="#22aa8e"/>
<circle cx="373.40" cy="648.82" r="1.5" fill="#22aa8e"/>
<circle cx="377.00" cy="646.82" r="1.5" fill="#22aa8e"/>
<circle cx="375.20" cy="653.66" r="1.5" fill="#22aa8e"/>
<rect x="384.30" y="646.21" width="7.20" height="35.29" fill="#fff" stroke="#76c852" stroke-width="1.2"/>
<line x1="387.90" y1="641.90" x2="387.90" y2="650.52" stroke="#76c852" stroke-width="1.0"/>
<line x1="385.90" y1="641.90" x2="389.90" y2="641.90" stroke="#76c852" stroke-width="1.0"/>
<line x1="385.90" y1="650.52" x2="389.90" y2="650.52" stroke="#76c852" stroke-width="1.0"/>
<path d="M385.80,643.70 L390.00,643.70 L387.90,640.30 Z" fill="#76c852"/>
<circle cx="386.10" cy="649.21" r="1.5" fill="#76c852"/>
<circle cx="389.70" cy="647.21" r="1.5" fill="#76c852"/>
<circle cx="387.90" cy="650.52" r="1.5" fill="#76c852"/>
<rect x="396.70" y="649.74" width="7.20" height="31.76" fill="#fff" stroke="#f5dc22" stroke-width="1.2"/>
<line x1="400.30" y1="636.02" x2="400.30" y2="657.58" stroke="#f5dc22" stroke-width="1.0"/>
<line x1="398.30" y1="636.02" x2="402.30" y2="636.02" stroke="#f5dc22" stroke-width="1.0"/>
<line x1="398.30" y1="657.58" x2="402.30" y2="657.58" stroke="#f5dc22" stroke-width="1.0"/>
<path d="M398.20,637.82 L402.40,637.82 L400.30,634.42 Z" fill="#f5dc22"/>
<circle cx="398.50" cy="652.74" r="1.5" fill="#f5dc22"/>
<circle cx="402.10" cy="650.74" r="1.5" fill="#f5dc22"/>
<circle cx="400.30" cy="657.58" r="1.5" fill="#f5dc22"/>
<line x1="338.60" y1="607.80" x2="400.30" y2="607.80" stroke="#444" stroke-width="1.4"/>
<text x="370.65" y="605.30" font-size="8.8" text-anchor="middle" fill="#231f20" stroke="#231f20" stroke-width="0.2">ns</text>
<line x1="375.20" y1="617.80" x2="400.30" y2="617.80" stroke="#444" stroke-width="1.4"/>
<text x="388.95" y="615.30" font-size="8.8" text-anchor="middle" fill="#231f20" stroke="#231f20" stroke-width="0.2">ns</text>
<line x1="387.90" y1="627.90" x2="400.30" y2="627.90" stroke="#444" stroke-width="1.4"/>
<text x="395.30" y="625.40" font-size="8.8" text-anchor="middle" fill="#231f20" stroke="#231f20" stroke-width="0.2">ns</text>
<text x="459.40" y="593.80" font-size="8.8" text-anchor="middle" fill="#231f20" stroke="#231f20" stroke-width="0.2">Hep3B</text>
<line x1="419.40" y1="681.60" x2="490.20" y2="681.60" stroke="#333" stroke-width="1.4"/>
<rect x="424.10" y="645.82" width="7.20" height="35.68" fill="#fff" stroke="#5a1f78" stroke-width="1.2"/>
<line x1="427.70" y1="637.20" x2="427.70" y2="653.66" stroke="#5a1f78" stroke-width="1.0"/>
<line x1="425.70" y1="637.20" x2="429.70" y2="637.20" stroke="#5a1f78" stroke-width="1.0"/>
<line x1="425.70" y1="653.66" x2="429.70" y2="653.66" stroke="#5a1f78" stroke-width="1.0"/>
<path d="M425.60,639.00 L429.80,639.00 L427.70,635.60 Z" fill="#5a1f78"/>
<circle cx="425.90" cy="648.82" r="1.5" fill="#5a1f78"/>
<circle cx="429.50" cy="646.82" r="1.5" fill="#5a1f78"/>
<circle cx="427.70" cy="653.66" r="1.5" fill="#5a1f78"/>
<rect x="436.50" y="643.08" width="7.20" height="38.42" fill="#fff" stroke="#4a55a2" stroke-width="1.2"/>
<line x1="440.10" y1="632.10" x2="440.10" y2="654.44" stroke="#4a55a2" stroke-width="1.0"/>
<line x1="438.10" y1="632.10" x2="442.10" y2="632.10" stroke="#4a55a2" stroke-width="1.0"/>
<line x1="438.10" y1="654.44" x2="442.10" y2="654.44" stroke="#4a55a2" stroke-width="1.0"/>
<path d="M438.00,633.90 L442.20,633.90 L440.10,630.50 Z" fill="#4a55a2"/>
<circle cx="438.30" cy="646.08" r="1.5" fill="#4a55a2"/>
<circle cx="441.90" cy="644.08" r="1.5" fill="#4a55a2"/>
<circle cx="440.10" cy="654.44" r="1.5" fill="#4a55a2"/>
<rect x="448.90" y="645.82" width="7.20" height="35.68" fill="#fff" stroke="#2e8caa" stroke-width="1.2"/>
<line x1="452.50" y1="636.02" x2="452.50" y2="655.62" stroke="#2e8caa" stroke-width="1.0"/>
<line x1="450.50" y1="636.02" x2="454.50" y2="636.02" stroke="#2e8caa" stroke-width="1.0"/>
<line x1="450.50" y1="655.62" x2="454.50" y2="655.62" stroke="#2e8caa" stroke-width="1.0"/>
<path d="M450.40,637.82 L454.60,637.82 L452.50,634.42 Z" fill="#2e8caa"/>
<circle cx="450.70" cy="648.82" r="1.5" fill="#2e8caa"/>
<circle cx="454.30" cy="646.82" r="1.5" fill="#2e8caa"/>
<circle cx="452.50" cy="655.62" r="1.5" fill="#2e8caa"/>
<rect x="461.30" y="652.88" width="7.20" height="28.62" fill="#fff" stroke="#22aa8e" stroke-width="1.2"/>
<line x1="464.90" y1="645.04" x2="464.90" y2="661.50" stroke="#22aa8e" stroke-width="1.0"/>
<line x1="462.90" y1="645.04" x2="466.90" y2="645.04" stroke="#22aa8e" stroke-width="1.0"/>
<line x1="462.90" y1="661.50" x2="466.90" y2="661.50" stroke="#22aa8e" stroke-width="1.0"/>
<path d="M462.80,646.84 L467.00,646.84 L464.90,643.44 Z" fill="#22aa8e"/>
<circle cx="463.10" cy="655.88" r="1.5" fill="#22aa8e"/>
<circle cx="466.70" cy="653.88" r="1.5" fill="#22aa8e"/>
<circle cx="464.90" cy="661.50" r="1.5" fill="#22aa8e"/>
<rect x="473.70" y="649.74" width="7.20" height="31.76" fill="#fff" stroke="#76c852" stroke-width="1.2"/>
<line x1="477.30" y1="637.20" x2="477.30" y2="659.54" stroke="#76c852" stroke-width="1.0"/>
<line x1="475.30" y1="637.20" x2="479.30" y2="637.20" stroke="#76c852" stroke-width="1.0"/>
<line x1="475.30" y1="659.54" x2="479.30" y2="659.54" stroke="#76c852" stroke-width="1.0"/>
<path d="M475.20,639.00 L479.40,639.00 L477.30,635.60 Z" fill="#76c852"/>
<circle cx="475.50" cy="652.74" r="1.5" fill="#76c852"/>
<circle cx="479.10" cy="650.74" r="1.5" fill="#76c852"/>
<circle cx="477.30" cy="659.54" r="1.5" fill="#76c852"/>
<rect x="486.10" y="650.52" width="7.20" height="30.98" fill="#fff" stroke="#f5dc22" stroke-width="1.2"/>
<line x1="489.70" y1="641.90" x2="489.70" y2="658.36" stroke="#f5dc22" stroke-width="1.0"/>
<line x1="487.70" y1="641.90" x2="491.70" y2="641.90" stroke="#f5dc22" stroke-width="1.0"/>
<line x1="487.70" y1="658.36" x2="491.70" y2="658.36" stroke="#f5dc22" stroke-width="1.0"/>
<path d="M487.60,643.70 L491.80,643.70 L489.70,640.30 Z" fill="#f5dc22"/>
<circle cx="487.90" cy="653.52" r="1.5" fill="#f5dc22"/>
<circle cx="491.50" cy="651.52" r="1.5" fill="#f5dc22"/>
<circle cx="489.70" cy="658.36" r="1.5" fill="#f5dc22"/>
<line x1="427.70" y1="609.50" x2="489.70" y2="609.50" stroke="#444" stroke-width="1.4"/>
<text x="459.90" y="607.00" font-size="8.8" text-anchor="middle" fill="#231f20" stroke="#231f20" stroke-width="0.2">ns</text>
<line x1="464.90" y1="619.50" x2="489.70" y2="619.50" stroke="#444" stroke-width="1.4"/>
<text x="478.50" y="617.00" font-size="8.8" text-anchor="middle" fill="#231f20" stroke="#231f20" stroke-width="0.2">ns</text>
<line x1="477.30" y1="630.20" x2="489.70" y2="630.20" stroke="#444" stroke-width="1.4"/>
<text x="484.70" y="627.70" font-size="8.8" text-anchor="middle" fill="#231f20" stroke="#231f20" stroke-width="0.2">ns</text>
<text x="549.30" y="593.80" font-size="8.8" text-anchor="middle" fill="#231f20" stroke="#231f20" stroke-width="0.2">HuH-7</text>
<line x1="509.60" y1="681.60" x2="587.90" y2="681.60" stroke="#333" stroke-width="1.4"/>
<rect x="513.80" y="624.26" width="7.20" height="57.24" fill="#fff" stroke="#5a1f78" stroke-width="1.2"/>
<line x1="517.40" y1="623.08" x2="517.40" y2="626.22" stroke="#5a1f78" stroke-width="1.0"/>
<line x1="515.40" y1="623.08" x2="519.40" y2="623.08" stroke="#5a1f78" stroke-width="1.0"/>
<line x1="515.40" y1="626.22" x2="519.40" y2="626.22" stroke="#5a1f78" stroke-width="1.0"/>
<path d="M515.30,624.88 L519.50,624.88 L517.40,621.48 Z" fill="#5a1f78"/>
<circle cx="515.60" cy="627.26" r="1.5" fill="#5a1f78"/>
<circle cx="519.20" cy="625.26" r="1.5" fill="#5a1f78"/>
<circle cx="517.40" cy="626.22" r="1.5" fill="#5a1f78"/>
<rect x="526.30" y="630.14" width="7.20" height="51.36" fill="#fff" stroke="#4a55a2" stroke-width="1.2"/>
<line x1="529.90" y1="628.96" x2="529.90" y2="631.32" stroke="#4a55a2" stroke-width="1.0"/>
<line x1="527.90" y1="628.96" x2="531.90" y2="628.96" stroke="#4a55a2" stroke-width="1.0"/>
<line x1="527.90" y1="631.32" x2="531.90" y2="631.32" stroke="#4a55a2" stroke-width="1.0"/>
<path d="M527.80,630.76 L532.00,630.76 L529.90,627.36 Z" fill="#4a55a2"/>
<circle cx="528.10" cy="633.14" r="1.5" fill="#4a55a2"/>
<circle cx="531.70" cy="631.14" r="1.5" fill="#4a55a2"/>
<circle cx="529.90" cy="631.32" r="1.5" fill="#4a55a2"/>
<rect x="538.90" y="632.10" width="7.20" height="49.40" fill="#fff" stroke="#2e8caa" stroke-width="1.2"/>
<line x1="542.50" y1="627.00" x2="542.50" y2="639.94" stroke="#2e8caa" stroke-width="1.0"/>
<line x1="540.50" y1="627.00" x2="544.50" y2="627.00" stroke="#2e8caa" stroke-width="1.0"/>
<line x1="540.50" y1="639.94" x2="544.50" y2="639.94" stroke="#2e8caa" stroke-width="1.0"/>
<path d="M540.40,628.80 L544.60,628.80 L542.50,625.40 Z" fill="#2e8caa"/>
<circle cx="540.70" cy="635.10" r="1.5" fill="#2e8caa"/>
<circle cx="544.30" cy="633.10" r="1.5" fill="#2e8caa"/>
<circle cx="542.50" cy="639.94" r="1.5" fill="#2e8caa"/>
<rect x="550.90" y="653.66" width="7.20" height="27.84" fill="#fff" stroke="#22aa8e" stroke-width="1.2"/>
<line x1="554.50" y1="650.92" x2="554.50" y2="654.44" stroke="#22aa8e" stroke-width="1.0"/>
<line x1="552.50" y1="650.92" x2="556.50" y2="650.92" stroke="#22aa8e" stroke-width="1.0"/>
<line x1="552.50" y1="654.44" x2="556.50" y2="654.44" stroke="#22aa8e" stroke-width="1.0"/>
<path d="M552.40,652.72 L556.60,652.72 L554.50,649.32 Z" fill="#22aa8e"/>
<circle cx="552.70" cy="656.66" r="1.5" fill="#22aa8e"/>
<circle cx="556.30" cy="654.66" r="1.5" fill="#22aa8e"/>
<circle cx="554.50" cy="654.44" r="1.5" fill="#22aa8e"/>
<rect x="563.80" y="651.70" width="7.20" height="29.80" fill="#fff" stroke="#76c852" stroke-width="1.2"/>
<line x1="567.40" y1="648.96" x2="567.40" y2="654.44" stroke="#76c852" stroke-width="1.0"/>
<line x1="565.40" y1="648.96" x2="569.40" y2="648.96" stroke="#76c852" stroke-width="1.0"/>
<line x1="565.40" y1="654.44" x2="569.40" y2="654.44" stroke="#76c852" stroke-width="1.0"/>
<path d="M565.30,650.76 L569.50,650.76 L567.40,647.36 Z" fill="#76c852"/>
<circle cx="565.60" cy="654.70" r="1.5" fill="#76c852"/>
<circle cx="569.20" cy="652.70" r="1.5" fill="#76c852"/>
<circle cx="567.40" cy="654.44" r="1.5" fill="#76c852"/>
<rect x="576.00" y="651.70" width="7.20" height="29.80" fill="#fff" stroke="#f5dc22" stroke-width="1.2"/>
<line x1="579.60" y1="647.78" x2="579.60" y2="653.66" stroke="#f5dc22" stroke-width="1.0"/>
<line x1="577.60" y1="647.78" x2="581.60" y2="647.78" stroke="#f5dc22" stroke-width="1.0"/>
<line x1="577.60" y1="653.66" x2="581.60" y2="653.66" stroke="#f5dc22" stroke-width="1.0"/>
<path d="M577.50,649.58 L581.70,649.58 L579.60,646.18 Z" fill="#f5dc22"/>
<circle cx="577.80" cy="654.70" r="1.5" fill="#f5dc22"/>
<circle cx="581.40" cy="652.70" r="1.5" fill="#f5dc22"/>
<circle cx="579.60" cy="653.66" r="1.5" fill="#f5dc22"/>
<line x1="517.40" y1="609.20" x2="579.60" y2="609.20" stroke="#444" stroke-width="1.4"/>
<text x="548.50" y="607.60" font-size="8.5" text-anchor="middle" font-weight="bold" fill="#231f20">***</text>
<line x1="517.40" y1="619.40" x2="554.50" y2="619.40" stroke="#444" stroke-width="1.4"/>
<text x="535.95" y="617.80" font-size="8.5" text-anchor="middle" font-weight="bold" fill="#231f20">***</text>
<line x1="554.50" y1="632.60" x2="579.60" y2="632.60" stroke="#444" stroke-width="1.4"/>
<text x="568.25" y="630.10" font-size="8.8" text-anchor="middle" fill="#231f20" stroke="#231f20" stroke-width="0.2">ns</text>
<line x1="567.40" y1="642.60" x2="579.60" y2="642.60" stroke="#444" stroke-width="1.4"/>
<text x="574.70" y="640.10" font-size="8.8" text-anchor="middle" fill="#231f20" stroke="#231f20" stroke-width="0.2">ns</text>
<rect x="604.40" y="623.00" width="7.20" height="4.80" fill="#fff" stroke="#5a1f78" stroke-width="1.2"/>
<text x="617.60" y="628.40" font-size="8.8" fill="#231f20" stroke="#231f20" stroke-width="0.2">DMSO</text>
<rect x="604.40" y="633.80" width="7.20" height="4.80" fill="#fff" stroke="#4a55a2" stroke-width="1.2"/>
<text x="617.60" y="639.20" font-size="8.8" fill="#231f20" stroke="#231f20" stroke-width="0.2">THA</text>
<rect x="604.40" y="644.00" width="7.20" height="4.80" fill="#fff" stroke="#2e8caa" stroke-width="1.2"/>
<text x="617.60" y="649.40" font-size="8.8" fill="#231f20" stroke="#231f20" stroke-width="0.2">CAN</text>
<rect x="604.40" y="654.60" width="7.20" height="4.80" fill="#fff" stroke="#22aa8e" stroke-width="1.2"/>
<text x="617.60" y="660.00" font-size="8.8" fill="#231f20" stroke="#231f20" stroke-width="0.2">CAR</text>
<rect x="604.40" y="664.80" width="7.20" height="4.80" fill="#fff" stroke="#76c852" stroke-width="1.2"/>
<text x="617.60" y="670.20" font-size="8.8" fill="#231f20" stroke="#231f20" stroke-width="0.2">TC</text>
<rect x="604.40" y="675.10" width="7.20" height="4.80" fill="#fff" stroke="#f5dc22" stroke-width="1.2"/>
<text x="617.60" y="680.50" font-size="8.8" fill="#231f20" stroke="#231f20" stroke-width="0.2">TCC</text>
</svg>
</body></html>
